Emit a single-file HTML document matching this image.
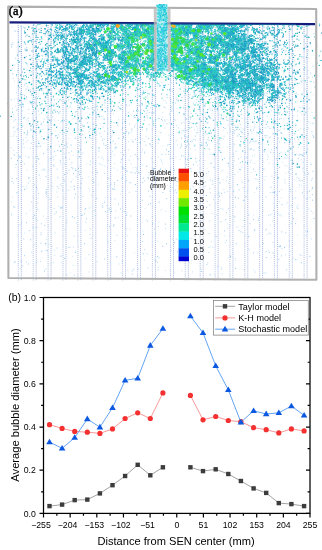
<!DOCTYPE html><html><head><meta charset="utf-8"><title>Bubble diameter</title>
<style>html,body{margin:0;padding:0;background:#fff}svg{display:block}text{font-family:"Liberation Sans",sans-serif;fill:#000}.se{font-family:"Liberation Serif",serif;font-weight:bold}</style></head><body>
<svg width="322" height="550" viewBox="0 0 322 550">
<rect width="322" height="550" fill="#fff"/>
<defs><linearGradient id="lg" gradientUnits="userSpaceOnUse" x1="0" y1="25" x2="0" y2="281"><stop offset="0" stop-color="#7c96d0"/><stop offset=".45" stop-color="#8aa0d4"/><stop offset="1" stop-color="#a4b4dc"/></linearGradient></defs>
<path d="M18.3 25V281M33.2 25V281M48.1 25V281M63.0 25V281M77.9 25V281M92.8 25V281M107.7 25V281M122.6 25V281M137.5 25V281M152.4 25V281M170.5 25V281M185.3 25V281M200.2 25V281M215.1 25V281M229.9 25V281M244.8 25V281M259.6 25V281M274.4 25V281M289.3 25V281M304.1 25V281" stroke="url(#lg)" stroke-width="1.1" stroke-dasharray="1.05 0.9" fill="none" opacity=".7"/>
<path d="M21.3 25.6V281M36.2 25.6V281M51.1 25.6V281M66.0 25.6V281M80.9 25.6V281M95.8 25.6V281M110.7 25.6V281M125.6 25.6V281M140.5 25.6V281M155.4 25.6V281M173.5 25.6V281M188.3 25.6V281M203.2 25.6V281M218.1 25.6V281M232.9 25.6V281M247.8 25.6V281M262.6 25.6V281M277.4 25.6V281M292.3 25.6V281M307.1 25.6V281" stroke="url(#lg)" stroke-width="1" stroke-dasharray="1.05 0.9" fill="none" opacity=".9"/>
<defs><filter id="sf" x="0" y="0" width="322" height="290" filterUnits="userSpaceOnUse"><feGaussianBlur stdDeviation="0.32"/></filter></defs>
<g filter="url(#sf)"><g transform="scale(.1)" stroke-linecap="round" fill="none">
<path d="M1265 270h1m-85 31h1m345 4h1m-158 49h1m1352-6h1m-1969 20h1m255 1h1m144 13h1m50-4h1m1123 11h1m-749 5h1m75 14h1m1147 4h1m-918 35h1m98-16h1m-351 39h1m-1241 16h1m81 13h1m1838-1h1m541 7h1m-2033 33h1m82-12h1m1529 5h1m92-15h1m-392 47h1m357-16h1m-2187 35h1m1119-9h1m1319-1h1m-1453 58h1m432 15h1m594-14h1m-1584 50h1m1600-2h1m-1941 23h1m94 17h1m243-4h1m687-11h1m66-9h1m552 14h1m467 2h1m507-19h1m44 12h1m-2952 33h1m1789 29h1m991 1h1m-2517 13h1m1135 21h1m498-3h1m922 2h1m-1562 38h1m1745-14h1m-2277 25h1m5-4h1m59 18h1m754-18h1m287 19h1m179-7h1m-141 24h1m150 6h1m680 10h1m96 13h1m-1323 31h1m881-9h1m-2252 50h1m135-19h1m66 12h1m1442 1h1m397 13h1m-2034 2h1m1709 6h1m122 2h1m153-7h1m8-2h1m814 26h1m-152 18h1m-2691 30h1m231-3h1m456 18h1m272-2h1m207-17h1m22-10h1m130 18h1m152-9h1m843-6h1m-1178 32h1m35 14h1m61 6h1m-870 11h1m1308 21h1m-1385 32h1m874-25h1m292-3h1m-302 55h1m1416-11h1m-1188 17h1m959 12h1m-2208 34h1m324-9h1m787 8h1m47-14h1m21 26h1m333-26h1m-1069 29h1m160 27h1m979-27h1m567 40h1m253 4h1m126 7h1m-2640 19h1m304 17h1m244-3h1m170-14h1m1443 10h1m-1644 32h1m211-8h1m1103 1h1m125-5h1m753 6h1m-2087 17h1m119 3h1m561 13h1m479-3h1m834-3h1m81-2h1m-2676 40h1m74-21h1m280 18h1m654-14h1m9 5h1m113-6h1m730 3h1m-1800 47h1m671-11h1m457 7h1m352 2h1m480-21h1m-1705 44h1m416 0h1m-342 26h1m1642 1h1m-2174 43h1m1499-12h1m450-4h1m877 9h1m-2659 18h1m1225 2h1m660 14h1m88-21h1m429 24h1m-2263 4h1m582 13h1m207-2h1m1633 10h1m-2209 14h1m236 6h1m251-9h1m1295-2h1m527 3h1m-895 51h1m-819 51h1m763-9h1m264 28h1m-2226 42h1m513 11h1m450-11h1m1759 12h1m-2567 31h1m361-18h1m498 16h1m303-20h1m749 21h1m68-22h1m324 8h1m259 15h1m261-28h1m-2772 46h1m243 35h1m1218 1h1m244-19h1m515 25h1m-1207 25h1m337-3h1m636 5h1m567 3h1m-2441 26h1m3-22h1m1634 5h1m112 6h1m-396 47h1m-777 45h1m1027-12h1m-588 30h1m-944 40h1m485-9h1m1199 17h1m-1176 23h1m1211 11h1m846-15h1m-2161 46h1m-287 70h1m190-6h1m1083 16h1m-359 28h1m785 6h1m288 28h1m-253 19h1m285 13h1m163-2h1m-908 31h1m212 5h1m-245 23h1m-841 34h1m1553 13h1m-2269 30h1m154 0h1m50 15h1m165-10h1m710 24h1m23 45h1m118 39h1m-546 11h1m-783 31h1m139-6h1m1664 31h1m-1611 46h1m1757-2h1m647 9h1m-767 46h1" stroke="#94c4ec" stroke-width="8"/>
<path d="M1043 284h1m437 9h1m1303-18h1m-2634 38h1m1092-9h1m735 13h1m499 4h1m-660 19h1m-1514 42h1m1214 1h1m46-3h1m1052-20h1m-77 43h1m-2435 40h1m690-21h1m1978 15h1m-1730 42h1m990-16h1m1012 8h1m-2645 24h1m2062-8h1m-418 29h1m-1683 80h1m1267-11h1m-989 39h1m981-18h1m1193 19h1m-2209 27h1m552 4h1m724-4h1m711 3h1m-685 23h1m-1580 13h1m2078 21h1m610-10h1m-2569 32h1m105 12h1m402-9h1m939-1h1m211 7h1m807-20h1m-1467 39h1m1462 8h1m-1437 15h1m331 43h1m1154 5h1m-2746 17h1m1406-2h1m317 19h1m154-13h1m4 6h1m36 2h1m11-6h1m730-11h1m-2719 32h1m112 22h1m1388-3h1m-968 28h1m96-5h1m698-14h1m309 6h1m1270 14h1m-2906 6h1m17 14h1m1205 2h1m187-6h1m778 5h1m245-3h1m-2375 27h1m267-10h1m611 3h1m525 11h1m882-5h1m-2207 26h1m1419 3h1m-1537 47h1m409-21h1m770 11h1m-715 35h1m174-4h1m67 7h1m697-5h1m1144 9h1m-1404 31h1m53-2h1m889-15h1m286-6h1m-2082 48h1m192 2h1m29-15h1m7-3h1m517 5h1m247 8h1m-607 19h1m1364-8h1m572 2h1m-2706 54h1m313-26h1m1116 13h1m27 11h1m491-8h1m267 13h1m254 4h1m240 30h1m257 0h1m-2997 43h1m1783-3h1m-1611 16h1m2 13h1m1007-13h1m1077 6h1m207-2h1m378 9h1m-2708 21h1m646 4h1m684-2h1m175 1h1m193 0h1m413 19h1m414-20h1m-855 35h1m704-5h1m390 16h1m-1564 14h1m603 15h1m107 2h1m-1968 36h1m397-29h1m407 29h1m833-20h1m32-3h1m635-3h1m-2139 54h1m1054-16h1m233-6h1m258 6h1m-287 46h1m137-19h1m-1256 35h1m898 8h1m1007 2h1m192-5h1m-2213 17h1m1183 9h1m266 2h1m981 8h1m121-1h1m-2460 15h1m1936 6h1m380 5h1m-2628 40h1m1650-26h1m-875 46h1m1922 3h1m-2382 21h1m678 2h1m1575 9h1m-2069 15h1m25 13h1m203 5h1m583-23h1m60 12h1m58 12h1m34 0h1m6-12h1m691-2h1m7 4h1m-916 27h1m40 8h1m533 5h1m687-12h1m129-5h1m162 9h1m-1298 51h1m353 18h1m-677 27h1m-616 8h1m1020 22h1m294-14h1m-1556 23h1m229 14h1m1128-12h1m165 20h1m611-14h1m417 0h1m-2917 30h1m721 12h1m213-20h1m604 6h1m997 17h1m-1123 7h1m137 3h1m422 0h1m833 0h1m-1600 74h1m79 34h1m301 28h1m-603 26h1m1772-8h1m-2030 24h1m-835 41h1m729-9h1m1160 6h1m481 7h1m199 2h1m57-11h1m-1881 47h1m287-9h1m154-20h1m902 57h1m373-16h1m-1059 33h1m1427 2h1m-2627 43h1m2216 21h1m-185 138h1m-1675 37h1m-215 33h1m2186 8h1m30 8h1m-2448 33h1m2569 2h1m-2171 25h1m2141 10h1m-2645 29h1m1414-12h1m-1337 49h1m60-20h1m1054 53h1m241 5h1m428-9h1m345-4h1m85 12h1m-1998 14h1m877-2h1m692 6h1m533 5h1" stroke="#7cbce8" stroke-width="8"/>
<path d="M452 283h1m1924 0h1m-2238 24h1m35 9h1m2732-9h1m-1827 46h1m501-1h1m-761 53h1m1041-12h1m78 15h1m560 65h1m-1982 12h1m214-2h1m1095 24h1m-1157 31h1m247 0h1m353-9h1m391-4h1m1087 4h1m89-13h1m-1165 31h1m797 15h1m195-17h1m-1913 49h1m1738 3h1m-1692 23h1m205 1h1m-703 17h1m187 0h1m1014 9h1m1095-13h1m-1057 53h1m-435 12h1m546 17h1m358-4h1m671-6h1m-2588 32h1m361-1h1m559 11h1m-882 12h1m1522 2h1m37 7h1m158-19h1m829 6h1m-295 52h1m-2275 4h1m1472 18h1m200-5h1m1198-1h1m-2076 25h1m626 11h1m943 6h1m549-23h1m-1933 41h1m-751 20h1m316-1h1m1295 7h1m-591 49h1m485-10h1m147 2h1m361 8h1m254-29h1m103 21h1m260-20h1m-2047 34h1m1903 20h1m-2706 5h1m1859 28h1m489-18h1m-1638 29h1m773 3h1m91-2h1m301 30h1m98 5h1m70-15h1m536 5h1m-2639 31h1m772 5h1m175 16h1m-734 11h1m762-6h1m1752 10h1m-1961 23h1m1440 12h1m635 3h1m-2693 22h1m76-4h1m1233 7h1m310 8h1m307-18h1m152 22h1m-1784 8h1m32 7h1m1281 6h1m121-6h1m260-10h1m33 12h1m-549 39h1m513-4h1m-854 18h1m220 13h1m329 2h1m434-3h1m128 3h1m109-2h1m-2495 37h1m1160-14h1m103-5h1m41 10h1m539 7h1m50-6h1m373-16h1m189 15h1m-1333 18h1m505 5h1m549 6h1m172-6h1m-1400 32h1m117 1h1m161 12h1m183-16h1m794-6h1m315 21h1m-2416 30h1m854-1h1m634 3h1m683-6h1m-2113 22h1m455 2h1m784 7h1m921-16h1m-1710 38h1m268 0h1m103 14h1m644-26h1m250 18h1m-1391 11h1m424 7h1m1884-6h1m93 19h1m-2941 14h1m29 22h1m1077-25h1m705 0h1m685 5h1m98 18h1m-2228 5h1m131 8h1m476 0h1m325-5h1m209 11h1m446 3h1m234-12h1m454 24h1m240-21h1m13 0h1m-2059 33h1m315-8h1m1106 8h1m217 17h1m51-19h1m-687 36h1m346-2h1m169-2h1m-1588 24h1m384 14h1m797-2h1m163-8h1m-916 44h1m1490-20h1m-2360 48h1m752-9h1m1534-7h1m-227 29h1m498 35h1m-2471 33h1m2388-5h1m21 21h1m129-8h1m-1065 27h1m-1457 29h1m2390 1h1m-2286 21h1m890 19h1m195 30h1m650-1h1m370-21h1m-967 35h1m623-9h1m-1897 49h1m-199 14h1m1754 13h1m-1762 36h1m648 1h1m2064 55h1m-2003 19h1m524-8h1m1335 14h1m-2125 35h1m1298-15h1m1007-4h1m-779 32h1m-447 57h1m-1643 7h1m1 1h1m1319-5h1m684 18h1m-1007 48h1m735-8h1m1060 71h1m-1340 42h1m39-1h1m-186 20h1m532 6h1m-1660 31h1m1991-12h1m-1744 33h1m2198 45h1m-2584 7h1m1232 77h1m484 6h1m-1819 21h1m316 1h1m438-11h1m599 6h1m503 7h1m-1568 11h1m1073 30h1m-696 49h1m322 8h1m488-24h1m120 6h1m-1156 40h1m1553-11h1m427-8h1" stroke="#a8d0f0" stroke-width="8"/>
<path d="M1610 267h1m-258 8h1m200 20h1m897 16h1m541 3h1m-2498 17h1m168 14h1m-540 100h1m420 3h1m984-9h1m132 18h1m1156 30h1m-2300 44h1m373-20h1m939 17h1m-92 41h1m-792 20h1m542 7h1m499-21h1m30-1h1m-984 26h1m-405 37h1m146 14h1m514 3h1m-92 26h1m245-8h1m494-1h1m254 14h1m-1621 24h1m1117-2h1m718-17h1m-1988 52h1m1048-18h1m-1222 37h1m867-11h1m168 29h1m1365-27h1m-2477 45h1m320 9h1m316 0h1m310-25h1m978 7h1m314 8h1m-2038 24h1m129 18h1m357-28h1m889 27h1m117 2h1m-894 9h1m917 11h1m335 6h1m-1689 9h1m152 23h1m558-9h1m-847 35h1m657-14h1m1408-7h1m37 6h1m53 3h1m-2357 38h1m76 7h1m531 1h1m208-13h1m484 11h1m903-19h1m503 0h1m-1402 44h1m-293 29h1m398 3h1m446 14h1m520-6h1m-2389 50h1m349-12h1m1253-5h1m610 18h1m-2072 36h1m437-8h1m684-18h1m594 1h1m6 20h1m61 3h1m900-20h1m-2779 50h1m190-7h1m990-8h1m-1338 24h1m82 9h1m238 2h1m470-14h1m333 5h1m73 23h1m856-27h1m-1008 55h1m261-23h1m1385 15h1m-2548 20h1m1467-8h1m609 19h1m81 1h1m96-5h1m169 6h1m20-20h1m-563 63h1m326 5h1m312-9h1m92 11h1m-2485 23h1m518 6h1m4 10h1m1575 5h1m-477 22h1m-1937 25h1m53 2h1m2212-1h1m293-7h1m-436 35h1m-1370 34h1m1651-8h1m-58 42h1m158-18h1m-1472 50h1m754-7h1m365-15h1m234 23h1m400-19h1m-1783 39h1m905 13h1m-1514 17h1m211 9h1m2239-10h1m-2713 21h1m859 3h1m246-5h1m146 23h1m246-11h1m765-11h1m-2045 51h1m1126-20h1m345 23h1m97-9h1m622-10h1m-2067 46h1m257-3h1m276-5h1m283 13h1m536-25h1m579 10h1m560-6h1m-2950 48h1m2032-14h1m142 11h1m0-18h1m536 4h1m-2497 49h1m1224 0h1m54-14h1m-1183 22h1m924 18h1m818-14h1m819-4h1m-1806 34h1m1414 50h1m-1390 20h1m1331-4h1m-939 21h1m24 16h1m84 3h1m1252 1h1m-2748 30h1m258-25h1m566-1h1m1336 15h1m-1762 28h1m544 10h1m1058 1h1m-1071 27h1m542-18h1m-1621 50h1m700-8h1m1984 13h1m-2174 13h1m-526 31h1m2055 4h1m793 42h1m-2363 20h1m805-14h1m-1111 26h1m928 14h1m-764 75h1m454-5h1m263-10h1m555-9h1m600 2h1m239 12h1m235-19h1m100 55h1m-2563 61h1m1420-2h1m-676 60h1m450-1h1m1120 11h1m-2210 51h1m1434-13h1m-832 18h1m79 6h1m374 13h1m-1059 17h1m2339 23h1m-705 8h1m581 40h1m-1339 21h1m940 48h1m66 25h1m581-20h1m32 18h1m-2357 24h1m483 2h1m121 0h1m1671-11h1m-1701 26h1m1572 18h1m-1110 45h1m1004 26h1" stroke="#b4e0f0" stroke-width="8"/>
<path d="M2172 265h1m-1920 25h1m974 34h1m728-6h1m-1502 39h1m75-23h1m-201 67h1m785 13h1m1649-7h1m-2365 29h1m166-9h1m1842 22h1m689-1h1m-2937 24h1m1116-21h1m272 21h1m97-11h1m-222 45h1m622 3h1m323-22h1m-1925 27h1m178 3h1m1398 9h1m26 13h1m844-12h1m-2485 34h1m113-7h1m1358 1h1m1016-13h1m-2457 45h1m431 3h1m1871-3h1m-844 37h1m560-11h1m579 10h1m-2920 23h1m41 1h1m270 8h1m40-15h1m746 17h1m119-15h1m1071 16h1m-653 14h1m31-10h1m1037 5h1m-1946 29h1m109 9h1m802 2h1m1179 3h1m-1813 30h1m-513 20h1m181 11h1m1828-11h1m-2227 36h1m1522 5h1m-1653 20h1m370 16h1m23-7h1m636-14h1m1007 15h1m-1853 32h1m1579 1h1m255-3h1m463-16h1m-1582 41h1m388 3h1m97-2h1m510-6h1m-1808 29h1m994 18h1m584-23h1m83 17h1m-615 21h1m182 7h1m178 6h1m226-21h1m334 16h1m728-3h1m-2676 28h1m425-3h1m145 10h1m663-5h1m805-4h1m563-5h1m-974 50h1m317-23h1m562 5h1m-2658 28h1m399 5h1m-123 41h1m450-22h1m318 4h1m119 4h1m229 14h1m55 13h1m559 14h1m383 5h1m-2328 10h1m1734 16h1m428 0h1m424-16h1m27 4h1m-2612 27h1m919 1h1m311 20h1m997-14h1m-2421 41h1m59 3h1m16-12h1m258 11h1m709 0h1m1170-13h1m87 11h1m208-4h1m-2379 10h1m1572 23h1m237-22h1m314 19h1m166-11h1m24 7h1m385-17h1m-2217 44h1m113-13h1m411 17h1m84-8h1m253-11h1m-1543 34h1m1068 28h1m1012 12h1m366 8h1m202-19h1m-2657 45h1m818 8h1m273-9h1m15-16h1m32 19h1m-1015 20h1m143 4h1m216-4h1m1985 17h1m33-2h1m313-6h1m157-18h1m-2897 58h1m457-26h1m63 1h1m495 4h1m1059 0h1m223 2h1m533-7h1m-2481 33h1m1917-6h1m-876 47h1m106 2h1m-1226 25h1m1353-10h1m613 20h1m20 1h1m14-9h1m416 42h1m-2322 19h1m796 12h1m632-15h1m175 14h1m-1422 8h1m221 17h1m680 4h1m181-2h1m-848 13h1m821 15h1m781 3h1m270-11h1m77 4h1m23-13h1m-2615 39h1m308 12h1m917-14h1m1065 1h1m133-14h1m72 23h1m-2102 20h1m533 16h1m645-25h1m-1707 45h1m534-15h1m462 17h1m800-18h1m-224 55h1m436-6h1m309 2h1m258-4h1m-1237 16h1m1040 19h1m-1930 28h1m2219 5h1m-1641 29h1m1109-20h1m309 15h1m-2521 28h1m311-18h1m463 9h1m924 17h1m293-25h1m82-2h1m-2065 33h1m7 3h1m130 3h1m160-4h1m361 17h1m687-11h1m737 5h1m685-5h1m-2619 26h1m517 10h1m184-10h1m44-5h1m1831 19h1m161-11h1m-1255 30h1m676-6h1m-694 52h1m1082 7h1m-1887 27h1m341 10h1m1403-3h1m-1730 36h1m742 9h1m173-18h1m-1611 37h1m251-9h1m827 12h1m-794 16h1m612 24h1m1360-14h1m-98 36h1m246-5h1m-1580 61h1m1501 50h1m-1856 51h1m-604 27h1m1180-19h1m1628 0h1m-1782 47h1m1698-7h1m-2200 61h1m-433 31h1m150-1h1m1315-11h1m-1607 60h1m2130 45h1m655 4h1m-2268 23h1m2021 4h1m-1896 14h1m589 21h1m474 3h1m791-26h1m-818 43h1m640 74h1m-1258 7h1m467 22h1m1159-3h1m-2204 8h1" stroke="#bcdcf4" stroke-width="8"/>
<path d="M373 249h1m221 18h1m381 0h1m86-1h1m210-22h1m6-4h1m6 16h1m0 3h1m135-16h1m7 12h1m16-8h1m375 6h1m87-5h1m218 5h1m35-10h1m24 19h1m43-8h1m82-13h1m32 28h1m-1599 1h1m127 8h1m49 8h1m8 8h1m42-12h1m52 1h1m204 8h1m10-7h1m61-6h1m43-5h1m-1 7h1m143 1h1m368 8h1m122-4h1m11-2h1m39 2h1m233-3h1m3 10h1m26 3h1m9 4h1m3-3h1m11-1h1m214 0h1m39-20h1m76 19h1m331-21h1m-2590 51h1m172-24h1m34 11h1m14 0h1m195-8h1m394 4h1m562 7h1m80-9h1m13-4h1m4-1h1m11 14h1m88 10h1m219 3h1m31 0h1m70-18h1m18 15h1m129-22h1m139 3h1m-2057 45h1m54 0h1m478-17h1m178 18h1m44 3h1m66-12h1m10 13h1m5-2h1m404-8h1m15-11h1m0 13h1m351 8h1m15-3h1m71-2h1m8-3h1m230 11h1m-1992 2h1m51 19h1m53-4h1m172 8h1m37-17h1m77 20h1m121-3h1m4 6h1m293-21h1m29 18h1m380-26h1m13 17h1m27 0h1m192 4h1m165 2h1m23-12h1m19 17h1m72-1h1m16-27h1m10 6h1m31 13h1m100 4h1m33-20h1m702 6h1m-2485 28h1m70 4h1m9-9h1m42 4h1m19 5h1m4-2h1m199 15h1m280-12h1m190 10h1m328-5h1m35 7h1m305-22h1m15-2h1m7 7h1m25-5h1m138 6h1m20 2h1m7-7h1m9 23h1m131-23h1m-1787 32h1m112 8h1m14 3h1m18 6h1m164-1h1m4 6h1m15-24h1m120 25h1m207-23h1m388 5h1m194 0h1m115 0h1m-1 5h1m10 3h1m116-14h1m45 18h1m37-15h1m22 13h1m13-7h1m58 12h1m46-24h1m7 20h1m30-20h1m36 7h1m99 11h1m163-13h1m-2315 41h1m433-7h1m135 11h1m19-17h1m0 4h1m11-2h1m107 2h1m12 0h1m92 11h1m206 0h1m14 2h1m19-20h1m211 14h1m19-10h1m157 2h1m5 7h1m2 15h1m91-15h1m4-6h1m138 18h1m1-22h1m95 3h1m37 3h1m18-8h1m38 22h1m40-10h1m138 5h1m8 10h1m-1726 18h1m-1 2h1m97-11h1m2 9h1m23-10h1m57 0h1m16 9h1m75-9h1m163 11h1m207-12h1m410-2h1m64 21h1m36-17h1m9 14h1m70-11h1m213 18h1m12-7h1m233 4h1m11-7h1m10-4h1m267-3h1m-2375 18h1m273 11h1m86-7h1m224 0h1m58 14h1m5 2h1m117 9h1m66-22h1m3 10h1m28-1h1m30 4h1m661 8h1m196-27h1m34 11h1m2-7h1m46 3h1m152-3h1m64 21h1m21-11h1m3 1h1m3 10h1m13-16h1m3 4h1m51 5h1m2 1h1m43-7h1m-1922 17h1m97 20h1m58-9h1m24 15h1m166-21h1m39 6h1m0-6h1m204 15h1m399-19h1m259 6h1m7 16h1m7-22h1m34 20h1m30-17h1m65 24h1m12-22h1m11 23h1m28-10h1m148-11h1m25-4h1m111 10h1m2 14h1m97-20h1m116-2h1m304 18h1m-2313 22h1m50 2h1m24-4h1m76-12h1m36 17h1m226-11h1m105 14h1m52-20h1m2 19h1m54-20h1m5 10h1m2-5h1m609 2h1m57-5h1m34 15h1m75-13h1m43-1h1m7 19h1m60-18h1m228 9h1m156 6h1m289-10h1m-2227 35h1m13-8h1m7 7h1m11 9h1m2 1h1m3-12h1m2 2h1m26 15h1m132-15h1m128 9h1m212-3h1m156-18h1m85 0h1m41 27h1m304-21h1m103 7h1m19-2h1m1 3h1m12 11h1m192-26h1m33 2h1m176 14h1m172 2h1m186-19h1m7 28h1m47-18h1m-2499 28h1m166 19h1m100-1h1m292 3h1m183-27h1m4 26h1m154-18h1m67 13h1m23-8h1m511-2h1m89-4h1m117 4h1m51 10h1m7-7h1m62-16h1m17 2h1m73 14h1m97 8h1m22-8h1m125 3h1m51-14h1m202 22h1m12-7h1m-2209 16h1m248 18h1m508-9h1m260 1h1m190-14h1m238 5h1m9 10h1m2-7h1m14-1h1m27 4h1m64 10h1m43 4h1m152 0h1m13-15h1m10 7h1m41-12h1m24 0h1m37 4h1m106 16h1m41-24h1m30 0h1m20 6h1m126 7h1m6 6h1m83-9h1m-2074 34h1m272 0h1m944 0h1m117 12h1m30-15h1m15-12h1m39 22h1m67-24h1m15 29h1m21-19h1m132 13h1m54 3h1m7-15h1m25-5h1m11 9h1m100-11h1m34 25h1m44-18h1m30 11h1m116 5h1m-2329 11h1m57-7h1m245 10h1m116 14h1m66 3h1m44-1h1m251-17h1m280-7h1m355-1h1m45 26h1m130-10h1m210-4h1m52 13h1m66-2h1m17-18h1m7 20h1m27-2h1m5-12h1m181-13h1m55 14h1m188-10h1m-2442 33h1m1-7h1m137 25h1m144-18h1m11 17h1m59-8h1m141-6h1m197 10h1m688 6h1m102-25h1m56 7h1m57 3h1m22-2h1m7 7h1m8 12h1m22-3h1m74-10h1m185-2h1m44-7h1m34 4h1m-1910 29h1m232 9h1m171 1h1m53-8h1m77 7h1m52 0h1m829-9h1m157-4h1m15 22h1m42-17h1m21 8h1m20-18h1m96 13h1m41 0h1m13-8h1m5 20h1m41-20h1m3-2h1m64 20h1m7-4h1m65 3h1m110-1h1m11-17h1m-2364 26h1m16 9h1m180-7h1m133 18h1m6-17h1m22-1h1m164 16h1m24-1h1m-1 4h1m86-9h1m14 2h1m79 7h1m864-4h1m100-2h1m91 5h1m87-10h1m48 6h1m11-7h1m103 8h1m7-16h1m108 15h1m87 4h1m40-14h1m-2103 46h1m279 1h1m307-9h1m969 13h1m50-16h1m39 14h1m24-14h1m24 13h1m2 1h1m6-7h1m2 7h1m21-2h1m45-8h1m35-15h1m-1 26h1m33 1h1m38-27h1m24 15h1m26-2h1m2-10h1m40 7h1m48 11h1m79-4h1m62-4h1m75-3h1m31-4h1m-2484 34h1m337 9h1m152 6h1m1217-5h1m163-3h1m29-14h1m233 14h1m4-8h1m-2091 21h1m215 12h1m532-8h1m900 19h1m176-18h1m60-4h1m103 9h1m40-4h1m20 8h1m79-13h1m14 15h1m6 12h1m4-18h1m14-9h1m12 13h1m125-7h1m15 5h1m3-2h1m-40 34h1m10 2h1m-522 30h1m38-5h1m185 11h1m2-19h1m6 26h1m99-21h1m64 17h1m88-11h1m-2107 44h1m13-20h1m1648 21h1m317-12h1m14 0h1m90-3h1m26-5h1m9-1h1m323 12h1m-2709 11h1m1802 4h1m165-4h1m98 0h1m161 14h1m-1 4h1m140-15h1m-2160 35h1m1587-7h1m370 0h1m-2144 28h1m1011 28h1m1047-7h1m526-2h1m25 106h1m-877 72h1m831 41h1m-1683 14h1m1707 6h1m52 38h1m-188 189h1m-392 53h1m498-16h1" stroke="#24b8cc" stroke-width="10"/>
<path d="M388 246h1m466 20h1m558-25h1m365 3h1m114 24h1m173-18h1m11-9h1m30 28h1m2-21h1m17 15h1m47-9h1m108 7h1m30-11h1m49 14h1m52-16h1m1 17h1m62-23h1m309 1h1m26 8h1m-2101 26h1m71 2h1m21-8h1m-1 28h1m8-29h1m79 3h1m309 7h1m528 11h1m13-8h1m90-2h1m143 4h1m59-10h1m19 20h1m169-15h1m12 10h1m67 5h1m18-14h1m25 7h1m-1867 41h1m139-21h1m141 19h1m27-3h1m20-17h1m34 13h1m103-8h1m215 11h1m80-22h1m27 17h1m81-18h1m61 23h1m343 4h1m6-13h1m222 12h1m160-11h1m50-9h1m12 14h1m10-20h1m46 24h1m0-21h1m7 15h1m22-12h1m6 19h1m242 2h1m186-25h1m17 15h1m1-13h1m-2445 34h1m477-5h1m9 17h1m191 1h1m82-2h1m6-18h1m55-1h1m69 22h1m22-9h1m478-1h1m4-7h1m50 11h1m162 0h1m283 5h1m68-18h1m2 23h1m246-5h1m-1983 38h1m39-13h1m141-2h1m129-9h1m24 12h1m111 11h1m57-15h1m13-9h1m29 18h1m141 3h1m63-24h1m115 12h1m41 6h1m644 2h1m29 0h1m21-9h1m20 3h1m40 2h1m23-16h1m114 26h1m69-12h1m-1890 23h1m24 3h1m128 14h1m15-17h1m322 21h1m36-28h1m38 18h1m137 7h1m244-9h1m227 12h1m41-9h1m332-2h1m87 7h1m3-15h1m73 2h1m29 8h1m37-16h1m7-1h1m28 9h1m31 1h1m69 0h1m480-2h1m-2589 43h1m337-15h1m23 1h1m101-1h1m18 9h1m31-17h1m42 6h1m42-6h1m53 12h1m2-7h1m656 15h1m96 4h1m11-20h1m71 21h1m42-9h1m178-16h1m79-1h1m2 1h1m9 4h1m71 9h1m17 2h1m52 9h1m25-7h1m41 9h1m11-15h1m19-9h1m114 24h1m189 1h1m-2270 8h1m260 22h1m57-28h1m83 22h1m0 7h1m36-23h1m24 2h1m182-1h1m147 2h1m475-7h1m136 1h1m24 2h1m157 17h1m31-14h1m122-8h1m5 15h1m31 0h1m55 10h1m105-15h1m14-10h1m8 27h1m6-15h1m16 7h1m76-8h1m-2011 41h1m29-11h1m86-8h1m89-2h1m285 15h1m2 12h1m264-4h1m186-15h1m380-9h1m42 3h1m36 11h1m31 11h1m208 2h1m52-5h1m19 0h1m55-13h1m0-6h1m7 2h1m146 19h1m-1969 28h1m244-22h1m9 22h1m54-12h1m18 8h1m0-8h1m81 7h1m167 10h1m6-12h1m20 13h1m88-4h1m26-5h1m274-10h1m485-6h1m5 12h1m113-10h1m126 8h1m19 2h1m116-3h1m21 10h1m15 3h1m98-10h1m2-7h1m1-8h1m27 3h1m-1898 34h1m158 22h1m251-18h1m31-3h1m73 7h1m42-3h1m54-1h1m21 10h1m63-12h1m72 1h1m465-5h1m60 1h1m4 19h1m72 1h1m134-5h1m11 5h1m2-2h1m207 5h1m43-22h1m89 11h1m12 0h1m171-11h1m298 21h1m-2355 24h1m5-16h1m99 8h1m5 8h1m22-6h1m62 7h1m22 0h1m7-16h1m305 19h1m136-11h1m14 13h1m103-12h1m450-13h1m16 21h1m149 3h1m20 2h1m11-10h1m29-11h1m236 1h1m177-7h1m3 26h1m16 0h1m-2396 6h1m460 2h1m164 6h1m81 8h1m10-6h1m57-3h1m325 17h1m227-24h1m209 15h1m129 4h1m1-21h1m398 12h1m55-14h1m64 15h1m142 0h1m7 0h1m40 2h1m33 2h1m103 4h1m27-19h1m-2182 40h1m137-10h1m7-4h1m107 9h1m2 3h1m10 7h1m3-19h1m315 21h1m82-8h1m166-12h1m135 28h1m254-11h1m35 10h1m3 0h1m194-20h1m151-3h1m54-1h1m88 20h1m46 2h1m0-7h1m5-15h1m15-2h1m326 26h1m31-3h1m0-17h1m-2138 45h1m101-21h1m70 25h1m11-10h1m164-15h1m1 5h1m202 1h1m111 7h1m778 6h1m52 7h1m81-3h1m47-22h1m93 6h1m7 5h1m78-9h1m4 11h1m4 3h1m9-19h1m3 21h1m25-12h1m102 1h1m41-2h1m25 17h1m38-14h1m56 5h1m172 6h1m-2337 12h1m88 7h1m14 17h1m78-7h1m67 1h1m1000-17h1m121 11h1m57-3h1m11-1h1m63 12h1m23-5h1m32-7h1m29 11h1m84-3h1m3-6h1m114 14h1m1-10h1m41-17h1m115 19h1m21 8h1m14-22h1m28 6h1m71-5h1m32 4h1m43 11h1m30-4h1m-2373 40h1m49 1h1m66-29h1m35 25h1m50-5h1m205 6h1m52 1h1m71-26h1m252 25h1m14-21h1m48-5h1m606 20h1m48-9h1m86 4h1m4-4h1m108 10h1m18-8h1m33-4h1m148 18h1m8-3h1m97-4h1m76-8h1m83 2h1m38-6h1m11 8h1m63 6h1m87 4h1m176-4h1m-2479 33h1m2 0h1m272-1h1m54-19h1m8 9h1m36 15h1m17-4h1m250-3h1m440-8h1m407-10h1m100 21h1m20-21h1m36 5h1m115 8h1m12-11h1m84 22h1m93-26h1m67 12h1m33 12h1m13-19h1m29 19h1m51-25h1m72 2h1m67 25h1m-2530 19h1m368-3h1m59-8h1m226 15h1m115-13h1m172 6h1m86 12h1m39-14h1m580 9h1m233-5h1m22 6h1m35-3h1m39 5h1m49 0h1m48-6h1m23 4h1m1-11h1m82 14h1m12 3h1m53-19h1m59 4h1m-1 9h1m4-7h1m7-9h1m9 21h1m84-13h1m46 5h1m8 2h1m57 1h1m119-14h1m-2509 43h1m50 2h1m46 1h1m253-12h1m68 3h1m58-3h1m195 1h1m1021 7h1m72-7h1m70-11h1m67 10h1m9 9h1m16 7h1m6-18h1m59 18h1m35-12h1m12-1h1m2 8h1m6-20h1m17 6h1m5 6h1m21 10h1m8 3h1m34-28h1m143 23h1m-2087 17h1m188-3h1m690 2h1m451 3h1m229-9h1m1-2h1m36 8h1m170 1h1m24 6h1m21 11h1m25-10h1m30-3h1m17-12h1m1 0h1m62 22h1m41-9h1m11 12h1m77-17h1m110 6h1m-2488 30h1m765 2h1m706 1h1m422-18h1m21 25h1m114-22h1m63 23h1m73-9h1m1-15h1m120 22h1m0-9h1m7-5h1m-1517 19h1m36 29h1m1020-21h1m48-5h1m65 6h1m10 9h1m210-3h1m7-4h1m363 9h1m-2677 27h1m114-12h1m149 4h1m147 5h1m137-12h1m151 19h1m22-17h1m1365 1h1m181 3h1m55-2h1m10 0h1m50-1h1m141 22h1m-2371 26h1m618-12h1m1162 8h1m148-7h1m250 8h1m23 2h1m-593 34h1m449-4h1m42-5h1m69 12h1m56-27h1m186 6h1m22 3h1m-359 29h1m40 3h1m54-1h1m19-7h1m6 1h1m-242 41h1m-309 33h1m-1510 21h1m1948 2h1m-1851 84h1m2051 13h1m-2349 23h1m2041 50h1m604 79h1" stroke="#28c0c0" stroke-width="10"/>
<path d="M399 244h1m370-3h1m165 13h1m174-7h1m0 22h1m23-3h1m8 2h1m144-26h1m91 7h1m139 9h1m214-6h1m27 9h1m33-7h1m104-12h1m67 16h1m62-7h1m69 7h1m88 7h1m10-3h1m77-5h1m7-8h1m27-8h1m17 13h1m62 15h1m-2153 10h1m140 14h1m121-2h1m681-9h1m37-4h1m32 0h1m89-2h1m161 1h1m208-4h1m56 17h1m74-15h1m11 10h1m22 4h1m91-3h1m20-11h1m65 8h1m149 9h1m23-22h1m2 14h1m8 13h1m2 1h1m65-14h1m10 2h1m386-14h1m117 13h1m-2515 22h1m375 21h1m15-5h1m17-6h1m5 3h1m64-10h1m253 5h1m64-3h1m320-4h1m73 13h1m191-19h1m75 11h1m88-5h1m13-6h1m345 27h1m20-21h1m-1760 38h1m84 1h1m136 3h1m365 7h1m156-15h1m56-1h1m148-2h1m311 13h1m37-14h1m101-4h1m227 18h1m33-2h1m8 7h1m20 2h1m73-27h1m3 2h1m164 17h1m206-19h1m-2078 53h1m42-5h1m9-16h1m102 4h1m178 10h1m39 6h1m2-1h1m136-22h1m189 3h1m14 19h1m2-9h1m216 8h1m429-12h1m41 18h1m17-22h1m272 18h1m56-8h1m71 0h1m35-8h1m101 5h1m200-13h1m-2185 56h1m198-22h1m41 23h1m96-15h1m140-4h1m53-2h1m143 9h1m19-15h1m528 21h1m88 0h1m76 1h1m76 2h1m44-14h1m67 12h1m15 3h1m42-24h1m45 12h1m50-12h1m16 18h1m47-10h1m30 7h1m128 6h1m128 6h1m-2326 26h1m213-24h1m125 20h1m66-5h1m18-15h1m37 8h1m181 7h1m3-2h1m10-9h1m269-3h1m30 9h1m5 12h1m49 1h1m415-16h1m22-2h1m128 13h1m91 0h1m235 8h1m4 1h1m17-1h1m42 3h1m35-7h1m38-5h1m2 9h1m35-9h1m5-10h1m83-2h1m15 1h1m3-4h1m119 10h1m91-8h1m-1881 43h1m84-13h1m239 20h1m58-4h1m519-18h1m208 6h1m23 20h1m160-20h1m11-7h1m92 4h1m80 11h1m13 2h1m49 2h1m13-13h1m118 17h1m5-11h1m45-8h1m3 24h1m243-14h1m-2359 27h1m315-6h1m291 6h1m-1 3h1m42 4h1m51-18h1m36 12h1m198-8h1m513 13h1m20 1h1m8-18h1m36 18h1m84-2h1m23-14h1m24 15h1m270-14h1m36-1h1m101 24h1m35-6h1m-1941 22h1m49 15h1m151-8h1m48 5h1m56-3h1m43-14h1m123-6h1m2 26h1m172-23h1m13 19h1m407 0h1m287 4h1m4-3h1m2-17h1m219 9h1m0-9h1m0 1h1m115-7h1m157 14h1m36-11h1m22 21h1m37-11h1m324 14h1m274-27h1m-2455 47h1m17-1h1m89 11h1m2-29h1m86 7h1m116 7h1m325-8h1m483 9h1m82-13h1m36 16h1m20-5h1m12-3h1m104-10h1m206 1h1m6 14h1m8 6h1m62 7h1m166-15h1m1-12h1m222 3h1m134 11h1m-2472 37h1m256 5h1m84-27h1m19 2h1m60 13h1m174 14h1m120-26h1m69 7h1m46 6h1m22-15h1m4 12h1m491-7h1m142 23h1m15-13h1m303 7h1m121-23h1m27 16h1m176-5h1m86 10h1m-2455 36h1m155-19h1m287 21h1m14-25h1m200 10h1m356 9h1m155-1h1m57-4h1m420 3h1m18-15h1m108 4h1m54 10h1m2-2h1m243 8h1m60-10h1m6 11h1m17-16h1m12-5h1m1 22h1m12-12h1m47-16h1m28 7h1m362 10h1m-2390 25h1m35-6h1m144 7h1m15-10h1m104 21h1m15-5h1m2-4h1m15-4h1m6-10h1m18-1h1m26 7h1m418 8h1m433 3h1m140-17h1m75 2h1m73 22h1m20-5h1m90-6h1m102 4h1m26 1h1m11-4h1m0 0h1m61-15h1m5 21h1m70-19h1m5 1h1m43 14h1m324-4h1m-2502 39h1m242-5h1m122-17h1m80 28h1m19-24h1m70 10h1m261-13h1m44 7h1m40 16h1m37-16h1m90-6h1m3 9h1m385-11h1m266 12h1m62-6h1m32 19h1m114-22h1m187 15h1m95-17h1m148 9h1m0 11h1m3 4h1m8-22h1m53-2h1m99 12h1m-2320 28h1m258-5h1m110 11h1m187-9h1m96-1h1m400 9h1m502-7h1m20 14h1m29-6h1m56 10h1m28-14h1m45-10h1m37 11h1m121 14h1m48-23h1m29 17h1m10-14h1m187 13h1m10-17h1m11 8h1m12 17h1m-2226 26h1m270-17h1m10 13h1m31 2h1m16-2h1m0 3h1m220 0h1m902 4h1m59-6h1m103-7h1m38 5h1m35 5h1m8-3h1m113-20h1m210 19h1m133 3h1m41-4h1m-2386 33h1m237-9h1m70-7h1m165 9h1m12-9h1m23-7h1m8 10h1m3-4h1m27 8h1m50 13h1m22-7h1m60 7h1m579-1h1m128 2h1m219-18h1m216-5h1m13 9h1m344 13h1m4-27h1m77 4h1m128-3h1m38 12h1m23-1h1m-2172 26h1m82-7h1m67 3h1m56 21h1m4-16h1m11 14h1m11-13h1m296-1h1m766 7h1m142 3h1m141-15h1m6 22h1m43-3h1m4-21h1m10 1h1m90-2h1m20 14h1m59 14h1m149-27h1m27 4h1m98 6h1m59 0h1m92-11h1m-2410 45h1m148 3h1m74 10h1m136-18h1m3 0h1m0 1h1m12 8h1m9 7h1m275-6h1m850-9h1m124 17h1m15-13h1m32 2h1m50-10h1m61 12h1m45-4h1m39 4h1m29-5h1m8-13h1m62 18h1m7-9h1m25 3h1m8-11h1m43 17h1m23 7h1m47-24h1m27 7h1m3 4h1m191 7h1m49 2h1m-2294 31h1m137 2h1m28-26h1m56 26h1m34 3h1m4 0h1m50-22h1m24-6h1m128 24h1m850-22h1m350 19h1m14 5h1m32-27h1m9 13h1m39 12h1m48 0h1m40-9h1m2 9h1m300 0h1m-2260 13h1m637 21h1m8-9h1m816-15h1m193 15h1m33 7h1m15-23h1m83 23h1m30-7h1m8-3h1m6-13h1m8 17h1m25-13h1m120 15h1m7-7h1m92 3h1m152-12h1m11 20h1m16-12h1m410-15h1m-791 59h1m6-17h1m119-9h1m80 13h1m23-5h1m10-11h1m69 16h1m62 7h1m97-18h1m-540 31h1m131-5h1m25 3h1m11-1h1m95 1h1m10 3h1m252 21h1m192-14h1m-2189 35h1m1451-15h1m62 19h1m107-19h1m176 3h1m139-3h1m-568 30h1m23 23h1m192-5h1m13-17h1m64-5h1m28 4h1m19 23h1m161-20h1m2-4h1m23 14h1m-2029 20h1m1623 7h1m102 4h1m0-6h1m-2112 36h1m2271-1h1m13 3h1m-2180 38h1m106-5h1m604 4h1m-823 29h1m233-16h1m30 10h1m2200-1h1m-206 69h1m-2090 4h1m1558 11h1m705 24h1m-2427 32h1m2171 31h1m-2265 28h1m2177 0h1m350 18h1m-364 19h1m-1 49h1m619 142h1m-70 185h1" stroke="#30b0c4" stroke-width="10"/>
<path d="M465 241h1m93 23h1m15-11h1m153-8h1m199 23h1m71-26h1m10 11h1m145-8h1m97 6h1m81-2h1m91 2h1m331-6h1m282 9h1m15 11h1m80-25h1m185 3h1m16 9h1m2-7h1m7 4h1m111 18h1m-1956 32h1m39-6h1m48-14h1m2-1h1m75 5h1m158 10h1m49-21h1m456 11h1m154-10h1m297 15h1m206 7h1m10-16h1m33-8h1m39 5h1m2 3h1m107 12h1m123-11h1m63 3h1m12-11h1m1 8h1m47 3h1m105 14h1m79-25h1m38 23h1m-2126 30h1m273-25h1m89 9h1m16 6h1m40-10h1m75-1h1m1 16h1m71-17h1m169 5h1m37 17h1m109-24h1m285 9h1m36 11h1m58 6h1m88-14h1m9 13h1m130-25h1m167 18h1m7-17h1m24 4h1m12 10h1m7 7h1m30-7h1m-1949 40h1m197-16h1m81 12h1m87-8h1m186-5h1m18 14h1m9-6h1m256-14h1m174 11h1m16-10h1m65 23h1m355-22h1m129 8h1m277-8h1m75 10h1m17 5h1m6-16h1m59 8h1m380 11h1m-2142 25h1m47-15h1m231 18h1m100-18h1m4 10h1m10 2h1m85 5h1m24-5h1m30-2h1m95-9h1m139 10h1m86-8h1m501 13h1m14-14h1m89 23h1m84-24h1m103 0h1m49 9h1m18-12h1m46 17h1m95 1h1m6-11h1m-2130 29h1m25-1h1m157 3h1m382 9h1m105 0h1m188-5h1m46 15h1m752-22h1m87 16h1m5-16h1m17 23h1m37-17h1m32-12h1m65 22h1m3-9h1m7 6h1m20-8h1m7 17h1m62-20h1m37 2h1m109 9h1m-1769 32h1m95-6h1m13-6h1m87 18h1m9-27h1m7 5h1m69-4h1m206 2h1m11 22h1m0-5h1m231 2h1m341-2h1m15-18h1m96 19h1m136-12h1m67-2h1m94 10h1m20 3h1m14 6h1m66-15h1m16 7h1m60-13h1m36 7h1m160-1h1m-2104 41h1m10-11h1m224-2h1m104 0h1m16 1h1m76 12h1m31-5h1m28 8h1m83-17h1m69 2h1m26-1h1m26 4h1m140-11h1m394-2h1m99 27h1m138-26h1m55 5h1m30 21h1m23-10h1m2 4h1m16-12h1m1-4h1m87-4h1m33 7h1m20 8h1m41 1h1m259-7h1m-2166 22h1m294 8h1m36-7h1m22 10h1m135 4h1m24-9h1m122 11h1m21 6h1m278-11h1m1112 2h1m39-2h1m-2056 37h1m77-18h1m111-2h1m65 0h1m43 15h1m28-4h1m93-4h1m29-5h1m24 22h1m-1 2h1m139-19h1m16 11h1m136-7h1m0 8h1m21-8h1m118-2h1m444 10h1m138 6h1m9 0h1m223 0h1m34-21h1m36 8h1m17 7h1m36-13h1m4 6h1m18 3h1m157-15h1m27 0h1m161 8h1m-2011 28h1m176 14h1m83-8h1m163-11h1m0 23h1m111 3h1m121-10h1m588-10h1m51 5h1m9-13h1m140 3h1m285 21h1m11 0h1m316-18h1m-2333 44h1m239-12h1m27-5h1m19 25h1m137 0h1m26-15h1m88 7h1m94-4h1m61 3h1m72-1h1m52 7h1m76-12h1m188 11h1m209-13h1m30-1h1m351 4h1m33-8h1m44-2h1m242 22h1m186-17h1m-2131 22h1m199 1h1m95 16h1m53 8h1m44-21h1m16 3h1m6 6h1m69 4h1m3 0h1m112-13h1m150 4h1m14 18h1m246-9h1m24-16h1m181 18h1m42 1h1m370-13h1m41 17h1m177-20h1m144 1h1m389 17h1m331-18h1m-2642 34h1m49 7h1m135-16h1m99 7h1m63-4h1m68 6h1m39-3h1m133 11h1m33 11h1m54-12h1m225 12h1m3-14h1m8 1h1m9 13h1m214-22h1m83 19h1m187-22h1m26 26h1m6-8h1m2-20h1m30 12h1m239 10h1m7 6h1m123 0h1m15-28h1m-1 27h1m111-26h1m138 7h1m-2138 28h1m235 12h1m234-17h1m116 12h1m12 10h1m14-3h1m120 1h1m34-12h1m479 10h1m42-8h1m126 7h1m44 0h1m48-6h1m4 13h1m65-20h1m227 13h1m46-19h1m6 19h1m3-4h1m106 1h1m27 0h1m57-8h1m38 19h1m38-25h1m14 15h1m-1869 13h1m932 5h1m29 6h1m8 7h1m253-18h1m5 10h1m15-6h1m3 14h1m37-6h1m12 10h1m1-3h1m67 2h1m81 5h1m40-16h1m55-5h1m22 16h1m119-13h1m158 1h1m-2126 23h1m209 2h1m8 24h1m164-23h1m209 2h1m17 7h1m789 5h1m9 10h1m1 0h1m16-16h1m123 7h1m161-17h1m8 18h1m4 4h1m5 1h1m311-10h1m330 8h1m-2708 11h1m289 3h1m47 16h1m15-8h1m93 0h1m109-3h1m243-2h1m161 11h1m709 0h1m44-12h1m47-7h1m1 2h1m21 24h1m20-11h1m56 6h1m105 1h1m17-7h1m59-11h1m8 2h1m-1 8h1m164 7h1m38 2h1m72-11h1m3-13h1m32 12h1m8-4h1m81 9h1m-2186 30h1m107 2h1m2-19h1m189 11h1m42-3h1m1130-9h1m20 16h1m13-16h1m53 3h1m17 19h1m28-18h1m9 23h1m21-18h1m51 14h1m69-10h1m129-9h1m39 20h1m8 2h1m0 2h1m85-22h1m37 7h1m1-3h1m2 10h1m2-8h1m10-13h1m58 13h1m96-5h1m105-2h1m-2624 46h1m281-7h1m48 0h1m50 8h1m299-11h1m4-12h1m36 3h1m585 8h1m484 6h1m12-6h1m56 16h1m3-25h1m83 20h1m69-4h1m0-7h1m11 18h1m15-11h1m13-3h1m4 11h1m143-26h1m160 21h1m23-16h1m192-2h1m253 2h1m-2375 28h1m176 6h1m9-8h1m1089 6h1m14-5h1m262 13h1m11 2h1m40-2h1m-1 14h1m1-13h1m6-3h1m14 6h1m5-7h1m8 10h1m3-20h1m107 19h1m1 3h1m39-1h1m1 2h1m153-12h1m-1769 45h1m1109-21h1m67 12h1m1 6h1m33-21h1m64-3h1m9 3h1m54 21h1m6-25h1m7 28h1m52-20h1m109-8h1m0 25h1m6-9h1m4 5h1m112-2h1m155 7h1m46-9h1m83-3h1m-584 16h1m57 27h1m278-15h1m-1955 36h1m877 4h1m824-8h1m18-6h1m54-3h1m105 23h1m5-4h1m166-19h1m112 21h1m-2139 12h1m661-3h1m1151-4h1m4 0h1m38 22h1m2-3h1m147 6h1m22-24h1m-1976 56h1m1719-5h1m23-13h1m36 13h1m9-9h1m-1024 27h1m927-3h1m106 20h1m111-26h1m294-2h1m-1988 44h1m1531 8h1m-426 24h1m359-13h1m184 1h1m120 13h1m-2620 24h1m2421-11h1m100 15h1m224-4h1m185 2h1m-729 41h1m486-16h1m-275 37h1m171 6h1m168-5h1m42 37h1m-2526 78h1m2451 245h1" stroke="#2cc4d0" stroke-width="10"/>
<path d="M558 248h1m111 8h1m39-7h1m198 10h1m106-16h1m24 12h1m257 6h1m565 8h1m21-28h1m116 2h1m8 19h1m33-5h1m42 6h1m24 1h1m31-12h1m11 0h1m16 15h1m30-9h1m3-6h1m12 4h1m5 4h1m105-13h1m18 16h1m17-23h1m38 9h1m-1776 39h1m16-3h1m19 12h1m5-2h1m64-7h1m46-4h1m170 4h1m368-3h1m37-4h1m130-1h1m214 1h1m79-5h1m39 21h1m22-5h1m39-2h1m295 0h1m8-18h1m-1 3h1m1 0h1m52 15h1m85-20h1m2 19h1m71-16h1m103 4h1m-2188 31h1m277-2h1m39 0h1m59 12h1m52 8h1m59-8h1m7 2h1m3-16h1m99 15h1m29-15h1m150 5h1m117 20h1m14-17h1m139 8h1m423 9h1m35-12h1m29 7h1m12 5h1m14-6h1m81-21h1m217 26h1m34-28h1m2 21h1m9-18h1m11 25h1m4-8h1m16-1h1m13-6h1m19-3h1m214-10h1m122 26h1m129-19h1m-2260 52h1m225-19h1m46 8h1m128-4h1m17 5h1m160-18h1m65 10h1m165-5h1m820 22h1m53-2h1m27-19h1m9-6h1m22 9h1m19-7h1m40 25h1m144-5h1m130-13h1m104 0h1m298-9h1m32 20h1m-2568 33h1m245-18h1m552 9h1m20-9h1m177 9h1m460-1h1m249 7h1m2 3h1m157-21h1m38 12h1m48-9h1m23 23h1m24-24h1m71 15h1m72-4h1m-2334 28h1m268-3h1m52-3h1m73 12h1m16 1h1m29 7h1m171-21h1m189-7h1m132 25h1m17 1h1m251-2h1m311-21h1m79 9h1m73-6h1m110 0h1m17 14h1m60-20h1m34 25h1m115-14h1m61-9h1m51 7h1m7 11h1m11-20h1m3 27h1m22-20h1m15-1h1m0 9h1m-1 13h1m-2324 5h1m203 3h1m345-6h1m65 9h1m74 20h1m0-1h1m3-3h1m39-20h1m23 1h1m11 23h1m50-11h1m49-1h1m8-7h1m42 18h1m97-18h1m52 1h1m611-5h1m221-2h1m118 14h1m66-11h1m17 17h1m24-7h1m50-11h1m71 21h1m15 0h1m48-21h1m16 5h1m71 15h1m407-11h1m-2380 22h1m280 14h1m2-10h1m39-4h1m15 8h1m67-4h1m114-1h1m93 3h1m34-7h1m8 5h1m8 3h1m184 1h1m12 3h1m516 5h1m4-11h1m21-12h1m265 14h1m14-13h1m49-1h1m9 11h1m49 18h1m371-28h1m-1921 37h1m20 7h1m174 14h1m800-26h1m31 2h1m94 1h1m21 22h1m71-5h1m286-11h1m9 6h1m16-1h1m246-13h1m15 0h1m-2030 54h1m174-2h1m175-24h1m131 7h1m100 20h1m2-8h1m512 6h1m81-6h1m130-9h1m21-6h1m81-2h1m181 0h1m56-4h1m37 22h1m18-11h1m67-6h1m106 24h1m116-9h1m168-11h1m-2648 32h1m122 3h1m450 8h1m92-4h1m-1 8h1m65-2h1m37-11h1m8-5h1m82 15h1m49-15h1m43 8h1m43 13h1m4-16h1m45 12h1m15-5h1m24-4h1m70-14h1m192 3h1m562 15h1m68-2h1m56 3h1m369-2h1m169-18h1m430 18h1m-2436 30h1m10-2h1m3-17h1m48 14h1m79 0h1m32 12h1m24-2h1m19-18h1m114 5h1m97 2h1m5 8h1m267-17h1m520-4h1m9 4h1m48 6h1m61-5h1m416 3h1m109-3h1m-1912 36h1m79 15h1m3-4h1m2-1h1m0 0h1m22-3h1m46-15h1m35 16h1m133-15h1m48 5h1m10-6h1m77 16h1m12-9h1m20 5h1m25 4h1m118-6h1m59 1h1m28 4h1m26 7h1m8-12h1m42 4h1m-1 12h1m298-6h1m262-15h1m72 21h1m179-25h1m85 2h1m3-5h1m4 14h1m14-10h1m38 24h1m700-25h1m-2568 54h1m22-20h1m21 18h1m130-21h1m84 0h1m74 15h1m271-10h1m4 10h1m25 2h1m195-11h1m240 18h1m2-4h1m248-14h1m48-5h1m48 11h1m161 12h1m19 0h1m46-1h1m20-2h1m88-6h1m4-3h1m72 11h1m10-11h1m9 0h1m67 4h1m3 2h1m95 6h1m111-14h1m12 13h1m-1970 22h1m81-9h1m14 4h1m425 10h1m160-10h1m282-10h1m4 24h1m199 0h1m20-7h1m8 1h1m1-19h1m28 8h1m55 3h1m69-8h1m84 13h1m31-13h1m98 2h1m2-5h1m7 17h1m15-3h1m1 3h1m9-20h1m90 16h1m95 9h1m32-12h1m49-11h1m340 15h1m-2561 35h1m79-9h1m289-7h1m303 8h1m97-5h1m264-7h1m372 22h1m28 3h1m53-7h1m49-8h1m16 12h1m252-20h1m10 20h1m95 1h1m88-2h1m60 1h1m1-18h1m41-1h1m11 16h1m7-3h1m17-2h1m74-5h1m-2089 45h1m52-9h1m37-3h1m69 14h1m8-3h1m1-1h1m360-1h1m472-15h1m347 9h1m56 11h1m28-29h1m45 15h1m19-10h1m124-4h1m135 5h1m25 17h1m54-6h1m65 2h1m10 7h1m109-17h1m25 9h1m79-13h1m-2095 36h1m32 1h1m90-3h1m6 10h1m1-5h1m70 7h1m61-15h1m35 8h1m49 2h1m111 12h1m148-14h1m12 3h1m688-17h1m155 16h1m97 5h1m297 0h1m17 3h1m8 1h1m0-21h1m6-2h1m38 18h1m2-6h1m10 15h1m22-8h1m3-3h1m32 1h1m37-17h1m-2018 45h1m126-2h1m145 5h1m111-16h1m17 19h1m718-14h1m43 8h1m168-6h1m2-2h1m20 7h1m93 10h1m1-25h1m75 4h1m27 21h1m16-5h1m32-1h1m18 2h1m84 5h1m-1 1h1m5-15h1m24 6h1m153-5h1m152 13h1m-2561 13h1m225 10h1m187 2h1m102-14h1m7 1h1m72 13h1m7-21h1m368 9h1m54 15h1m825-4h1m17-2h1m77 6h1m48 4h1m7-1h1m13-6h1m0-14h1m49 6h1m173 13h1m21-5h1m31-1h1m110 2h1m68 5h1m-1954 24h1m205-17h1m12-5h1m1130 9h1m5 18h1m179-11h1m2 13h1m37-12h1m6 9h1m12-4h1m9-18h1m31 6h1m6 7h1m2 12h1m83-18h1m22 4h1m84 8h1m26 1h1m21-16h1m111 20h1m166-23h1m-2222 43h1m338-10h1m82 0h1m1094 4h1m5 11h1m91-20h1m68 13h1m280-4h1m181 13h1m-2073 33h1m119-8h1m1302-12h1m64 11h1m66-13h1m93 2h1m48 6h1m101 2h1m66-3h1m2-8h1m220 11h1m-768 27h1m492-3h1m46-1h1m-1 17h1m18-3h1m62-21h1m121 26h1m-2107 19h1m304-14h1m1377 15h1m95 2h1m54-19h1m-768 48h1m743-10h1m201 5h1m96-9h1m-2515 33h1m483 3h1m776 13h1m754-24h1m13 6h1m232-2h1m277 7h1m-278 26h1m248 0h1m44 11h1m-2423 15h1m753 0h1m637 56h1m-1602 42h1m722 73h1m-389 124h1m2467-13h1m-2425 78h1m371 36h1m2075 43h1" stroke="#20a8c4" stroke-width="10"/>
<path d="M696 245h1m143 11h1m57 4h1m234 4h1m14-18h1m71 21h1m54-3h1m166-15h1m315 14h1m225-7h1m105-4h1m6 1h1m12-9h1m52-1h1m18 7h1m1-8h1m15 4h1m226 10h1m5-8h1m555 4h1m204 5h1m-2784 27h1m246 5h1m0 0h1m117-7h1m54-7h1m2 23h1m241-13h1m123-13h1m182 16h1m91 7h1m31 1h1m293-15h1m40 9h1m235-13h1m26 3h1m148 4h1m3 13h1m15-15h1m16 13h1m22 1h1m153-16h1m-1598 41h1m9-1h1m45-8h1m9 2h1m164 1h1m77 3h1m171 11h1m23-14h1m101 0h1m238-15h1m18 10h1m16 3h1m41-9h1m10 13h1m104-7h1m49-6h1m0 20h1m19-1h1m28-19h1m203 9h1m72-6h1m46-2h1m26 18h1m16-7h1m16-8h1m222 6h1m-2183 21h1m327 19h1m2-6h1m15-10h1m9-6h1m0 15h1m123-5h1m143 6h1m377-16h1m581 8h1m85 0h1m154 14h1m7-18h1m58 15h1m125-4h1m375-6h1m-1 0h1m379-11h1m-2309 50h1m13-11h1m15-5h1m58 0h1m14 18h1m141 2h1m1-7h1m34 11h1m843-24h1m15 22h1m68-15h1m42 18h1m43-15h1m135-4h1m10-1h1m4 19h1m251-2h1m31-11h1m10 13h1m96-26h1m-1 26h1m72-15h1m150-10h1m-2657 56h1m34-6h1m411-22h1m176 13h1m53 5h1m194-15h1m85 25h1m244-11h1m12-5h1m213-8h1m219 8h1m23 0h1m20-13h1m11 5h1m464-2h1m89 19h1m-1908 14h1m321-5h1m7 17h1m48-2h1m2-4h1m8 6h1m6 5h1m223 1h1m25-3h1m838-10h1m20 13h1m9-21h1m18 6h1m36-4h1m38 10h1m2 4h1m10-4h1m126 1h1m20-15h1m21 9h1m52-2h1m55 13h1m1-1h1m250 6h1m19-21h1m-2301 31h1m127 9h1m27 6h1m54-17h1m125 24h1m6-13h1m35 14h1m32-6h1m67 6h1m6-20h1m6-2h1m-1 1h1m140 19h1m86-23h1m190 2h1m406 10h1m281-13h1m161 15h1m121-4h1m32 11h1m255-12h1m27 7h1m36-18h1m59 17h1m118-15h1m-2042 30h1m47 18h1m33-21h1m57 25h1m41-7h1m2 2h1m30-17h1m586-1h1m114 13h1m91-6h1m166 15h1m18-18h1m20-4h1m98 18h1m118-15h1m69 20h1m76-25h1m31 16h1m116 1h1m174 6h1m204-21h1m-2724 27h1m153 3h1m177 11h1m128-5h1m52 1h1m144 12h1m110-22h1m27 28h1m224-17h1m719 11h1m10-21h1m57 2h1m61 10h1m36 4h1m12-14h1m145 14h1m124 1h1m1-15h1m-1870 52h1m15-18h1m113 4h1m63-5h1m0 19h1m56-22h1m7 2h1m33 2h1m107 17h1m283-13h1m6 11h1m0-12h1m70-4h1m559 8h1m42 8h1m5-4h1m5-3h1m13-6h1m104 14h1m147 6h1m257-14h1m13 11h1m8-14h1m-1811 40h1m12-13h1m183 5h1m33 5h1m76 6h1m35-15h1m103 5h1m18-6h1m15-1h1m4-1h1m47 0h1m201-2h1m26 0h1m203 3h1m59-7h1m172 15h1m34-12h1m104 1h1m63 10h1m2-10h1m15 5h1m120-9h1m7 20h1m162 2h1m84-23h1m-2199 47h1m264-16h1m172 20h1m43-4h1m44 5h1m3-12h1m-1 2h1m79 10h1m30 5h1m77-23h1m171-1h1m601 8h1m318-11h1m51 14h1m197 15h1m6-22h1m5 11h1m59-5h1m268 11h1m60-22h1m-2461 39h1m342-4h1m97-6h1m20 7h1m154 8h1m370 6h1m429-18h1m79 1h1m49 9h1m11 9h1m30-10h1m230-3h1m196 5h1m37-11h1m18-2h1m27 13h1m30-9h1m98-2h1m-2107 40h1m818-9h1m632 0h1m0 3h1m27 13h1m10 7h1m276-27h1m164 2h1m41 2h1m7-1h1m8 7h1m16 12h1m3 5h1m120-17h1m4-4h1m-1834 23h1m11 15h1m62-6h1m329 17h1m249-14h1m386 7h1m45-5h1m116-13h1m51 5h1m35-6h1m158 21h1m35-10h1m18 14h1m22-14h1m92-3h1m17 1h1m48 8h1m29-17h1m5 8h1m33-5h1m3 2h1m403 16h1m-2545 21h1m97-9h1m24 20h1m58-18h1m171 2h1m108-2h1m99 22h1m27-3h1m-1 1h1m56 1h1m136 3h1m767-28h1m120 18h1m11-14h1m19 3h1m156 19h1m24-12h1m65 8h1m178-1h1m138-1h1m31-3h1m4-4h1m210-1h1m21-12h1m-2291 55h1m86-18h1m220 8h1m574-8h1m302 13h1m47 6h1m0-10h1m103-16h1m86 28h1m6-4h1m38-8h1m0-2h1m105-4h1m30 11h1m33 3h1m128-11h1m84 4h1m5-4h1m19-4h1m8 1h1m18 2h1m19 5h1m-1957 18h1m175-5h1m44-1h1m119 8h1m135 2h1m861 0h1m37 19h1m22-2h1m9-20h1m56 1h1m91-7h1m15 2h1m19 22h1m67-3h1m2-19h1m1 14h1m139 7h1m11 1h1m9-1h1m83-13h1m14-7h1m39 1h1m-1815 49h1m14-16h1m1122 9h1m174 7h1m21-20h1m42 12h1m68-2h1m34 0h1m0 0h1m1-9h1m7-1h1m26 24h1m47 0h1m25-4h1m61-11h1m5 0h1m11 7h1m27 8h1m7 0h1m28 0h1m8-4h1m63-16h1m142-7h1m76 9h1m-2189 27h1m12-2h1m89 1h1m184 1h1m1256-3h1m56 4h1m19-8h1m26 5h1m16 10h1m45 5h1m13-2h1m17-17h1m34 12h1m152 9h1m28-2h1m43-19h1m33 10h1m12-9h1m98 0h1m-1806 38h1m1116 19h1m9-28h1m97 1h1m26 12h1m22 10h1m26 5h1m42-2h1m104-4h1m76 1h1m61-18h1m-1 23h1m7-7h1m23-9h1m174-4h1m32 11h1m-2246 22h1m291 17h1m0-23h1m15 14h1m1138-4h1m336-11h1m3 3h1m59 1h1m94 16h1m29 2h1m170-1h1m13-10h1m16 5h1m24 2h1m9-14h1m-2485 30h1m151 12h1m331-12h1m1049-6h1m262 20h1m328-7h1m20 11h1m38-24h1m94-2h1m10 26h1m17-13h1m-2172 28h1m1565 4h1m394-11h1m62 16h1m32 5h1m0 1h1m158-4h1m-176 10h1m75 3h1m121 7h1m55 3h1m-1899 17h1m1792 20h1m-326 39h1m619 0h1m-1893 35h1m1325-4h1m114 21h1m80 34h1m-1324 50h1m1364 24h1m-2052 32h1m1491 46h1m554 6h1m-498 81h1m1051 56h1" stroke="#1c94c0" stroke-width="10"/>
<path d="M699 244h1m256-4h1m132 13h1m64-7h1m14 8h1m342 12h1m303 3h1m75-21h1m335 13h1m9 6h1m114-8h1m-1337 39h1m199-25h1m23 13h1m66 6h1m36-22h1m14 17h1m17 7h1m140 3h1m17-24h1m214 8h1m28 12h1m27-22h1m16 6h1m1-6h1m148 17h1m26 2h1m34-20h1m192 29h1m-805 14h1m281-9h1m1 3h1m17 17h1m12-21h1m3 6h1m50-6h1m2 24h1m16-10h1m61 0h1m38 0h1m36 2h1m23 0h1m17-9h1m244-3h1m-909 39h1m17-3h1m61 3h1m341-4h1m51-10h1m54-2h1m92 11h1m-854 42h1m7-6h1m118 4h1m136 4h1m99-12h1m9-9h1m13 20h1m15 3h1m469-22h1m17 19h1m396 4h1m124-20h1m-1275 45h1m19 1h1m12-7h1m462 3h1m104 4h1m119-9h1m148 8h1m9-18h1m111 5h1m102 6h1m-1387 26h1m33 4h1m35 9h1m34-14h1m450 15h1m16-16h1m11 4h1m212-11h1m0 7h1m117 14h1m321-18h1m13-5h1m-995 42h1m14 8h1m2 2h1m41-11h1m12 11h1m228-20h1m239 17h1m260-18h1m119 12h1m52-7h1m17-2h1m138 8h1m23-5h1m17 13h1m-1140 37h1m119-28h1m474 16h1m71 12h1m74-16h1m68-12h1m15 3h1m-938 46h1m75-2h1m34 10h1m95-20h1m79 20h1m108-9h1m445-17h1m543 7h1m-1277 29h1m2 1h1m504 8h1m227 7h1m38 1h1m11-1h1m13-1h1m-986 13h1m230 8h1m11 4h1m70-12h1m404 8h1m52 11h1m117-10h1m9-1h1m102 1h1m17-2h1m-1376 27h1m544 11h1m12-14h1m6 2h1m507 9h1m8-4h1m66 15h1m23-16h1m23-6h1m198 19h1m11-21h1m25 8h1m-1322 37h1m428-1h1m52-6h1m22 11h1m166-1h1m245-15h1m87 12h1m57-15h1m20 20h1m46-1h1m272-5h1m216 8h1m-1761 18h1m545 14h1m150-4h1m6-20h1m424 7h1m14 5h1m18-14h1m248 17h1m185 3h1m-746 23h1m196-10h1m100 8h1m125-1h1m60 1h1m5-9h1m375 11h1m232 1h1m-1331 26h1m169 13h1m90-11h1m205-8h1m83 7h1m40 6h1m3-11h1m69 7h1m77 7h1m21-22h1m20 5h1m229 9h1m-1199 31h1m11 5h1m496-15h1m185 17h1m43 1h1m234-2h1m119-7h1m-1115 33h1m802 6h1m120 0h1m223-20h1m28 18h1m-1375 20h1m319-8h1m643 24h1m162-24h1m90 26h1m82-17h1m-1386 37h1m1055-14h1m50 17h1m90-11h1m-628 37h1m1030-3h1m-412 39h1m269-16h1m-1057 31h1m-291 169h1m850 18h1m-410 64h1m-9 14h1m728 105h1" stroke="#34d8cc" stroke-width="10"/>
<path d="M866 248h1m9 2h1m39 17h1m238-8h1m107 1h1m23-10h1m84 14h1m390-16h1m5 1h1m73-8h1m69 17h1m173 10h1m12-18h1m13 0h1m38-5h1m79-3h1m1 12h1m2-6h1m151 1h1m28-2h1m69 1h1m431 11h1m-2367 36h1m292-2h1m15-3h1m5-1h1m45-13h1m2 15h1m203-3h1m733-13h1m42-2h1m99 11h1m67 12h1m134-2h1m0-14h1m5 16h1m39 1h1m3 2h1m2-11h1m62-14h1m41 0h1m129-1h1m307 19h1m107 0h1m-2361 25h1m59 11h1m2-1h1m150-9h1m85-11h1m69 17h1m177-11h1m154 10h1m-1 2h1m13-24h1m87 15h1m2 9h1m147-2h1m11-18h1m195 4h1m32-8h1m50 16h1m205-7h1m208-6h1m7 16h1m26-18h1m49 4h1m29 6h1m0 9h1m21-15h1m-2080 45h1m260 1h1m32-6h1m54 10h1m64-16h1m54-9h1m344 17h1m5-1h1m87 0h1m84 3h1m21-14h1m43 16h1m12-21h1m37 19h1m443-15h1m46-1h1m275 12h1m138 6h1m60-19h1m63 2h1m10 16h1m26-10h1m229 14h1m-1851 22h1m199-1h1m71 1h1m37 12h1m91 0h1m41-20h1m11 5h1m36 7h1m5-20h1m622 11h1m1-3h1m14 18h1m40-13h1m76-8h1m95 4h1m15 3h1m62-11h1m16-2h1m19 15h1m55 9h1m140-2h1m-2166 13h1m313 11h1m97-15h1m35 13h1m35-11h1m121-2h1m12 26h1m5-10h1m73-12h1m192 7h1m31 1h1m16 13h1m741-2h1m1-7h1m96-12h1m18 10h1m5 12h1m26-11h1m43-4h1m1 2h1m110-6h1m31 19h1m18-5h1m6 1h1m4-15h1m0 4h1m115-6h1m340 22h1m-2591 22h1m290-15h1m133 16h1m217-10h1m372 6h1m486-5h1m200 13h1m44-5h1m115 4h1m7-15h1m199 6h1m12 8h1m23-1h1m151-10h1m1-7h1m23 10h1m88-2h1m210 15h1m22 0h1m-2178 20h1m12-2h1m229-5h1m104-9h1m6-1h1m143 23h1m34 3h1m9-9h1m50-18h1m594 18h1m125-3h1m22-11h1m88 6h1m54 15h1m10 2h1m22-22h1m28 10h1m81 2h1m3 7h1m52-5h1m1 0h1m62-11h1m14 17h1m6-22h1m131 2h1m68 18h1m-2408 27h1m367-20h1m3 14h1m155-7h1m6 21h1m52 1h1m58-9h1m37-8h1m30 7h1m70-18h1m10 3h1m704 14h1m170-17h1m53 18h1m3-5h1m5 2h1m249 13h1m37-18h1m131-2h1m1 2h1m56-3h1m57 8h1m14-7h1m29 1h1m31-1h1m130 20h1m183-25h1m-2721 30h1m433 24h1m17-28h1m0 8h1m168 10h1m27-17h1m10 2h1m375 7h1m143-1h1m576 17h1m311-13h1m94 14h1m0-2h1m155-13h1m38-2h1m148 11h1m-2334 22h1m292-5h1m30 16h1m84 5h1m80-23h1m52 8h1m186 1h1m14 0h1m12-15h1m96 6h1m127 6h1m20-3h1m13-4h1m66-4h1m17 1h1m259 3h1m237-3h1m8 17h1m31-4h1m349-15h1m216 11h1m-1947 25h1m42 15h1m74-20h1m89 17h1m227 5h1m114-5h1m81 3h1m2-7h1m46 15h1m150-1h1m352-1h1m77-26h1m1 26h1m99-11h1m110 13h1m52-9h1m194 4h1m111-2h1m55-3h1m18 9h1m4-9h1m52 8h1m13-10h1m22-3h1m417-11h1m-2537 38h1m46 12h1m68-12h1m72 0h1m102 9h1m27-9h1m2 1h1m4 1h1m29-11h1m99 17h1m371-12h1m368 18h1m585-22h1m107 9h1m41 11h1m143-9h1m58 14h1m-2133 27h1m260-6h1m19-6h1m15-1h1m134 13h1m122-9h1m190-12h1m512 10h1m235 9h1m133-20h1m99 2h1m37 13h1m71 7h1m203-24h1m-2119 56h1m212-10h1m225-13h1m241-1h1m145 26h1m68-18h1m528-6h1m86 21h1m83-25h1m55 26h1m56 2h1m114-3h1m81 2h1m72-20h1m5-3h1m9 1h1m2 23h1m72-17h1m33-8h1m81 17h1m77-14h1m48-2h1m-2256 49h1m18-8h1m2 7h1m169-7h1m11-7h1m141-4h1m628 24h1m299-4h1m145-19h1m40 4h1m7 2h1m17 13h1m5-25h1m118 19h1m27-10h1m100 3h1m20-6h1m50 13h1m83-8h1m125-1h1m99 19h1m-1864 2h1m2 23h1m18-1h1m257-12h1m13 18h1m10-16h1m779 11h1m57-24h1m14 18h1m16-16h1m24 5h1m49 22h1m86-3h1m48-22h1m2 19h1m277 4h1m30-10h1m5-9h1m19 7h1m259-10h1m-1968 41h1m9-1h1m10-6h1m46-7h1m41 12h1m93 3h1m72-13h1m-1 1h1m209-4h1m26 18h1m226 7h1m230-7h1m269-5h1m37 3h1m9-12h1m44 2h1m0-1h1m176-2h1m117 13h1m40-9h1m2 0h1m145-1h1m-2194 33h1m168-3h1m32-1h1m6 3h1m346 15h1m126-8h1m47-10h1m3 10h1m5 8h1m11-7h1m27 7h1m705-24h1m117 19h1m9-16h1m93-1h1m63 26h1m60-20h1m59 16h1m0-12h1m0 16h1m99-1h1m11-8h1m4-14h1m18 7h1m14 14h1m76-9h1m60 4h1m23-14h1m-2154 35h1m13-9h1m24 3h1m62 19h1m134-2h1m53 3h1m31-10h1m111 6h1m109-11h1m71-8h1m944 11h1m51 14h1m61-26h1m20 1h1m6 9h1m92-5h1m-1 12h1m10-17h1m18 16h1m97 10h1m42-10h1m22-5h1m14 14h1m29-6h1m4 4h1m9-11h1m101 11h1m20-11h1m-1977 16h1m0 22h1m214-7h1m8 13h1m36-12h1m260 1h1m838 1h1m187-14h1m20-2h1m26 1h1m10 1h1m64 13h1m38 6h1m14-1h1m8-3h1m6-6h1m44-13h1m20 2h1m1 19h1m43-10h1m44-8h1m116 10h1m12-13h1m80 29h1m51-20h1m-2169 29h1m6 14h1m186-19h1m169 17h1m1205-8h1m35-7h1m6-2h1m7 6h1m100-1h1m44-4h1m42 12h1m91-7h1m113 12h1m-2028 22h1m418 10h1m52 6h1m853-15h1m171-6h1m193-1h1m153 13h1m80-12h1m-1804 30h1m89-3h1m1390-2h1m181 17h1m60-1h1m46 6h1m7-24h1m-1796 31h1m1157 7h1m359 2h1m298 0h1m131-11h1m-1844 43h1m1717 4h1m226-15h1m-2260 47h1m257 3h1m1388-16h1m325 10h1m-548 60h1m280 10h1m49-15h1m523 21h1m-1859 35h1m4 20h1m1755-14h1m-2270 70h1m1999 13h1m366 18h1m80 2h1m30-4h1m-600 21h1m-1872 22h1m-137 28h1m2462 57h1m-2428 55h1m715-8h1m957 1h1m700 50h1m168-8h1m-725 54h1m14 74h1" stroke="#1c9cc8" stroke-width="10"/>
<path d="M860 244h1m12 25h1m14-1h1m114 1h1m34-28h1m148 9h1m29-3h1m80 12h1m51 4h1m98-20h1m516 22h1m79-3h1m0-18h1m-1 20h1m142-12h1m1-5h1m29-6h1m18 13h1m108-11h1m70 25h1m0-24h1m6 20h1m0-16h1m7 20h1m172-19h1m-2337 46h1m544-2h1m64-12h1m344 11h1m108-16h1m35 9h1m351 4h1m118 0h1m22-8h1m35-5h1m11 0h1m88 2h1m50 1h1m155 7h1m110-8h1m13 6h1m8-12h1m10 25h1m386-15h1m-2229 20h1m29 9h1m136 2h1m185-9h1m36 0h1m18 12h1m252-7h1m537-2h1m514 2h1m37-1h1m54 1h1m27 0h1m18 12h1m414-7h1m-2539 16h1m331 20h1m19-1h1m196-19h1m10 13h1m60 14h1m239-3h1m52-16h1m179 1h1m184-8h1m301 22h1m148-20h1m105 3h1m243 1h1m182 13h1m-2217 14h1m121 24h1m133-12h1m12-12h1m332 0h1m36 25h1m4-7h1m76-21h1m87 14h1m156 8h1m23 6h1m773-17h1m121 10h1m91-20h1m5 11h1m56 11h1m1-7h1m44-2h1m57 5h1m78 5h1m-1989 8h1m127 15h1m171-18h1m36 27h1m113-20h1m35-7h1m25 1h1m317 7h1m397 0h1m118-7h1m31 13h1m111 15h1m52-10h1m62-11h1m1 6h1m34-2h1m13 9h1m11-6h1m2-2h1m24-12h1m11 23h1m59-20h1m90 20h1m29-4h1m76 7h1m13-13h1m348 0h1m-2471 18h1m246 11h1m290 4h1m42-9h1m74-2h1m51 7h1m8 7h1m166 7h1m2-17h1m0 12h1m44 3h1m421-9h1m88 1h1m31-7h1m238 5h1m48 12h1m98-2h1m21-2h1m3-17h1m22 10h1m74 8h1m202-3h1m74-20h1m184 13h1m0-11h1m86 26h1m-2585 27h1m34-4h1m122-19h1m294-2h1m58 24h1m31-22h1m1 4h1m149-1h1m175 16h1m30-21h1m496 24h1m254 1h1m115 2h1m4-4h1m1-5h1m212-2h1m5 1h1m33 5h1m50-14h1m153 15h1m32-21h1m-2203 56h1m137-4h1m17-10h1m4 6h1m79-12h1m269-9h1m12 0h1m80 13h1m11 15h1m28-19h1m25 10h1m117-16h1m73 4h1m33 16h1m476-8h1m105 10h1m80-15h1m177 4h1m94 13h1m68-7h1m6 4h1m5-22h1m11 5h1m93 14h1m-1 1h1m44-15h1m84 7h1m46 0h1m48-8h1m94 15h1m-1837 32h1m5-19h1m3 17h1m112-13h1m96 19h1m237-17h1m427 9h1m214-14h1m252 6h1m75-7h1m15 16h1m31 1h1m115-19h1m93 7h1m36 20h1m26-4h1m-1956 19h1m43 1h1m114-13h1m75 6h1m9 6h1m359 0h1m635 12h1m92-14h1m132 15h1m74-16h1m96-3h1m0 8h1m1-11h1m67 4h1m70 4h1m50-13h1m37 15h1m-1709 26h1m13 10h1m198 5h1m12-15h1m42-10h1m56 9h1m708 1h1m161 15h1m69-3h1m42-17h1m249-1h1m228 20h1m21-7h1m59 11h1m-2010 17h1m88-11h1m56 6h1m221-10h1m25 12h1m32 10h1m43-5h1m46-1h1m21 3h1m90-19h1m456 7h1m94 18h1m179-6h1m12-7h1m4 1h1m159-1h1m63 10h1m7-23h1m232 8h1m6 7h1m90 8h1m3-22h1m300 22h1m-2626 17h1m67-3h1m361-4h1m8 15h1m17 9h1m138-19h1m192 11h1m74-15h1m210 0h1m5 5h1m60 17h1m259-2h1m12-17h1m79 4h1m157 0h1m145-11h1m9 7h1m45 7h1m179 8h1m95-9h1m43 13h1m126-11h1m13-9h1m101 5h1m-2160 42h1m574 6h1m31-8h1m551 3h1m198 4h1m58-1h1m36-15h1m-1 15h1m287-27h1m2 7h1m10-2h1m2 13h1m32 4h1m9-1h1m7 6h1m175-4h1m6-23h1m0 4h1m28 12h1m-1890 31h1m39-17h1m87 8h1m69-2h1m208 2h1m869 14h1m6-2h1m111-6h1m8-2h1m116-5h1m14-6h1m124 12h1m23-12h1m6 21h1m194-22h1m121 29h1m221-23h1m-2829 52h1m390-2h1m187-21h1m11 7h1m37 9h1m335 2h1m226 1h1m401-5h1m193-9h1m72 11h1m66 2h1m26-12h1m121 2h1m78-12h1m30 1h1m47 5h1m25 8h1m73-4h1m183-7h1m3 13h1m21 3h1m39-17h1m13 16h1m165-8h1m-2519 31h1m151 1h1m43 7h1m10 3h1m150-3h1m4-3h1m119-9h1m83-4h1m104 16h1m39-9h1m765 5h1m258 8h1m2-10h1m2 0h1m34 1h1m158 0h1m83-12h1m2-1h1m150 21h1m21 0h1m12 0h1m33-20h1m59 21h1m5-24h1m-2493 41h1m413-8h1m166 25h1m73-5h1m64 3h1m41-12h1m48-12h1m110 9h1m51 2h1m609-10h1m143 19h1m115-20h1m85 11h1m24 11h1m196-21h1m8 4h1m31 21h1m103-6h1m59-11h1m3 5h1m6 3h1m18-19h1m-2058 56h1m63-19h1m137 10h1m38 0h1m14 3h1m24 4h1m49-11h1m19-8h1m13 3h1m148 6h1m137-1h1m90-13h1m729 21h1m20-2h1m104-10h1m28-8h1m23 13h1m101 13h1m7-25h1m46 25h1m25-4h1m46-4h1m0-4h1m81 12h1m12 0h1m24 1h1m-2042 6h1m185 0h1m42 23h1m1275-12h1m15 4h1m50 2h1m30-19h1m0 17h1m7-16h1m76 23h1m46-15h1m7 9h1m53-3h1m34-1h1m30 3h1m55-7h1m32 10h1m1-5h1m7 1h1m21-18h1m7 18h1m9-5h1m33-10h1m2 15h1m30-5h1m83-3h1m33 6h1m237-11h1m-2308 34h1m174 7h1m1371 7h1m19-8h1m13 6h1m53-21h1m12 16h1m32-8h1m69-2h1m10 7h1m324 11h1m-2425 24h1m497 11h1m65-27h1m1254 23h1m47-14h1m0 17h1m110-24h1m0 3h1m14 3h1m91-8h1m53 2h1m160-1h1m164 1h1m13-1h1m-2316 32h1m91-3h1m245 13h1m115-10h1m1497-1h1m176 17h1m35-20h1m-210 49h1m17 1h1m91-18h1m251 9h1m244 11h1m-2522 16h1m1719 12h1m207-3h1m144-18h1m-2193 36h1m457 6h1m1366-11h1m480 18h1m-1681 11h1m1676 15h1m103-7h1m-218 22h1m-8 38h1m-2574 44h1m2537 7h1m-447 8h1m474-6h1m-561 43h1m-1703 45h1m2067 14h1m-1524 104h1m1768 14h1m-36 39h1m-163 80h1" stroke="#1a9cc0" stroke-width="10"/>
<path d="M1148 247h1m22 13h1m102-7h1m0-9h1m93 11h1m1 6h1m64-18h1m63 11h1m18-9h1m8 4h1m187 7h1m9-1h1m23-15h1m81 0h1m8 13h1m14 5h1m3-1h1m103 2h1m106-8h1m-860 40h1m21-3h1m27 5h1m2 1h1m95-16h1m20 14h1m41-11h1m56-4h1m39 8h1m204-3h1m21 10h1m62-12h1m13 17h1m127 1h1m136-25h1m43-1h1m241 23h1m-1389 11h1m215-4h1m53 25h1m108-20h1m121 8h1m31-2h1m347 11h1m43-21h1m297 5h1m-866 27h1m119-4h1m254 13h1m72-14h1m16 7h1m116-6h1m26 4h1m187-1h1m82-4h1m134 20h1m-1148 30h1m90-9h1m180 9h1m19-14h1m269 2h1m93 7h1m277 13h1m-1107 4h1m57 3h1m351 14h1m60-15h1m2 16h1m9-8h1m3 10h1m190-8h1m13-6h1m20 11h1m30 7h1m79-10h1m267 6h1m-1176 13h1m312 20h1m471-4h1m6-17h1m60-1h1m197 4h1m36 8h1m70 11h1m85-15h1m31 18h1m134-18h1m-1272 39h1m118-12h1m29-5h1m270 19h1m198-21h1m30 13h1m24-9h1m-844 34h1m196 18h1m168-2h1m24 0h1m403-11h1m35-6h1m159 21h1m4-4h1m78-10h1m12 6h1m58-11h1m148-9h1m49 13h1m65-4h1m49 1h1m-1157 40h1m65-10h1m83 12h1m149-1h1m451-18h1m-1147 44h1m282 9h1m70-16h1m95-8h1m200 21h1m246-11h1m18 16h1m4-24h1m43 14h1m31-7h1m151-6h1m-937 27h1m39 15h1m28-15h1m53 8h1m320 14h1m12-19h1m207 3h1m25-4h1m1 15h1m94 0h1m12-4h1m28 8h1m23 0h1m48-22h1m-858 53h1m141-7h1m15-9h1m92 0h1m30 11h1m122-7h1m211-2h1m32 6h1m67 8h1m34-9h1m239-1h1m13-9h1m72 23h1m18-7h1m-810 13h1m91 16h1m0-17h1m16 24h1m229-3h1m6-20h1m89 8h1m77-4h1m7 13h1m100-18h1m239 24h1m-1258 21h1m141-6h1m123 14h1m63-16h1m108 3h1m21 13h1m33-14h1m279 5h1m20-14h1m7-2h1m138-1h1m36 28h1m1-2h1m82-2h1m-736 18h1m53-8h1m399 19h1m50-2h1m19 4h1m44 3h1m9-10h1m0 0h1m87-1h1m6-15h1m-929 39h1m290 14h1m36-1h1m24-9h1m123-4h1m351 15h1m26-10h1m22-7h1m1-1h1m22-7h1m-1162 42h1m203 7h1m305-2h1m509-7h1m32-12h1m34 14h1m97 3h1m136 10h1m5-16h1m178-11h1m-1366 49h1m221-15h1m31 10h1m280 9h1m509-20h1m67 21h1m-113 18h1m93 1h1m235 9h1m-965 14h1m701 5h1m62 16h1m11-7h1m447-12h1m-1441 31h1m983 16h1m-1002 23h1m982-11h1m136 14h1m90-20h1m-29 40h1m-832 54h1m1032 1h1m-1650 45h1m1424 129h1m-732 69h1" stroke="#38d898" stroke-width="10"/>
<path d="M825 259h1m396-10h1m82-1h1m36-3h1m80-3h1m326 1h1m121 2h1m177 0h1m11 6h1m88 7h1m-917 39h1m102-22h1m11 8h1m25 0h1m77 16h1m74-6h1m210 2h1m73-15h1m4 14h1m28-16h1m37 14h1m102 5h1m157-1h1m-1171 16h1m133-8h1m32 14h1m297-11h1m80 10h1m1-15h1m225 19h1m2-17h1m236 3h1m5 1h1m75 6h1m140 12h1m16-24h1m-1134 46h1m84-2h1m73-13h1m96 23h1m138-4h1m262-17h1m2 8h1m41-8h1m13-5h1m-1168 40h1m449 19h1m95 0h1m545-26h1m119 17h1m110-6h1m20-7h1m18 20h1m68-2h1m52 0h1m27-18h1m241 15h1m0 1h1m-1369 7h1m199 13h1m250 14h1m13-27h1m1 15h1m31-1h1m205-7h1m15 12h1m3 9h1m12-11h1m42-17h1m187 27h1m176-11h1m173-14h1m118 26h1m-1498 20h1m42-18h1m449 21h1m39-17h1m0 0h1m21 12h1m307-13h1m33 17h1m53-12h1m78 13h1m214-11h1m-1232 39h1m168-6h1m42 14h1m1-2h1m79-16h1m188 7h1m11-5h1m39 6h1m193-15h1m10 23h1m7-17h1m5 20h1m24-28h1m0 6h1m2 9h1m1-10h1m6-1h1m115-1h1m140 20h1m106 1h1m7-4h1m34 7h1m-1223 27h1m63-24h1m450 8h1m447-1h1m59-7h1m24 25h1m-755 25h1m1-1h1m73 8h1m11-15h1m378 12h1m21 5h1m65-20h1m188-4h1m231 14h1m301-16h1m-2026 28h1m532 18h1m34-6h1m12 6h1m94 3h1m41-22h1m105 25h1m650-22h1m24 25h1m12-8h1m82 2h1m-1339 23h1m415 13h1m92-20h1m7 19h1m12-25h1m25 6h1m379 12h1m5 2h1m202 7h1m41-12h1m29 4h1m116 5h1m8-13h1m55-10h1m-1110 31h1m18 15h1m339-1h1m289 4h1m30 3h1m104-6h1m-418 18h1m62 18h1m259-24h1m68 28h1m16-24h1m360 6h1m26 6h1m-975 26h1m66 11h1m6 3h1m485 2h1m6-19h1m171 9h1m26 3h1m140-20h1m-1275 39h1m407 6h1m69 3h1m487 1h1m58 2h1m113-21h1m176 18h1m49 6h1m1-8h1m-1532 23h1m554-10h1m89 17h1m79-15h1m115 21h1m233-18h1m97 0h1m43 22h1m39-1h1m14-11h1m6 2h1m19 5h1m24 2h1m34-19h1m56 16h1m-1443 10h1m383 0h1m67 27h1m75-24h1m133 22h1m41 0h1m489 1h1m83-22h1m94 7h1m48 1h1m-1254 22h1m54-3h1m73 7h1m106 3h1m3 11h1m24-24h1m47 18h1m929-18h1m316 14h1m-1416 30h1m795-8h1m63 10h1m336-2h1m230-9h1m79 15h1m-1397 23h1m523 1h1m317 6h1m324 9h1m-1280 9h1m85 17h1m594 3h1m459-2h1m21-13h1m7 0h1m32-11h1m93 13h1m-188 15h1m7 4h1m170 6h1m-685 72h1m756-14h1m-46 50h1m-909 22h1m-21 83h1m-4 303h1" stroke="#2cc8d0" stroke-width="10"/>
<path d="M986 264h1m299-22h1m161 2h1m267-3h1m22 7h1m65 8h1m26-9h1m29 15h1m131-6h1m2 3h1m3 6h1m6-14h1m-1198 36h1m442-5h1m56-7h1m34 19h1m13-7h1m21-1h1m135 12h1m15-15h1m177 14h1m4-27h1m3 13h1m13 3h1m0 12h1m72-6h1m39-10h1m101 8h1m53-14h1m8 22h1m185-12h1m104 3h1m-1060 26h1m34 13h1m446-3h1m7-11h1m36-14h1m68 23h1m114-10h1m18-13h1m427 5h1m-1476 29h1m446 5h1m74 6h1m0 7h1m10 2h1m286-21h1m10 10h1m4 13h1m8-14h1m57 5h1m-733 24h1m174-4h1m22 9h1m7-7h1m187 8h1m31 7h1m190-7h1m38-3h1m0 3h1m118 1h1m81 9h1m147-12h1m72 11h1m-914 19h1m2 10h1m233-20h1m253 20h1m16-17h1m34 5h1m143 2h1m62-4h1m240-5h1m153 20h1m-1202 27h1m66-3h1m229-11h1m30 1h1m178-6h1m38-1h1m26 18h1m1-15h1m2 9h1m47-13h1m168 18h1m436 9h1m-1267 26h1m42-15h1m21 14h1m48-10h1m47 5h1m10 0h1m171-17h1m3 19h1m188 6h1m76-9h1m5 6h1m186-14h1m156-6h1m83 11h1m74 6h1m88-14h1m-864 27h1m-1 7h1m258-11h1m273 17h1m-1410 13h1m436 2h1m15 1h1m51 10h1m77 12h1m21 4h1m263-19h1m13 18h1m259-16h1m86-1h1m476 18h1m-1395 26h1m242-18h1m199 3h1m7 1h1m93-7h1m11 8h1m0 10h1m243-17h1m101 17h1m98-4h1m50 10h1m141-2h1m-972 26h1m49-6h1m86-11h1m144-2h1m30 4h1m214 22h1m54-24h1m60 15h1m26-9h1m35 12h1m103-5h1m153 9h1m116-6h1m-1539 17h1m740 7h1m12-1h1m14-13h1m8 7h1m214-5h1m12 22h1m55 0h1m105 2h1m53-26h1m41-1h1m94 16h1m-894 41h1m6-24h1m68 10h1m3 14h1m25 1h1m49-13h1m1-13h1m112 21h1m48-12h1m198 5h1m4 6h1m110 7h1m31-25h1m1 19h1m82-14h1m-1 4h1m76-10h1m4 19h1m127-8h1m8 2h1m-835 37h1m124 5h1m0-2h1m351-17h1m291-9h1m-993 34h1m246 3h1m376 12h1m42-12h1m139 16h1m136-12h1m29-10h1m149 11h1m-663 31h1m265-12h1m10 16h1m37 5h1m3-10h1m-764 35h1m379 9h1m256-11h1m69 12h1m19-23h1m217 15h1m242-16h1m394 5h1m-1684 47h1m19-5h1m963-20h1m88 23h1m52-17h1m35 4h1m12 25h1m56-5h1m-1394 52h1m1043-18h1m124 22h1m38-19h1m3 1h1m260 2h1m84 18h1m-1418 5h1m1012 3h1m129 20h1m288-11h1m-248 15h1m326 13h1m10 18h1m-653 134h1m59 25h1m189 113h1m-288 213h1" stroke="#1ca4c8" stroke-width="10"/>
<path d="M1356 244h1m14 24h1m106-27h1m35 11h1m257 5h1m44-8h1m10 12h1m14-7h1m47-9h1m192-3h1m204 1h1m50 6h1m26 0h1m-977 35h1m327 8h1m13-7h1m1-6h1m18 16h1m127-3h1m25 1h1m66-7h1m4 7h1m49-17h1m380-6h1m-1520 57h1m56-6h1m434-9h1m7 3h1m5 10h1m84-2h1m56-5h1m225 2h1m48-14h1m2-6h1m33 23h1m39-9h1m40 14h1m10-19h1m9 2h1m6-1h1m10 8h1m272-8h1m6 10h1m73 1h1m-1089 34h1m21-4h1m72-8h1m2 4h1m6-10h1m5 16h1m23-15h1m29 2h1m3 3h1m66 12h1m0-2h1m7-11h1m27-5h1m201 15h1m11-10h1m24 14h1m15-16h1m4-8h1m16 1h1m0 1h1m14 5h1m12-4h1m1-2h1m101-2h1m21 12h1m-595 31h1m382 4h1m409 3h1m-1048 18h1m156 10h1m8-15h1m174 18h1m28-1h1m47 7h1m13-2h1m3-16h1m1 9h1m1-7h1m226-3h1m23 0h1m120 3h1m276 14h1m33-22h1m76 4h1m71-1h1m-1420 32h1m106 6h1m212 9h1m235-1h1m10-15h1m198 8h1m22 10h1m8-23h1m97 21h1m134-18h1m1 0h1m30 12h1m31-13h1m2 1h1m65 17h1m21-16h1m5 5h1m-1248 18h1m341 28h1m164-4h1m67-4h1m252-5h1m52 3h1m97-15h1m80 22h1m37-3h1m15-22h1m333 29h1m2-11h1m-1303 16h1m27 8h1m172 15h1m252-8h1m233-1h1m18 0h1m26 4h1m115-3h1m46-10h1m61 7h1m133 8h1m-1496 25h1m440-6h1m39 4h1m1 9h1m86-26h1m97 1h1m8 21h1m431 2h1m170-2h1m2-17h1m48 18h1m13-7h1m-1222 39h1m582-14h1m368-11h1m266 27h1m154-9h1m50-17h1m-880 46h1m32-5h1m16 7h1m24 6h1m26 4h1m78-9h1m43 9h1m203-10h1m4 3h1m77-3h1m83 7h1m7-25h1m51 20h1m51-17h1m-888 40h1m119-3h1m15-11h1m182 29h1m333-2h1m8-14h1m136 16h1m149-12h1m291-10h1m-1493 52h1m113-20h1m239 3h1m253 15h1m38-27h1m181 22h1m25-21h1m11 7h1m101 8h1m54-8h1m47 6h1m25-7h1m75-3h1m208 16h1m131-9h1m-1179 24h1m-1 7h1m27 12h1m7-23h1m213 12h1m271-13h1m20 4h1m14 1h1m-1 8h1m29 1h1m8-7h1m258 20h1m227-24h1m-1046 35h1m99 1h1m94 14h1m25-17h1m417 15h1m72 6h1m77-25h1m93 26h1m10-1h1m15-10h1m461 2h1m-1048 17h1m117 3h1m148 1h1m51 3h1m30 1h1m7-5h1m215 11h1m-1305 36h1m350-23h1m336 6h1m324 15h1m37-15h1m0-5h1m241 2h1m267 3h1m-1261 46h1m172-17h1m80 5h1m350 8h1m114-5h1m181 1h1m14 32h1m83-2h1m61 0h1m-941 16h1m621-3h1m98 9h1m132-8h1m40 11h1m-753 22h1m729-4h1m-979 39h1m280 16h1m-530 51h1m1273-15h1m-158 97h1m-487 142h1m315 210h1m144 42h1" stroke="#28c4dc" stroke-width="10"/>
<path d="M1349 252h1m45-3h1m67 7h1m249-10h1m17 17h1m54-14h1m15 5h1m7-1h1m11 0h1m51-4h1m133 20h1m28-4h1m62 4h1m106-26h1m-1378 48h1m154 3h1m135 4h1m113-7h1m14 4h1m21-9h1m15-6h1m70 12h1m147-7h1m9 10h1m16 1h1m1-6h1m256 1h1m4 3h1m31-8h1m6-6h1m71 5h1m130 1h1m208 11h1m-1368 7h1m310 3h1m52 6h1m121-11h1m3 1h1m14 21h1m11 5h1m49-14h1m57-15h1m238 14h1m4 13h1m44 2h1m35-12h1m2-3h1m52 2h1m10-15h1m76 2h1m23 17h1m174-18h1m33 6h1m-1192 51h1m331-23h1m57 10h1m80-13h1m40 3h1m295 0h1m26-1h1m115-5h1m417 4h1m-1274 31h1m145 4h1m28 4h1m15 6h1m12-2h1m32 7h1m4-16h1m3 11h1m358-13h1m39 15h1m5-10h1m267 14h1m17-22h1m72 21h1m-1322 27h1m587-16h1m140 17h1m197 2h1m33-22h1m143 12h1m75-7h1m49-7h1m39 9h1m10 9h1m-1085 23h1m131 13h1m142-22h1m242 23h1m212-15h1m13-3h1m15 20h1m11-17h1m85-9h1m9 1h1m50 1h1m40 6h1m39 12h1m11 8h1m1-28h1m257 7h1m1 13h1m249-20h1m-1352 55h1m67-23h1m273 3h1m4 13h1m8-7h1m197 13h1m14-25h1m19 24h1m7-19h1m583 12h1m-1298 18h1m698-3h1m12 12h1m229 13h1m18-5h1m113 6h1m-1011 8h1m11 1h1m96 22h1m17-27h1m159 25h1m323-23h1m62 10h1m110 10h1m67-1h1m25 3h1m4-21h1m44 9h1m-1201 24h1m366 0h1m90 2h1m23-1h1m61 18h1m314 0h1m15-21h1m164-4h1m107 11h1m-686 23h1m18-5h1m164 19h1m2 4h1m31-4h1m180-7h1m77 9h1m171-17h1m31 18h1m129-10h1m28-13h1m23 24h1m39-24h1m39 11h1m-986 34h1m47-4h1m43 3h1m5-8h1m72 14h1m5 8h1m288-13h1m38 6h1m13-12h1m38-8h1m53 28h1m28-20h1m72 17h1m95-6h1m609-12h1m-1819 38h1m387-7h1m152 6h1m113-3h1m483 10h1m212 1h1m-999 25h1m103-9h1m140 1h1m306 19h1m14-2h1m5-24h1m45 1h1m146-3h1m167 5h1m-884 27h1m199 14h1m235 3h1m87-15h1m66 0h1m50 20h1m148-24h1m-1286 41h1m352-9h1m374 23h1m314-19h1m27 2h1m73 5h1m35 3h1m89 11h1m-841 21h1m21 5h1m462-9h1m10-7h1m150 12h1m49-8h1m56 2h1m5-6h1m99 20h1m217-11h1m179 7h1m-1478 25h1m125-19h1m94 10h1m580 0h1m23 2h1m56 11h1m141-1h1m240-12h1m-1420 38h1m185-11h1m49-7h1m302 27h1m804-27h1m-735 56h1m628-8h1m41-11h1m102 14h1m25-1h1m264 8h1m-1715 18h1m1202 10h1m279-23h1m-1383 31h1m1718 21h1m-1535 21h1m1000 10h1m104 2h1m-473 68h1m747 41h1m-148 166h1m-434 47h1m-1033 141h1m1181 65h1" stroke="#30d0a8" stroke-width="10"/>
<path d="M1328 264h1m49-3h1m34-19h1m82 26h1m215-1h1m89-14h1m20 3h1m177-5h1m36 12h1m30-11h1m-865 41h1m28 1h1m139-7h1m70 12h1m43-10h1m37-8h1m201 18h1m97-6h1m54-14h1m21-8h1m23 14h1m50-1h1m10 13h1m-1 0h1m11-22h1m54 3h1m112-1h1m-1033 44h1m106-6h1m5-7h1m258 3h1m231-2h1m190 19h1m46-12h1m20-5h1m71 1h1m-1167 38h1m244 9h1m169-14h1m30-6h1m14 18h1m109-17h1m298 8h1m27 10h1m40-16h1m14 10h1m56-17h1m344 21h1m-1090 27h1m62 2h1m83-22h1m77-2h1m82 11h1m5 12h1m2-21h1m8 9h1m8-6h1m11 10h1m14-13h1m182 23h1m26-23h1m29 17h1m28-16h1m110 24h1m197-22h1m7 19h1m154-15h1m-935 23h1m131 4h1m40 21h1m220 0h1m12 1h1m38-5h1m178-10h1m13 4h1m523-7h1m45 2h1m-1477 27h1m460 9h1m215 0h1m3-9h1m12-9h1m11 11h1m2 10h1m345-7h1m283 12h1m130-7h1m-1470 35h1m69 1h1m27-7h1m48-15h1m77 14h1m166-18h1m247 4h1m265 17h1m158-2h1m192 5h1m-1109 6h1m222 21h1m32-5h1m51-11h1m343 2h1m-752 46h1m10-1h1m186-3h1m462-1h1m170-7h1m258 6h1m27-7h1m111 4h1m-1170 42h1m4-23h1m37 15h1m509 8h1m30-19h1m60 6h1m114 0h1m43 10h1m-1162 7h1m506 11h1m10-7h1m166 3h1m312 12h1m43-10h1m70-6h1m5 10h1m80 4h1m4 9h1m59-12h1m-1249 39h1m394-11h1m29-8h1m56 6h1m46 11h1m76-17h1m55 9h1m228-3h1m7-9h1m11 15h1m17-4h1m79 6h1m236-16h1m3-1h1m-792 43h1m1 2h1m2 0h1m0-6h1m47 14h1m81-5h1m33 5h1m246-12h1m56-8h1m26 9h1m27-13h1m153 26h1m-755 14h1m84 13h1m158-16h1m52 14h1m200-9h1m37-5h1m34 22h1m419-15h1m265-8h1m-709 26h1m27 8h1m29 0h1m46 13h1m34-5h1m37 9h1m27 1h1m89-14h1m80 5h1m-1407 14h1m374 11h1m437-13h1m185 14h1m31-11h1m73-3h1m0 18h1m0-6h1m52 10h1m30-3h1m82-6h1m102-10h1m181 6h1m32-9h1m-1472 51h1m121-13h1m215-3h1m2 19h1m43-2h1m94-14h1m259 13h1m307 7h1m5-17h1m171 10h1m13-6h1m36-6h1m22 19h1m37-22h1m-928 40h1m11-8h1m36-5h1m30 17h1m1067-16h1m-327 30h1m218-4h1m33 5h1m-1124 45h1m707-19h1m266 20h1m103-11h1m131-7h1m-598 51h1m134-16h1m246 6h1m-56 27h1m-1281 43h1m67-20h1m1332 2h1m-847 34h1m-472 55h1m1162 32h1m-243 111h1" stroke="#30ccb8" stroke-width="10"/>
<path d="M1141 251h1m75 12h1m151 0h1m53-16h1m298 2h1m8 2h1m11 1h1m122-6h1m52 11h1m107-16h1m2 13h1m-1143 25h1m249 2h1m120 6h1m81 0h1m100 8h1m49-17h1m3 1h1m11 17h1m231-12h1m7 5h1m78-8h1m208-4h1m-774 35h1m187 8h1m0 4h1m57-9h1m18 12h1m214-24h1m14 18h1m75-17h1m2 18h1m9-12h1m24 3h1m10-7h1m19 5h1m16 8h1m-769 34h1m125 5h1m52-26h1m156 15h1m6 3h1m232-1h1m31-2h1m-1121 13h1m269 11h1m197 7h1m63-16h1m71 13h1m49-4h1m8-9h1m214 7h1m377 0h1m132-7h1m179 9h1m280 3h1m-1457 42h1m97-23h1m163 21h1m224 0h1m264 1h1m30-15h1m45-2h1m8 10h1m36-11h1m143 10h1m55-7h1m30 5h1m168-9h1m-1413 48h1m626-15h1m192-1h1m71-7h1m71 18h1m297-14h1m53 7h1m-1360 30h1m379-2h1m75-6h1m184-3h1m27 17h1m10-18h1m0 7h1m231 8h1m32-6h1m35-6h1m233 25h1m42-16h1m316-2h1m-1458 22h1m96 6h1m723 2h1m62-1h1m176 9h1m379-6h1m-1497 36h1m25 10h1m59-15h1m261 16h1m33-2h1m9-10h1m22-4h1m184-10h1m246 8h1m605-8h1m453 13h1m-1346 32h1m41 3h1m205-7h1m20 1h1m69 1h1m124-9h1m60 18h1m13-3h1m-653 18h1m156-7h1m8 26h1m218-10h1m34-16h1m15 2h1m44 9h1m58-4h1m-723 21h1m295-1h1m239 3h1m10 13h1m27 1h1m29-2h1m160 14h1m160-9h1m12-16h1m-1414 50h1m74-9h1m337 10h1m110 3h1m21-24h1m462 25h1m22-8h1m69 4h1m46-24h1m5 6h1m66 16h1m11-20h1m1 16h1m30 10h1m11-13h1m213-9h1m89 13h1m-1075 28h1m14-7h1m16 3h1m525-6h1m5 14h1m39-4h1m129 11h1m23-11h1m23-4h1m428-4h1m-1288 38h1m43 5h1m144-15h1m197 9h1m262-9h1m53-4h1m114-1h1m20 25h1m2-28h1m28 21h1m43-15h1m-775 33h1m193 17h1m160-10h1m210-9h1m61 21h1m28-14h1m37-6h1m167 2h1m6 5h1m-1294 40h1m697-10h1m304 11h1m231-9h1m5 9h1m25-10h1m159 12h1m-1156 11h1m257 19h1m164-28h1m264 18h1m90-6h1m257-2h1m50 6h1m100 2h1m38-12h1m-179 44h1m15-17h1m214 22h1m-369 5h1m67 15h1m-235 39h1m130-13h1m113 5h1m-700 44h1m239 18h1m669-14h1m-554 27h1m272 5h1m196 64h1m-460 49h1m-268 133h1m414 247h1" stroke="#30d0e0" stroke-width="10"/>
<path d="M1238 262h1m39-4h1m5 3h1m58 3h1m395-16h1m10-7h1m76 21h1m42-16h1m44 4h1m91 0h1m-1 13h1m0-16h1m4 22h1m57-25h1m-835 29h1m145 24h1m398-14h1m11 8h1m15 8h1m1-13h1m31-6h1m-1 12h1m25-14h1m3 14h1m0-3h1m186-13h1m2-4h1m-799 32h1m82 16h1m30 0h1m0-19h1m4 25h1m151-19h1m177 2h1m60 18h1m125-27h1m22 9h1m51 2h1m13 5h1m39-4h1m17 4h1m32-8h1m-1283 27h1m115 8h1m187-10h1m229 2h1m18 19h1m16-2h1m2-22h1m122 12h1m264-4h1m10 20h1m29-26h1m84 5h1m83-3h1m238 3h1m-1194 47h1m263 5h1m158-13h1m62 0h1m255 3h1m5-6h1m44 1h1m275-7h1m-825 46h1m28-1h1m113-18h1m46 8h1m21-9h1m12-3h1m13 17h1m3 0h1m3 8h1m3-2h1m230-23h1m1 20h1m16-17h1m1 7h1m302-8h1m127-1h1m-1320 32h1m85 12h1m5-15h1m302 10h1m598-5h1m10 24h1m52-6h1m278 4h1m32-25h1m14 5h1m71 14h1m-1332 27h1m10-13h1m3 17h1m182-9h1m292 9h1m11 0h1m380 2h1m15-19h1m-581 49h1m390-4h1m132 5h1m32-10h1m9-8h1m16 1h1m0 12h1m147 4h1m64 2h1m71-24h1m67 16h1m-1422 14h1m253 7h1m142 18h1m148-2h1m323 3h1m14-10h1m120-1h1m75-15h1m-1 18h1m28-15h1m45 10h1m8 1h1m6-9h1m435 11h1m-1387 33h1m0 6h1m30-12h1m7 5h1m130-19h1m98 27h1m391-25h1m3 10h1m168-2h1m63 3h1m14-12h1m250 22h1m-1552 30h1m660-8h1m47-6h1m117 17h1m32-2h1m198-9h1m169 9h1m51 0h1m58-24h1m23 8h1m359 3h1m-1250 36h1m231-6h1m35-1h1m28-7h1m1-4h1m4 19h1m61 8h1m203-12h1m7-3h1m10 16h1m15-3h1m37 0h1m39-8h1m71-15h1m1 27h1m17-5h1m3-7h1m2 5h1m218-19h1m-1126 56h1m312-8h1m369-1h1m5 8h1m21-19h1m50 16h1m43-11h1m23-13h1m180 16h1m10 8h1m-1292 26h1m35-10h1m431 0h1m24 11h1m131-6h1m112-7h1m38 18h1m238-19h1m9 20h1m169-13h1m295 4h1m-1510 26h1m713-7h1m16-4h1m322 8h1m0-5h1m1 1h1m36 4h1m12 0h1m32 6h1m91-5h1m130-3h1m-907 26h1m169 4h1m228 7h1m87-1h1m148-11h1m143 14h1m12-3h1m133 5h1m13-2h1m417-7h1m-1752 20h1m20-2h1m388 22h1m5-10h1m625 7h1m19 2h1m31 2h1m77-6h1m-71 23h1m-1197 46h1m439-4h1m173 7h1m503-9h1m29 2h1m77-2h1m89 7h1m-704 7h1m164 27h1m543 17h1m-186 23h1m164 3h1m-538 22h1m650 4h1m252 18h1m-412 11h1m63 26h1m-14 290h1m659 162h1" stroke="#38d8b8" stroke-width="10"/>
<path d="M1270 251h1m10-1h1m95 1h1m135-1h1m239-7h1m0 21h1m98-11h1m38 5h1m140 2h1m47 0h1m173-18h1m-918 42h1m187-3h1m186-6h1m149 7h1m75 9h1m338-14h1m-1348 25h1m204 1h1m155 3h1m7 17h1m25 3h1m24-11h1m88-8h1m24 12h1m12-13h1m29 16h1m279-17h1m27-3h1m129 10h1m14 3h1m281-8h1m143 7h1m-1104 25h1m38 3h1m29 10h1m11-4h1m6-5h1m2 1h1m52-14h1m54 4h1m325 6h1m17 19h1m56-11h1m70 4h1m12 0h1m7-20h1m362 11h1m209 2h1m-1448 31h1m169-5h1m221 5h1m32 12h1m221-25h1m11 12h1m207 8h1m171 4h1m-1103 12h1m203-7h1m19 20h1m79-15h1m396-1h1m273 10h1m131 12h1m229-8h1m136-20h1m-1444 45h1m180 3h1m278 8h1m3-1h1m195-12h1m3-9h1m7 23h1m9-8h1m12-10h1m10 4h1m13 8h1m414 8h1m-1182 16h1m32 14h1m120-28h1m107 13h1m8-7h1m418 4h1m47 9h1m2-3h1m294 1h1m33-3h1m-998 40h1m102-8h1m94 3h1m224-13h1m299 1h1m-870 29h1m456-3h1m20 14h1m822-11h1m18 8h1m16 2h1m-1503 37h1m496 4h1m132-22h1m298-4h1m130 18h1m34 4h1m123-6h1m175 5h1m-892 15h1m68-6h1m365 27h1m16-20h1m3-2h1m23 19h1m9-7h1m44-7h1m24-12h1m57 13h1m139-2h1m42 2h1m-1418 26h1m126 13h1m471-5h1m160 10h1m3 2h1m0-16h1m280-12h1m28 3h1m6-3h1m1-1h1m-1 0h1m38 26h1m114-20h1m120 2h1m102 10h1m-1032 39h1m194-12h1m24 14h1m151 0h1m236-10h1m75 0h1m214 4h1m4-7h1m-876 23h1m118 19h1m65-15h1m165 3h1m50 12h1m246-4h1m9-4h1m53-14h1m159 11h1m16 6h1m18 6h1m42-7h1m-249 28h1m15-9h1m93 14h1m11-25h1m12 11h1m46-7h1m2 22h1m87-7h1m20-10h1m14-9h1m152 24h1m-1365 7h1m470 13h1m25 10h1m36-22h1m70 18h1m8-6h1m289 7h1m74-7h1m165 5h1m248 3h1m-738 25h1m255 10h1m51-11h1m14 2h1m6-9h1m6 4h1m-781 35h1m40-7h1m582-9h1m475 19h1m-332 20h1m93 17h1m127-20h1m165-4h1m-1283 49h1m1181-22h1m43 14h1m14-11h1m72 2h1m28 23h1m-221 6h1m261-5h1m-454 82h1m-854 111h1m456 0h1" stroke="#22b0d4" stroke-width="10"/>
<path d="M836 269h1m191-18h1m241 16h1m3 0h1m135-9h1m64-3h1m245-3h1m114 11h1m207-12h1m8 10h1m73-10h1m79-5h1m-1266 47h1m295-22h1m293 19h1m276-6h1m41 3h1m14 7h1m6 5h1m181-10h1m126 7h1m-1240 25h1m34-2h1m167 2h1m187 6h1m159 2h1m13-6h1m286-11h1m135 8h1m297-2h1m-1346 21h1m120 17h1m329-16h1m45-7h1m1 7h1m4 13h1m334-15h1m33-3h1m20-4h1m4 12h1m185 6h1m370 9h1m-1233 5h1m260 18h1m121-7h1m37 13h1m0-12h1m182 12h1m249-9h1m45 8h1m40-15h1m-703 21h1m21 6h1m72 9h1m275 12h1m11-8h1m51-21h1m108 6h1m119 21h1m21-23h1m52 23h1m12-2h1m33-6h1m21 8h1m343-17h1m-1612 26h1m109 18h1m483-3h1m228-3h1m34-9h1m45 8h1m78 6h1m1 6h1m78-8h1m44 6h1m227-1h1m-1076 28h1m117-12h1m448 8h1m45 2h1m13-1h1m119-1h1m27-13h1m54 11h1m-1 4h1m88-2h1m47 4h1m20 1h1m84-23h1m89 19h1m-1350 29h1m491-8h1m291-3h1m15-9h1m7 9h1m139-8h1m10 25h1m54-9h1m4 5h1m40-6h1m59-5h1m34 15h1m-1302 9h1m300 9h1m129-11h1m91 1h1m0 2h1m9 16h1m15 6h1m22-6h1m10 5h1m112-23h1m226 18h1m54-12h1m121 1h1m18 12h1m324-5h1m-1197 37h1m287-23h1m590 10h1m24 1h1m15 11h1m105-3h1m84-9h1m-1422 43h1m167-22h1m120-3h1m202 2h1m58 0h1m93 8h1m98 16h1m218-10h1m95 4h1m12-8h1m0-5h1m62 4h1m52-3h1m103 11h1m86-6h1m-1285 37h1m506-15h1m4 4h1m60 7h1m72-9h1m238 20h1m8-27h1m583 1h1m69 22h1m48 4h1m-1268 21h1m80-1h1m55 9h1m39-13h1m98 4h1m53-6h1m236 6h1m111-9h1m171-8h1m8 18h1m198-5h1m-965 30h1m127 3h1m44 7h1m279-17h1m16 16h1m38-1h1m21-15h1m43 7h1m26-13h1m72 25h1m186-25h1m-1073 53h1m390-18h1m1 24h1m331-10h1m4 2h1m44 1h1m130-5h1m45-11h1m27 15h1m1-14h1m-149 35h1m-1101 39h1m329-7h1m348 7h1m113 2h1m197-6h1m32 10h1m4-3h1m79-24h1m110 12h1m134 8h1m6-9h1m132-11h1m-1289 45h1m1068-8h1m26-3h1m24-3h1m-312 46h1m286 2h1m48-9h1m-1097 27h1m54 17h1m11-8h1m41-14h1m962 6h1m76 0h1m23 18h1m321 9h1m-400 42h1m-1266 72h1m1217-2h1m356-4h1m-407 49h1m453-3h1m-223 67h1m-340 141h1" stroke="#40dcc0" stroke-width="10"/>
<path d="M421 264h1m-301 7h1m1417 3h1m688 27h1m332 13h1m-747 52h1m1017 3h1m-1420 38h1m825 36h1m-1967 55h1m2461-13h1m-1655 29h1m-657 41h1m354 10h1m81 1h1m593-2h1m963 4h1m-1867 7h1m410 21h1m1335-21h1m686 15h1m99-12h1m-1936 22h1m686 24h1m629-1h1m-2195 36h1m1090-11h1m366 9h1m425 0h1m-1006 6h1m963 8h1m235-11h1m776 6h1m-3008 26h1m1962 8h1m273 18h1m-2099 29h1m359-2h1m334-10h1m507-14h1m-204 33h1m1859 18h1m-2994 11h1m752 19h1m74 20h1m29-11h1m1969 19h1m-2511 24h1m1782-2h1m104 14h1m-1891 14h1m1344 6h1m11-1h1m34 1h1m359 5h1m-480 25h1m-1163 21h1m912 22h1m989-11h1m-2005 34h1m176-14h1m2323-6h1m7 13h1m-2822 16h1m470 13h1m26 7h1m758-1h1m1033-19h1m140-1h1m-616 39h1m334 8h1m283 7h1m208-22h1m-2636 39h1m550-9h1m353 21h1m484-22h1m12 24h1m175 2h1m645-20h1m500 20h1m-2336 21h1m1179-7h1m304 17h1m-1481 4h1m114 2h1m1386 9h1m801-6h1m-2638 42h1m779 1h1m382 6h1m1001 1h1m404-24h1m142 16h1m85-12h1m-1545 31h1m994 11h1m-1964 37h1m127-12h1m1018-1h1m183 9h1m224-2h1m202-20h1m-2065 38h1m469 5h1m1734 3h1m142 1h1m-2245 15h1m78 10h1m299 11h1m345-13h1m1410 19h1m643-9h1m-2946 38h1m670-10h1m1164-4h1m428 7h1m366-13h1m261-2h1m-1723 28h1m89 24h1m702-12h1m165-8h1m-1947 31h1m1362-8h1m957 6h1m59 14h1m-2471 25h1m787 8h1m347-16h1m49 1h1m1102 11h1m-2266 24h1m1024-7h1m731 10h1m-1618 27h1m1413 9h1m-1513 20h1m1120 16h1m1291-1h1m-2174 20h1m743-17h1m267 10h1m-1411 41h1m413 2h1m844-9h1m430 13h1m766-6h1m460-17h1m-2274 38h1m233-1h1m776 25h1m-754 64h1m1370 11h1m-1248 28h1m197-16h1m234 0h1m54 17h1m1406 1h1m-1577 47h1m1227 13h1m41-11h1m202-11h1m-2385 31h1m903 17h1m265-4h1m480 12h1m892-15h1m-2207 21h1m386 23h1m-1170 6h1m477 29h1m530 8h1m-455 33h1m1548-9h1m663 1h1m-2336 27h1m724 4h1m579 23h1m86 2h1m-1497 18h1m588 5h1m895-1h1m206-15h1m46 53h1m-430 15h1m44 0h1m334 8h1m583 3h1m240 17h1m-2059 63h1m150 4h1m83-8h1m501 2h1m-1301 74h1m73-26h1m1909 8h1m-2143 78h1m941-1h1m155 43h1m751 5h1m227-11h1m386 10h1m-2116 36h1m2156 7h1m-1156 5h1m1562 49h1m-1863 60h1m1544 4h1m-2140 23h1m1467-3h1m350 12h1m340 0h1m-2279 15h1m1949-4h1m-406 28h1m769 22h1m-2373 26h1m62-19h1m1804 33h1m-2199 28h1m50 72h1m-18 62h1" stroke="#bcdcf4" stroke-width="10"/>
<path d="M2525 261h1m-1588 42h1m199 10h1m1551 6h1m-2434 44h1m29 2h1m1885-1h1m-1203 39h1m1380 8h1m-2236 58h1m509 5h1m619-15h1m1097 18h1m98-13h1m-1631 27h1m226 0h1m1793 13h1m-1972 9h1m942 21h1m915 4h1m402-26h1m-2669 48h1m2097-18h1m-1992 50h1m1104-21h1m299 22h1m294-10h1m-1822 17h1m1506 2h1m-925 29h1m981 22h1m945-5h1m-2555 41h1m27-17h1m970-11h1m732 1h1m321 21h1m-1193 12h1m571 10h1m-1506 36h1m1022-13h1m414 1h1m753-2h1m-997 51h1m971-24h1m239 17h1m-2326 28h1m972 2h1m1247 0h1m-1969 19h1m1443 6h1m509-7h1m390-7h1m-2594 81h1m415-6h1m149-6h1m517-3h1m173 19h1m680-21h1m-1895 53h1m201-1h1m769-17h1m769-4h1m860 5h1m-2820 46h1m2504-4h1m-1809 14h1m1733-2h1m99 13h1m-2113 34h1m2046-6h1m-2393 35h1m219 7h1m506-21h1m1409 4h1m-2243 40h1m964-8h1m81-13h1m573 28h1m157 0h1m426-27h1m367 6h1m-1968 29h1m385 7h1m913 7h1m-1711 30h1m1104-3h1m799-13h1m87 0h1m-1062 40h1m494-9h1m571 0h1m635 2h1m-2189 39h1m179 2h1m308-13h1m514 14h1m127 2h1m1-3h1m801 2h1m-2364 28h1m75-14h1m932-4h1m-512 44h1m293-11h1m1437 9h1m-1438 35h1m170-7h1m1343 17h1m-2570 3h1m954 16h1m710 1h1m508 0h1m771 9h1m-2851 29h1m128-17h1m549 1h1m129 9h1m1035-8h1m615 6h1m-2177 21h1m341 17h1m337-2h1m611-13h1m1216-4h1m73 17h1m-2951 32h1m279-10h1m719-12h1m333 22h1m293-24h1m1076 21h1m-1395 36h1m422-26h1m637-1h1m287 17h1m-2486 33h1m231 2h1m115-12h1m1363-1h1m-1272 46h1m348-21h1m940 16h1m496-17h1m-2014 30h1m411 6h1m1200-3h1m348-6h1m-1303 48h1m575 10h1m1187-15h1m-2808 26h1m92 3h1m224 10h1m141-4h1m-481 26h1m212-14h1m214 12h1m-442 44h1m1773 1h1m350-13h1m823 10h1m-2580 6h1m935 12h1m-1028 29h1m318 14h1m467-26h1m311 5h1m203 17h1m894-10h1m269 1h1m-2175 41h1m53-16h1m183 9h1m296-13h1m81 17h1m36-6h1m603-3h1m1090 16h1m-2437 8h1m144 0h1m-507 35h1m933 2h1m210-2h1m347 8h1m403-3h1m-2065 28h1m817 9h1m168 19h1m1269 4h1m-1636 17h1m388 26h1m378-18h1m1060 7h1m-2325 16h1m498-2h1m1159-2h1m-1737 37h1m2572-3h1m-1 2h1m333-6h1m45 27h1m-1060 8h1m131 7h1m159 11h1m105-6h1m609 21h1m-1482 33h1m-1454 47h1m1863-12h1m-1395 21h1m483 12h1m-530 31h1m552-5h1m-298 38h1m447-2h1m744 3h1m-1289 14h1m2414 18h1m-882 11h1m182 7h1m-1306 55h1m1937 57h1m-1640 28h1m1048 23h1m-2178 31h1m1435 27h1m-77 13h1m1125 28h1m52 7h1m-2429 39h1m335 11h1m678 15h1m-824 23h1m963 5h1m731-2h1m792-1h1m-1718 129h1" stroke="#7cbce8" stroke-width="10"/>
<path d="M217 268h1m2695 6h1m-2113 26h1m-211 35h1m16 2h1m711 10h1m-1106 21h1m336-5h1m264 21h1m795-10h1m683 13h1m308 24h1m137-16h1m-1863 38h1m1131 5h1m257-13h1m26 4h1m17 38h1m465 10h1m-293 7h1m-2232 30h1m1136 15h1m1111-19h1m369 27h1m-1360 12h1m1556-5h1m-2787 49h1m287-11h1m1525-10h1m735 22h1m-2443 7h1m467 0h1m498 42h1m191 1h1m-913 25h1m97 20h1m611-29h1m10 28h1m1036-15h1m50 0h1m192-9h1m189 22h1m-1134 14h1m384-3h1m-1792 27h1m2536 5h1m-1683 50h1m458-6h1m664-10h1m90 5h1m343-16h1m-966 28h1m114 24h1m638-15h1m513-1h1m4 19h1m-2026 23h1m599 12h1m-868 35h1m1320 11h1m-1886 39h1m2299-27h1m-77 38h1m268 18h1m69-16h1m249 7h1m-2233 40h1m1335-24h1m-1395 38h1m946 0h1m-442 21h1m1536 9h1m-1188 34h1m173 2h1m318-17h1m437 17h1m547 7h1m-781 17h1m644-9h1m90 23h1m112-18h1m-2883 45h1m922 7h1m332-4h1m161-11h1m1491-1h1m-793 38h1m343 0h1m-1631 34h1m624 3h1m645-23h1m158 20h1m-1866 25h1m62-14h1m433-6h1m274 16h1m252 13h1m640-20h1m-1272 31h1m2104-8h1m-1645 55h1m7 2h1m1209-24h1m323 23h1m-2109 11h1m664 12h1m256-6h1m125-5h1m58 4h1m1057-6h1m-2462 27h1m42 3h1m1075 21h1m99-20h1m-1686 31h1m121 18h1m1202-16h1m579 12h1m-997 18h1m272 9h1m1468-15h1m-1660 32h1m-459 51h1m829-24h1m276 3h1m36 8h1m343-7h1m-1937 28h1m20-4h1m675 1h1m248 6h1m1903 17h1m-1863 27h1m203-3h1m1173-14h1m221 16h1m-1664 28h1m1396 1h1m127-3h1m183-19h1m-248 58h1m262-8h1m-2506 34h1m326-21h1m2352 8h1m-2143 45h1m629-22h1m-515 28h1m381 11h1m880-2h1m763-6h1m-2600 48h1m303-17h1m387-6h1m224 28h1m861-5h1m-1412 20h1m490-2h1m1071-1h1m131 5h1m395 13h1m-1680 30h1m323-9h1m-1152 23h1m423 2h1m63-14h1m670 29h1m-1260 10h1m995 20h1m752-6h1m-1438 14h1m46 17h1m-393 6h1m2070 49h1m-159 34h1m521-17h1m-877 38h1m1271 9h1m-2605 19h1m611-9h1m1962 31h1m-2484 48h1m433-1h1m1741-3h1m-2614 18h1m227 19h1m512-13h1m8-11h1m214 18h1m848 9h1m389-28h1m-1112 45h1m-979 21h1m107 67h1m296-1h1m705-6h1m84 5h1m537 14h1m338-2h1m385-2h1m-1960 18h1m1661 38h1m-882 23h1m108-3h1m433 49h1m335-12h1m-179 35h1m-404 65h1m408 0h1m-166 51h1m-1019 29h1m-313 17h1m1818 9h1m199 2h1m-1705 59h1m1379 24h1m-1723 39h1m1478 19h1m-286 46h1m706 9h1m-530 24h1" stroke="#b4e0f0" stroke-width="10"/>
<path d="M208 265h1m2843-2h1m-2053 18h1m459 40h1m1143 0h1m92-17h1m-1954 29h1m156 3h1m278 5h1m110 1h1m164 68h1m-1328 17h1m379 1h1m333 17h1m1550-19h1m657 10h1m-2515 26h1m1191-6h1m-1481 33h1m660 8h1m2170 8h1m-1775 13h1m963-6h1m-1861 46h1m2484-12h1m-2745 38h1m1018-2h1m252-2h1m718 0h1m240 8h1m646-10h1m-2838 37h1m1901-15h1m-759 51h1m1339-15h1m-2496 27h1m1757 8h1m150 15h1m128-26h1m-2048 47h1m141 8h1m750-12h1m68-2h1m-439 48h1m939-1h1m1409-7h1m-1732 11h1m169 6h1m27 13h1m162-15h1m172 8h1m310-5h1m347-5h1m12 15h1m-855 19h1m670-7h1m29 1h1m75 27h1m-951 6h1m214 11h1m-1438 43h1m172-13h1m1471-5h1m973-11h1m-2466 44h1m454-14h1m-174 38h1m2097 18h1m-2316 6h1m458 4h1m542 4h1m446 8h1m154 10h1m865-28h1m-2700 38h1m86 10h1m1170-8h1m237 10h1m428-7h1m875 11h1m-2768 28h1m1009-6h1m1067 11h1m526-23h1m-2561 27h1m1233 26h1m358-9h1m116 2h1m-1217 10h1m371 1h1m81 2h1m96 0h1m259 24h1m690-27h1m-2177 51h1m61 7h1m60-14h1m686 3h1m883-6h1m-367 34h1m45 2h1m400-12h1m-1189 41h1m215-9h1m-724 26h1m197 15h1m1300 10h1m467-9h1m-2073 22h1m505-5h1m156 1h1m336 18h1m505-25h1m1328 1h1m109 18h1m-2306 29h1m394 3h1m120-11h1m776-9h1m591 11h1m206 12h1m-2648 14h1m678 18h1m440-18h1m441 11h1m674-10h1m83-1h1m-2051 24h1m333 19h1m215 2h1m1258 3h1m111-4h1m-1933 36h1m140-4h1m7-20h1m652 8h1m680-3h1m363-7h1m280 11h1m201 3h1m-2252 19h1m1320 11h1m199 11h1m753 1h1m295-18h1m-1781 34h1m601 6h1m989-10h1m-509 23h1m58 16h1m298-9h1m99 19h1m120-3h1m-2355 11h1m1013 3h1m191 7h1m131-6h1m299-10h1m101 28h1m-2292 8h1m359 21h1m1191-1h1m-974 31h1m1508-21h1m-2058 40h1m685-16h1m1297 12h1m-1755 20h1m4 22h1m1344-3h1m660 6h1m600-3h1m-2448 13h1m365 12h1m482-20h1m226 20h1m-1412 15h1m39 13h1m359-15h1m-276 39h1m91 39h1m151-9h1m2453-9h1m-2104 42h1m121 9h1m-286 34h1m-597 18h1m126-11h1m643 19h1m581-19h1m753-4h1m278 17h1m20 5h1m416-11h1m-1814 23h1m90 1h1m683 17h1m475 2h1m572-17h1m-1298 50h1m-1335 21h1m1358-3h1m146-16h1m1247 25h1m0-7h1m-2663 39h1m1024-5h1m990-3h1m316 6h1m-2411 21h1m1829 1h1m33-14h1m516 26h1m-2020 29h1m171-26h1m579 11h1m308 5h1m1149 11h1m-1992 5h1m181 7h1m517-6h1m776 18h1m-2128 16h1m1686 14h1m867-5h1m-1850 30h1m1075-9h1m818 8h1m-2412 17h1m1522 3h1m35-2h1m142 8h1m75 6h1m451 15h1m-2190 35h1m1622 11h1m536-4h1m92 4h1m87-12h1m-880 71h1m84 1h1m-1878 17h1m195 11h1m2085-2h1m410 1h1m-2542 39h1m725-10h1m702 13h1m-1149 20h1m252-8h1m-494 36h1m-1 20h1m329 14h1m160-16h1m266 8h1m-932 36h1m674-7h1m1351 21h1m464 23h1m-956 93h1m-886 28h1m332 60h1m258 73h1m-159 63h1" stroke="#a8d0f0" stroke-width="10"/>
<path d="M237 271h1m321 50h1m1629 7h1m949 8h1m-1763 43h1m372-2h1m-1052 40h1m415-10h1m-295 25h1m1929-3h1m-2487 49h1m1956 30h1m-1802 3h1m788 11h1m46-6h1m525 2h1m62 9h1m565-9h1m178 8h1m-2330 41h1m395-12h1m101 12h1m1006-14h1m161-11h1m744 9h1m97-4h1m-561 51h1m726 1h1m-1721 1h1m1163 7h1m133 5h1m-1054 30h1m489-11h1m543 5h1m150 11h1m-1931 41h1m627-25h1m366 24h1m-1446 13h1m230 15h1m1664-13h1m278-9h1m-2220 27h1m2880 12h1m-2254 19h1m1959 17h1m273 10h1m-743 9h1m562 11h1m-728 14h1m-1473 50h1m378-3h1m1714-2h1m-2545 34h1m887 7h1m103-28h1m146 23h1m-642 8h1m315 7h1m82-5h1m841 9h1m446 7h1m286 3h1m10-21h1m-1970 35h1m1237 17h1m656-16h1m151-2h1m-2485 38h1m1481 2h1m349-5h1m-2058 26h1m336 20h1m93-17h1m220 11h1m358 3h1m883-10h1m157-13h1m411 2h1m243 27h1m100-24h1m-2573 36h1m839-5h1m1108 13h1m-156 40h1m67-3h1m787-2h1m-2209 13h1m30-3h1m56-1h1m1297 14h1m-1605 18h1m385 13h1m152-15h1m221 0h1m109 3h1m272-6h1m76 18h1m162 7h1m-939 27h1m450-4h1m-510 14h1m939 4h1m152 1h1m-1722 36h1m539 15h1m1204-1h1m-1670 21h1m4-10h1m1122 18h1m131-18h1m141-6h1m-1244 35h1m1664 7h1m16 10h1m449 1h1m139 3h1m-2566 21h1m613 10h1m375-4h1m602-8h1m201 34h1m414-3h1m81-14h1m247 7h1m-2491 39h1m1541 0h1m-1117 12h1m1185 11h1m280-9h1m256 20h1m200 3h1m-1527 32h1m1042 0h1m-1550 15h1m1243-11h1m118 12h1m501 36h1m-828 26h1m5-3h1m1016 9h1m-1356 23h1m1442-10h1m-2683 48h1m93-14h1m588-6h1m1160 22h1m-741 10h1m637-4h1m1070 13h1m-2277 36h1m1216 5h1m244-14h1m290-4h1m50-6h1m-1736 53h1m683-9h1m-715 35h1m95-15h1m444-5h1m308 7h1m368-2h1m626 5h1m-1862 40h1m1236-17h1m1218-1h1m-2739 38h1m68 12h1m1019 12h1m0 8h1m88-3h1m-859 39h1m1055-6h1m357-2h1m358-4h1m536 0h1m-1878 35h1m208 3h1m631-7h1m-1623 37h1m98 20h1m163 6h1m1762-4h1m510-2h1m194 16h1m-2638 20h1m294 10h1m1968-18h1m-64 46h1m-276 13h1m47 21h1m691-1h1m-502 33h1m-1439 7h1m765 26h1m867-22h1m-2205 32h1m233 14h1m6-8h1m1322 13h1m-1835 57h1m-15 28h1m266-13h1m143 10h1m1057 10h1m1132-5h1m-1459 28h1m1058-18h1m-883 47h1m-1207 12h1m-156 53h1m1951 3h1m144-3h1m153-5h1m273 18h1m-1392 97h1m1468-7h1m-2487 21h1m44 4h1m391 3h1m780 26h1m1178 0h1m-2347 39h1m1248 6h1m293 7h1m531 14h1m194 0h1m-1564 40h1m1493 6h1m346-22h1m-53 44h1m-2747 13h1m152 15h1m2652 2h1m-838 36h1m-1437 88h1" stroke="#94c4ec" stroke-width="10"/>
<path d="M338 249h1m173-8h1m218 27h1m158-7h1m14-9h1m46-6h1m121 12h1m6-15h1m38 22h1m21 4h1m154-15h1m104-7h1m338-3h1m120 9h1m2 2h1m17-2h1m36-6h1m93 17h1m8-3h1m39-7h1m21 5h1m104-5h1m210-9h1m66 11h1m418 5h1m-2568 20h1m301 13h1m193 3h1m313-14h1m93-9h1m36 21h1m64-6h1m664 10h1m73-17h1m124-9h1m3 11h1m6-11h1m56 3h1m69 23h1m49-14h1m0 5h1m352-12h1m48 15h1m-2537 18h1m516 10h1m42 8h1m18-28h1m56 21h1m52-19h1m9 17h1m170-2h1m128 6h1m33-24h1m89 17h1m46 10h1m394-12h1m138 7h1m268-19h1m60 12h1m15 9h1m10-15h1m13 14h1m249-23h1m18 14h1m-1922 35h1m100-5h1m86-4h1m32 2h1m68-11h1m214 9h1m71 5h1m19-13h1m118 19h1m458 7h1m102-8h1m44-10h1m253 6h1m5 7h1m18-16h1m22-5h1m17 8h1m0 13h1m14-5h1m127-3h1m3 0h1m497-11h1m-2599 38h1m200 7h1m205 0h1m77-6h1m258 16h1m419-27h1m474-1h1m124 25h1m73-12h1m72 4h1m140 0h1m0 11h1m18-7h1m13-2h1m34-17h1m31 26h1m68-6h1m75-11h1m-1921 35h1m9 3h1m144-19h1m130 9h1m12-6h1m13 11h1m44-2h1m18-11h1m8 0h1m105 26h1m20-12h1m42-7h1m524 5h1m46-6h1m153-8h1m13 20h1m36-15h1m88 1h1m70 3h1m72 12h1m72-16h1m64-1h1m23 25h1m5-16h1m16-9h1m11 12h1m14 7h1m-1873 18h1m90 3h1m63 8h1m81-5h1m129 9h1m56-24h1m-1 8h1m1-1h1m4-5h1m13 9h1m28-11h1m66 19h1m141-15h1m104 12h1m108-8h1m208 5h1m53 12h1m90-4h1m89-5h1m30-12h1m80 7h1m49 9h1m45-16h1m40 7h1m0-4h1m62 4h1m87-2h1m55 0h1m170 14h1m-2419 20h1m158-4h1m333-2h1m30-9h1m146 0h1m27 3h1m11 25h1m137-6h1m16 0h1m474-17h1m465 24h1m166-5h1m111-17h1m29 21h1m10 1h1m-1 0h1m2-12h1m41 3h1m38-19h1m19 9h1m44 0h1m97 5h1m28-10h1m1 13h1m0-11h1m-2226 23h1m207 25h1m28-6h1m53-12h1m39 3h1m29-3h1m12 8h1m172-10h1m16 10h1m100 2h1m13-2h1m67 5h1m248-13h1m338 8h1m197 7h1m40 1h1m14-5h1m65-12h1m241 21h1m58-26h1m46 27h1m44-17h1m68 8h1m147-13h1m-1682 48h1m-1 5h1m75-4h1m42-5h1m17-8h1m20 17h1m21-14h1m110 8h1m46-12h1m17 8h1m21 2h1m409-4h1m450-1h1m166-4h1m17-2h1m32 15h1m206-14h1m-2141 48h1m25-27h1m17 21h1m94-1h1m221 4h1m110 1h1m91-15h1m33 10h1m119-13h1m510 15h1m706-14h1m32 14h1m20-17h1m19 13h1m25-18h1m8 24h1m5 3h1m6-24h1m35 14h1m39-17h1m-2096 54h1m226 3h1m94 0h1m5-2h1m7 1h1m184-4h1m21-20h1m152 1h1m34 22h1m47-16h1m666 15h1m124-4h1m78-21h1m188 12h1m9 8h1m17 4h1m37-14h1m43-2h1m4-7h1m40 10h1m138 10h1m16-1h1m46 5h1m-2282 22h1m270-14h1m4 3h1m98 20h1m10-13h1m30 8h1m35 1h1m4-10h1m365-5h1m177-2h1m311-1h1m4-1h1m372 21h1m66-2h1m7-21h1m58 1h1m86 10h1m142-5h1m3 21h1m-2121 27h1m292 2h1m9-15h1m119-7h1m11 1h1m12-2h1m425 14h1m46 3h1m47 3h1m598 1h1m6-24h1m126-2h1m100 13h1m110-12h1m-1 20h1m15-9h1m43 16h1m158-10h1m79 3h1m258-7h1m34-14h1m-2557 35h1m33 22h1m65-22h1m259 3h1m10 16h1m4-15h1m6 9h1m111-18h1m18 8h1m8 13h1m160-12h1m109 5h1m67-2h1m27 13h1m12-7h1m19 2h1m229-12h1m245 21h1m203-22h1m23 13h1m32-7h1m33-8h1m35 13h1m41 10h1m105-13h1m27-6h1m40 7h1m127-11h1m44 8h1m24-13h1m132 15h1m75 6h1m54-4h1m48 11h1m68-23h1m-2178 34h1m61-8h1m17 14h1m4-5h1m475-10h1m-1 2h1m1 12h1m198 0h1m60-7h1m487-3h1m32 11h1m31 5h1m40-2h1m11-7h1m20 12h1m34-21h1m8 12h1m14 3h1m279-7h1m60 0h1m28 15h1m121-23h1m10 1h1m16 24h1m14-26h1m23 17h1m-2502 18h1m172-6h1m80 28h1m108-1h1m2-24h1m161 20h1m49-4h1m105 8h1m124-3h1m45-15h1m6-3h1m246 18h1m499-8h1m127-11h1m52 6h1m30-4h1m193-5h1m43-1h1m100 22h1m0-4h1m114-16h1m49 13h1m67-12h1m12 18h1m26-9h1m8-6h1m-2455 34h1m471 2h1m59 2h1m24-6h1m24-2h1m32 17h1m6 5h1m80-19h1m197 11h1m115-14h1m100 6h1m403 16h1m214-20h1m7-5h1m33 23h1m6-22h1m87 8h1m0 12h1m34 4h1m7-5h1m39-12h1m11-5h1m83 10h1m98 10h1m104 1h1m67-18h1m6 12h1m91 1h1m116-7h1m13 4h1m113-3h1m-2242 35h1m13 6h1m87-9h1m54 7h1m106-21h1m103 18h1m108-7h1m39-2h1m988 13h1m60 1h1m193-6h1m33-4h1m3 7h1m117-5h1m21-1h1m36 0h1m2 2h1m9-17h1m-1 4h1m78-7h1m-2285 43h1m49 13h1m472-7h1m180-3h1m610 4h1m263-19h1m0 12h1m19 5h1m113-2h1m6 10h1m61-19h1m40 8h1m37 7h1m35 2h1m34-2h1m67-5h1m3-11h1m27 19h1m6 1h1m24-7h1m20 0h1m87-16h1m55 25h1m-2294 27h1m293-8h1m137 3h1m296-21h1m105 18h1m745-9h1m93 3h1m83 12h1m67-14h1m14 9h1m13-14h1m7 17h1m42 7h1m43-7h1m43-17h1m55 21h1m37-19h1m4 5h1m23 7h1m2-1h1m0-8h1m10 10h1m61-10h1m0 17h1m78 2h1m78-6h1m59 4h1m-1966 31h1m79-23h1m172-4h1m1204 25h1m23-8h1m9 2h1m37-4h1m30-13h1m3 19h1m16-2h1m22-18h1m75 27h1m1-20h1m4 6h1m52-8h1m324 17h1m30-16h1m-2166 49h1m1388-21h1m117 8h1m20-11h1m35-2h1m359 0h1m39 2h1m29 3h1m-2429 50h1m175-16h1m242 11h1m38 3h1m16-22h1m1524 3h1m42 16h1m57-6h1m23-8h1m21 2h1m2 6h1m2 8h1m22-3h1m30-11h1m9 2h1m29-2h1m-2127 29h1m455-8h1m12 20h1m72 0h1m1312-10h1m115 5h1m60-12h1m66 2h1m187 10h1m19 0h1m-2312 36h1m441-8h1m1551 16h1m45-12h1m45 1h1m210-14h1m-509 40h1m448-9h1m-2117 38h1m1421 6h1m207-10h1m-1275 68h1m1634-2h1m-172 39h1m188 24h1m-1786 23h1m2105 63h1m88 172h1m-344 51h1" stroke="#30b0c4" stroke-width="13"/>
<path d="M594 247h1m58 18h1m39-20h1m14 13h1m126 10h1m106-24h1m59-3h1m198 25h1m12-1h1m0 2h1m1-7h1m65-18h1m7 2h1m10 20h1m523-6h1m39-9h1m15 1h1m333-10h1m122 2h1m175 5h1m112 11h1m78-17h1m-2257 49h1m210-7h1m59 8h1m87-7h1m310 4h1m393 7h1m288-11h1m203-11h1m23 9h1m86-7h1m77 8h1m19 5h1m6 11h1m22-3h1m38-8h1m47-13h1m28 24h1m117-23h1m209 3h1m281 13h1m-2163 36h1m10-15h1m19-1h1m19 8h1m18-7h1m17 1h1m73 6h1m249-14h1m526-6h1m24 16h1m12 7h1m11 4h1m70-16h1m218 14h1m141-23h1m72 24h1m230-22h1m-1 11h1m259 7h1m-2474 16h1m177 16h1m210-5h1m61 3h1m3 0h1m36-19h1m12 19h1m4-17h1m54 5h1m31 7h1m251-1h1m94 3h1m34-2h1m57-12h1m13 10h1m18 14h1m508-29h1m69 15h1m193-3h1m79 12h1m8-15h1m60 8h1m63-10h1m6 20h1m250-5h1m39-20h1m91 27h1m-2106 25h1m149-13h1m88-10h1m132 28h1m95-28h1m48 14h1m52 3h1m47-14h1m64 22h1m146-14h1m20-9h1m434 4h1m149 8h1m82 8h1m80-22h1m115 17h1m31-13h1m17 15h1m12 0h1m41-7h1m564-9h1m-2769 48h1m446 0h1m37 2h1m25-22h1m90 18h1m17 0h1m8-3h1m110-7h1m162 9h1m31-10h1m28-5h1m18 2h1m12 5h1m235-2h1m329 16h1m164-8h1m68 1h1m42-17h1m13 7h1m21 0h1m20 14h1m23-15h1m175 6h1m0 15h1m55-26h1m12 21h1m9 1h1m54-7h1m15-3h1m190 4h1m-2010 25h1m157 14h1m135-8h1m25-13h1m73 21h1m174-10h1m470-15h1m245 8h1m6 15h1m0-6h1m98 8h1m19 1h1m5-23h1m0 4h1m71-2h1m62 20h1m47-26h1m16 17h1m32-12h1m16-2h1m11 7h1m9-1h1m18 1h1m46 13h1m208-4h1m103-14h1m-2020 41h1m7 7h1m42-1h1m109-4h1m54-18h1m45 28h1m147-8h1m51-5h1m1060-2h1m39-3h1m12-8h1m1 1h1m4 22h1m70-15h1m12 10h1m2-14h1m103 5h1m69 5h1m5-6h1m-2093 19h1m397 11h1m11-2h1m70 18h1m11 1h1m19-13h1m25-3h1m39 11h1m1-17h1m283 5h1m340-6h1m178 16h1m85-12h1m61 19h1m74 1h1m107-5h1m47-18h1m1 10h1m120-10h1m13 22h1m1-1h1m8-18h1m17 2h1m2 7h1m81-18h1m-1 16h1m6-1h1m345 8h1m-2383 11h1m10 10h1m132 13h1m50-1h1m146-4h1m212 7h1m15-10h1m3-8h1m47 11h1m102 7h1m50-8h1m626-14h1m135-5h1m59-1h1m123 14h1m42 10h1m124-10h1m46 12h1m63-7h1m12 9h1m360-16h1m-1820 30h1m28-7h1m2 12h1m144-9h1m147 2h1m563-3h1m209 13h1m166 6h1m18-11h1m208-3h1m-2028 38h1m150-13h1m26 15h1m45 2h1m5-16h1m91 6h1m4-13h1m206 12h1m255 6h1m432-17h1m90 25h1m133-20h1m55 0h1m68-3h1m5-4h1m2 13h1m23 0h1m32-3h1m70 13h1m119-14h1m26-2h1m103 1h1m96 6h1m-1878 26h1m38-11h1m84 29h1m8-6h1m41-4h1m1 5h1m203-11h1m122 3h1m171 2h1m125-17h1m259 25h1m38-21h1m84 5h1m7-5h1m32 12h1m75 6h1m90-20h1m37 9h1m30 16h1m38-4h1m67-2h1m109-8h1m38-14h1m30 7h1m117-7h1m2 6h1m5 22h1m149-2h1m-2286 7h1m93 14h1m37-11h1m217 4h1m0 11h1m27-6h1m74 0h1m142 11h1m108-6h1m96-2h1m177-17h1m274 23h1m235-12h1m1 8h1m17-3h1m176-16h1m236 23h1m47 5h1m13 0h1m297-2h1m96-22h1m18 3h1m333 16h1m-2798 27h1m255-18h1m16 2h1m107 1h1m30-4h1m134 4h1m389 22h1m7-22h1m463 5h1m41 2h1m85-11h1m36 7h1m6-3h1m8 8h1m16-8h1m10-1h1m126 11h1m140-13h1m12 4h1m20 17h1m81-7h1m32-13h1m76 22h1m36 2h1m-2028 20h1m108 7h1m133-4h1m117-7h1m185-13h1m55 19h1m101-12h1m775 7h1m44-3h1m6-2h1m24-1h1m3-5h1m22 0h1m61 2h1m94 14h1m152 1h1m100-6h1m97-4h1m92 2h1m63-5h1m-2209 36h1m31 8h1m7 3h1m94-7h1m146 8h1m139-4h1m77-13h1m287-8h1m48 6h1m495 7h1m16-6h1m110 14h1m0-22h1m15 0h1m25 9h1m33 10h1m32-14h1m16 6h1m9 16h1m7-1h1m59-4h1m8 0h1m65-16h1m50 14h1m3-8h1m63 10h1m26-15h1m110 12h1m-1997 20h1m70 11h1m14-19h1m100 20h1m135 8h1m71-12h1m109 4h1m168-5h1m786-1h1m41-5h1m17 13h1m17-21h1m11-2h1m15 21h1m37-2h1m84-1h1m72-18h1m63 25h1m147-22h1m15 17h1m75 9h1m-2175 22h1m99-2h1m246-9h1m54 2h1m239 4h1m49-3h1m77-13h1m623 4h1m192 15h1m39-15h1m50 21h1m40-12h1m41 6h1m40 5h1m61 4h1m147-8h1m22-4h1m59-11h1m7 18h1m41 5h1m12-16h1m27-3h1m37-6h1m-2082 29h1m19 13h1m38 2h1m234-6h1m21 7h1m1066-15h1m19 24h1m81-9h1m0-1h1m25-11h1m63-3h1m18 9h1m19 2h1m112-4h1m5 13h1m14 4h1m1-27h1m42 16h1m25-13h1m0 15h1m15-9h1m37-7h1m7 2h1m16 20h1m45-19h1m79 8h1m95 9h1m-2017 25h1m34-8h1m219 3h1m28 6h1m22 11h1m1040-7h1m117-10h1m65 15h1m27-15h1m12 15h1m52-16h1m53 3h1m25 1h1m3 11h1m20-8h1m8-17h1m45 19h1m14-17h1m0 13h1m14-7h1m117 9h1m3-17h1m49 15h1m-2147 31h1m282 10h1m131-3h1m69 4h1m866-13h1m137 11h1m85-3h1m48 6h1m61-28h1m144 6h1m181 1h1m6-7h1m249 11h1m-2172 31h1m1500-7h1m52 13h1m11-4h1m90-4h1m102 17h1m129-1h1m31-10h1m204-16h1m22 25h1m-2009 24h1m77-20h1m1412 11h1m250 0h1m48-2h1m9 8h1m12-17h1m161 25h1m43-17h1m-2595 42h1m410-7h1m369 15h1m396-27h1m806 3h1m96 16h1m218-16h1m208 0h1m5 24h1m5-16h1m-1843 38h1m154-8h1m1371 1h1m10 0h1m-2206 38h1m2262 1h1m48-16h1m9 5h1m-337 22h1m219-1h1m227 20h1m-2251 14h1m711 12h1m1485 9h1m71 18h1m339-11h1m-1091 122h1m-1190 53h1m96-28h1m1896 11h1m139 18h1m-24 107h1m-290 351h1" stroke="#24b8cc" stroke-width="13"/>
<path d="M599 264h1m79-21h1m13 19h1m17 4h1m188-2h1m7-4h1m103-14h1m44-2h1m20 5h1m44-2h1m157-5h1m1 13h1m462 5h1m88-1h1m184-7h1m6 9h1m9 8h1m49-29h1m36 10h1m16-9h1m267 15h1m0 8h1m0-6h1m1-11h1m425 4h1m249 5h1m106-15h1m-2404 38h1m10 13h1m30-2h1m72-19h1m384 8h1m82 1h1m123 13h1m19-15h1m7 11h1m0 3h1m222 7h1m73 0h1m16-17h1m30-5h1m103-2h1m4 22h1m7-4h1m27-6h1m44-3h1m7-5h1m77 15h1m73-4h1m94-19h1m51 27h1m7-18h1m141 12h1m-1825 24h1m104-14h1m12 4h1m8 23h1m103-21h1m58 4h1m26-12h1m-1 2h1m117 13h1m0-9h1m45 17h1m180-16h1m64 19h1m338-11h1m96-15h1m28 0h1m96 26h1m0-18h1m212 16h1m12-17h1m0 6h1m4 9h1m14-12h1m19 5h1m29-11h1m2 18h1m17-1h1m15-7h1m12-6h1m-1 2h1m183-8h1m-2012 43h1m104 7h1m28-12h1m233-5h1m110-5h1m274 18h1m61-11h1m14-1h1m46 2h1m59 17h1m5 4h1m26-20h1m241-7h1m85 11h1m478 1h1m10 10h1m3-6h1m14-14h1m5 21h1m43 1h1m4-4h1m74-8h1m-1845 40h1m127-5h1m34 0h1m46-10h1m2 1h1m86 7h1m85-14h1m25 19h1m82-20h1m23 18h1m105-8h1m5 14h1m233-19h1m294-4h1m196 13h1m249 11h1m136-14h1m2-9h1m54-2h1m1 24h1m351-22h1m-2180 27h1m151 19h1m14-5h1m8-10h1m142-2h1m45 3h1m73-4h1m84-1h1m29 20h1m142 0h1m733-4h1m85-16h1m49 14h1m11 6h1m35-7h1m35 7h1m74-5h1m31-15h1m56 14h1m19-6h1m38 6h1m2-7h1m28 8h1m-1888 21h1m62 11h1m68 5h1m120 2h1m102-3h1m9-6h1m14-4h1m8 13h1m3 2h1m62-12h1m7-2h1m190-11h1m484 8h1m27-4h1m314 0h1m51 11h1m6 0h1m34 6h1m47-21h1m20 14h1m11 3h1m40-11h1m80 2h1m15 11h1m48-11h1m7 4h1m3-13h1m0 15h1m57-14h1m231 4h1m15 5h1m-2253 47h1m123-10h1m215-7h1m109-3h1m4-6h1m52 16h1m88-16h1m73 19h1m44-9h1m55 17h1m74-3h1m619-3h1m278-13h1m13 2h1m33 8h1m35-13h1m2 14h1m10-5h1m2-11h1m76 3h1m4-8h1m15 10h1m115-9h1m23 2h1m364 10h1m-2048 44h1m105 1h1m39-27h1m47 19h1m170 2h1m441-13h1m208 2h1m87 13h1m57-3h1m131-15h1m28 8h1m49 7h1m76 1h1m51-8h1m6-12h1m0 9h1m109 18h1m361-12h1m-2208 37h1m41-20h1m19 5h1m326-7h1m19 26h1m112-8h1m5-19h1m82 3h1m26 14h1m43-18h1m60 10h1m553 1h1m5-7h1m17 10h1m244 0h1m271 1h1m-1707 38h1m43 4h1m219-8h1m16-6h1m120 2h1m54 3h1m702 0h1m22-7h1m33-3h1m155 6h1m85-12h1m12 3h1m47 3h1m37 11h1m172 5h1m24-15h1m20 9h1m149-6h1m-2387 24h1m206 18h1m270-2h1m-1 2h1m217-22h1m300 14h1m125-2h1m229 14h1m142-5h1m32-14h1m85 10h1m136-17h1m191 2h1m36 21h1m120-23h1m65 27h1m1-26h1m35 14h1m178-12h1m-2046 40h1m28-1h1m98 5h1m-1 8h1m4-15h1m58 12h1m5-15h1m7 9h1m192-5h1m636 16h1m36-3h1m53 1h1m35-10h1m1-5h1m39 7h1m68 1h1m134-7h1m0 4h1m11-16h1m5 27h1m15-24h1m34-3h1m249 13h1m91-7h1m119 10h1m19 11h1m40-2h1m138-4h1m-2166 23h1m6-14h1m57 14h1m76 4h1m53-8h1m113 2h1m23-12h1m4 1h1m234 13h1m24-2h1m24 15h1m554-16h1m174 13h1m125-13h1m24-12h1m40 9h1m119 12h1m84 8h1m4-27h1m60 27h1m7-4h1m168-21h1m33 20h1m1-11h1m30 9h1m-2061 10h1m89 0h1m-1 15h1m19-4h1m284 2h1m92-5h1m328-9h1m0 8h1m226-1h1m125 3h1m2 15h1m159-3h1m25-5h1m36-14h1m238 11h1m30 14h1m19-16h1m45-2h1m1-11h1m24 4h1m16 12h1m43-10h1m50-5h1m79 28h1m127-4h1m-2113 7h1m192 16h1m41-9h1m585-6h1m14 0h1m532 20h1m117 4h1m10-22h1m13 9h1m131-1h1m24 13h1m7-8h1m69-4h1m163 1h1m37 14h1m18-1h1m20-5h1m61-23h1m16 27h1m-2252 13h1m241-2h1m41 2h1m49 16h1m11-6h1m84 8h1m19-15h1m27-2h1m271 8h1m104-16h1m146 13h1m12-4h1m444 8h1m23-17h1m34 23h1m116 0h1m17-20h1m26-2h1m125 10h1m17 3h1m22-8h1m1 17h1m3 2h1m137-14h1m13-3h1m21 11h1m9-16h1m18 15h1m21 1h1m144-15h1m-2426 42h1m357 2h1m59-9h1m123 0h1m23-11h1m15 10h1m6 1h1m119-10h1m72 23h1m81-2h1m51-16h1m419 2h1m316 12h1m181-14h1m65 22h1m43-7h1m23 5h1m60-9h1m53-3h1m0-15h1m251 11h1m39 5h1m84-1h1m-2155 37h1m277-22h1m18 25h1m192 0h1m15-10h1m1-12h1m52 11h1m804-14h1m106 23h1m116-23h1m26 17h1m40-4h1m1 16h1m1 0h1m24 0h1m2-8h1m49 0h1m56-12h1m56 13h1m152-22h1m43 18h1m44 8h1m-2283 4h1m325 21h1m186-15h1m29 17h1m22-16h1m1082 11h1m46-16h1m74 12h1m29-3h1m6 7h1m3-18h1m1 18h1m2 6h1m27-19h1m25-1h1m71 6h1m93 4h1m10-12h1m13 8h1m16 10h1m2-17h1m48-3h1m4 3h1m9 22h1m5 4h1m31-3h1m87-20h1m317 18h1m-2317 18h1m89 16h1m77 1h1m80-7h1m17-9h1m1094-6h1m13 3h1m52 14h1m27-24h1m86 12h1m34 3h1m-1 3h1m25 9h1m0-9h1m69-9h1m6 12h1m34 1h1m15 7h1m43-20h1m7-1h1m31 15h1m37-23h1m33 21h1m103-13h1m202 6h1m-2475 22h1m470 12h1m103-17h1m48 25h1m130-12h1m925-2h1m36-2h1m5-8h1m36 27h1m88-11h1m93 1h1m85 8h1m63-15h1m22-3h1m22 17h1m42-18h1m339 0h1m-2266 44h1m266 5h1m1376-20h1m5 6h1m11 7h1m7 8h1m95-11h1m1-3h1m112-13h1m32-1h1m46 13h1m21 13h1m5-14h1m93-7h1m25 9h1m-1 12h1m-1735 7h1m1196 3h1m177-1h1m25 21h1m69-12h1m29 7h1m13-21h1m28 14h1m35-6h1m18-8h1m116 26h1m15-23h1m102 11h1m-607 33h1m36 11h1m131-23h1m131 21h1m34-6h1m105-4h1m-1955 16h1m130 3h1m504 10h1m1075-10h1m133 18h1m114-15h1m-2495 50h1m1960-16h1m329-2h1m82 3h1m0-4h1m-1903 33h1m865-7h1m800 31h1m-1619 68h1m1579-5h1m-101 69h1m383-16h1m30 14h1m-2403 38h1m2657 1h1m-1869 31h1m1799-19h1m92 10h1m-1968 24h1m1987 76h1" stroke="#2cc4d0" stroke-width="13"/>
<path d="M609 252h1m227-5h1m139 9h1m9-9h1m15 7h1m298 11h1m203 4h1m358-17h1m16 1h1m-1 3h1m149 2h1m6-11h1m13 2h1m12-5h1m20 5h1m340-1h1m13 5h1m5-11h1m390 27h1m-2247 20h1m66-10h1m34 1h1m98 10h1m31-20h1m40 13h1m6 14h1m56-3h1m57 2h1m147-23h1m68-1h1m6 18h1m551 9h1m56-29h1m29 2h1m-1 18h1m147-18h1m1 20h1m13-4h1m76-9h1m131 12h1m66 1h1m19 6h1m147-4h1m79-9h1m28-2h1m256-1h1m-2239 40h1m142 4h1m34-17h1m53-2h1m2 11h1m79 10h1m15-24h1m72 6h1m3-5h1m540 16h1m241-13h1m64 3h1m1 2h1m7 4h1m36 3h1m28 6h1m11-24h1m5 14h1m19-15h1m239 19h1m27-7h1m25 13h1m132-26h1m35 8h1m18 8h1m100-16h1m38 12h1m11 12h1m400 0h1m-2373 29h1m139-14h1m8-8h1m63 4h1m101 5h1m352-4h1m55 4h1m64 8h1m73 3h1m6-15h1m21 6h1m258-7h1m176 5h1m20-10h1m12 18h1m144-3h1m119 2h1m41-14h1m4 3h1m11 0h1m126 1h1m-1805 33h1m173 16h1m16-22h1m71 0h1m1089 9h1m93-4h1m39 19h1m5-9h1m71 4h1m1 6h1m43-25h1m14 2h1m18 8h1m56 11h1m20 0h1m49 4h1m517-21h1m-2186 40h1m12-12h1m95-5h1m42 17h1m81 4h1m297-22h1m-1 4h1m75 4h1m566 6h1m225 5h1m1-19h1m2 1h1m19 1h1m39 18h1m107-9h1m25-1h1m18-7h1m52 24h1m46-26h1m45 10h1m280 18h1m17-15h1m-2332 31h1m148 13h1m160-10h1m10-17h1m120 26h1m13-9h1m31-3h1m46 5h1m31 0h1m16-10h1m38-3h1m635 11h1m145-3h1m47 9h1m174-6h1m18-13h1m-1 0h1m12 2h1m4 20h1m3-7h1m121 0h1m7 4h1m55-2h1m178-13h1m16-1h1m-2012 50h1m135-26h1m5 24h1m227-6h1m7 6h1m28 0h1m1 2h1m27-17h1m63 9h1m1-8h1m15 6h1m2-13h1m24 12h1m136-16h1m33 5h1m2-5h1m7 12h1m54 2h1m9-13h1m214-1h1m355 17h1m33-11h1m2 8h1m201-9h1m23 12h1m23-13h1m12 9h1m63-11h1m18 20h1m18 3h1m89-5h1m75-2h1m171-1h1m64 3h1m485-6h1m-2537 22h1m95-5h1m131 14h1m185-6h1m93 11h1m937 7h1m201-16h1m46-4h1m12-2h1m36 12h1m100-10h1m48 17h1m24 3h1m574-1h1m-2548 4h1m13 5h1m33-5h1m54 6h1m284-1h1m22 13h1m301-16h1m85 14h1m537-1h1m3-15h1m107 17h1m74-10h1m4-1h1m84 13h1m44 1h1m258-20h1m16-1h1m3 1h1m20 19h1m36-8h1m185 5h1m-1951 42h1m71-3h1m60-23h1m153 22h1m12-20h1m80 1h1m217 12h1m488 10h1m77-3h1m15-16h1m40-1h1m80-5h1m212 22h1m2-3h1m25-20h1m4 25h1m116 0h1m37 2h1m29-1h1m44-21h1m27 0h1m237-1h1m35-3h1m-2423 55h1m79 0h1m100-14h1m6 13h1m20-12h1m5-10h1m159-1h1m78 17h1m117-3h1m24-16h1m51 17h1m8-15h1m97 7h1m141 10h1m154 6h1m232-1h1m83-17h1m105 13h1m37-12h1m23-1h1m7-4h1m6 13h1m69-18h1m35 16h1m38 10h1m7-24h1m231 23h1m72-9h1m-1954 19h1m30-4h1m75 26h1m37-13h1m18-13h1m16-1h1m6 4h1m139-3h1m35 4h1m26 7h1m44-5h1m245 22h1m148-12h1m0 7h1m39-24h1m351 21h1m125 2h1m27-6h1m149 10h1m45-25h1m288 1h1m4 23h1m273-5h1m209-19h1m-2757 51h1m514 0h1m160-7h1m22-15h1m97 25h1m2-9h1m209 10h1m23-6h1m105 6h1m31-23h1m416 10h1m65 12h1m98-21h1m152 7h1m116-9h1m103 7h1m33 3h1m13 10h1m150-3h1m144-18h1m120 3h1m23 21h1m125-14h1m121-5h1m-2604 26h1m23 23h1m278-4h1m292 6h1m16-15h1m140-7h1m13 19h1m92-13h1m2-4h1m3 7h1m89-5h1m518-4h1m116 5h1m11 6h1m43 3h1m30-6h1m89 8h1m199-21h1m30 3h1m15 15h1m0 4h1m10-5h1m15 11h1m3-5h1m-1 2h1m67-26h1m-1 4h1m1 6h1m33-7h1m61 23h1m21-22h1m88 25h1m-2421 17h1m3-3h1m211 10h1m12 3h1m40-8h1m171 0h1m30-17h1m92 4h1m951-3h1m52 23h1m4-15h1m99 5h1m22-11h1m29-4h1m35 18h1m69-3h1m129-5h1m2-5h1m4-4h1m10 0h1m37 28h1m18-10h1m36-7h1m3 14h1m27-26h1m9 2h1m57 2h1m110 22h1m62-14h1m17 3h1m-2264 32h1m294-5h1m64 10h1m2 4h1m35-5h1m8 8h1m10-6h1m2-4h1m11 4h1m7-15h1m202-6h1m131 19h1m6 2h1m70-22h1m437 12h1m168-2h1m6 7h1m175-10h1m9-2h1m33 17h1m24-10h1m58-6h1m71 13h1m16-8h1m61 10h1m1-21h1m4 26h1m129-22h1m74 8h1m38 10h1m21-19h1m37 5h1m46-7h1m-1873 32h1m20 17h1m9 7h1m0-8h1m119-14h1m43 3h1m64 13h1m53-15h1m4 15h1m136 7h1m267-12h1m355 5h1m207-15h1m3-6h1m8 12h1m19-1h1m39 14h1m156-13h1m79-13h1m10 21h1m13-21h1m138 3h1m64 26h1m85-8h1m-2255 19h1m342 12h1m39-20h1m23 3h1m119-2h1m500 6h1m529 11h1m18-8h1m3 15h1m76-24h1m2 25h1m88-24h1m50 14h1m59 6h1m9 0h1m78 1h1m6-11h1m21-6h1m28 19h1m30-17h1m8 13h1m24-9h1m47 1h1m13-14h1m166 15h1m59-2h1m-2401 35h1m271-1h1m102-4h1m448-11h1m621 22h1m83-8h1m5 5h1m112-10h1m91 13h1m5-4h1m20-10h1m54-11h1m4 2h1m12 15h1m48-10h1m26 7h1m8-7h1m43 15h1m7-15h1m0 20h1m20-23h1m15 1h1m34-3h1m9 25h1m1-11h1m2-10h1m26 8h1m10-1h1m8-6h1m-2112 30h1m125 3h1m96-4h1m148 5h1m4 17h1m173-19h1m72 14h1m67-6h1m860-7h1m55-2h1m154 14h1m144-8h1m5-4h1m12 18h1m41-26h1m9 7h1m38-8h1m44 1h1m0 15h1m2 4h1m11-19h1m210 23h1m1 0h1m-1608 24h1m1149-7h1m37 17h1m123-23h1m25 14h1m243 0h1m25-10h1m-2334 20h1m546 2h1m1239 1h1m98 26h1m6-23h1m48-4h1m74 18h1m31-15h1m159 11h1m9-9h1m116 17h1m-505 21h1m148-4h1m47 13h1m129-7h1m173-14h1m16 25h1m92-18h1m117 16h1m-2133 6h1m1504 6h1m27-3h1m4 20h1m31-20h1m115 22h1m117-5h1m221-10h1m-399 33h1m132 4h1m12-15h1m126 10h1m344 13h1m-572 16h1m-1709 40h1m213-4h1m437 100h1m856-14h1m178-3h1m366-9h1m7 5h1m-625 39h1m295 34h1m-209 20h1m-263 33h1m-1540 64h1m407 6h1m-319 167h1m2363 160h1" stroke="#1a9cc0" stroke-width="13"/>
<path d="M825 256h1m75-7h1m336 18h1m40-23h1m3-3h1m4 23h1m76-15h1m392 6h1m40 6h1m82-8h1m5 11h1m87-7h1m65 10h1m56-15h1m-979 26h1m150 15h1m96-21h1m73 19h1m86-19h1m-1 22h1m0-17h1m188 19h1m37-10h1m94-8h1m34-5h1m26 15h1m91-11h1m60 7h1m-1312 29h1m528-8h1m184 22h1m39-26h1m229 24h1m3-3h1m8-2h1m12 5h1m15-13h1m89 0h1m96 12h1m186-5h1m74 1h1m151-12h1m-1007 45h1m349-16h1m39 15h1m17-10h1m5 14h1m85-7h1m1 8h1m78-27h1m-666 36h1m45 22h1m29-3h1m378 2h1m411-10h1m58-5h1m-969 29h1m8-3h1m77-6h1m6 14h1m141 3h1m722 4h1m59 2h1m218-9h1m-1954 32h1m777 3h1m24-21h1m70 18h1m104 7h1m2-20h1m6 1h1m9-6h1m174 19h1m79-19h1m4 17h1m53 8h1m83-21h1m71 14h1m23-7h1m-749 38h1m200-1h1m8-6h1m34-1h1m220 11h1m0 4h1m10-1h1m28 1h1m155-19h1m-1314 36h1m424 2h1m665 5h1m1-4h1m232-12h1m16 24h1m101-14h1m100-10h1m-1097 51h1m302-18h1m331 14h1m19-1h1m39-10h1m144 1h1m122 13h1m209-24h1m-1182 59h1m242-26h1m100 25h1m114-15h1m1-11h1m195 7h1m267-4h1m6 0h1m4 4h1m2 9h1m15-16h1m48 11h1m118-4h1m-987 45h1m12 4h1m6 0h1m5-28h1m68 3h1m25-1h1m43 15h1m343 1h1m1 1h1m1-14h1m28 10h1m9 2h1m71 2h1m21-2h1m120 9h1m403-2h1m98-16h1m-1268 41h1m39-7h1m502-5h1m5 2h1m65 20h1m63-22h1m63 7h1m308 13h1m-1219 28h1m171-15h1m264 7h1m229 4h1m145-18h1m52 7h1m102-7h1m163 20h1m-1036 25h1m23 1h1m40-15h1m136 19h1m144-15h1m36-2h1m216 19h1m87-19h1m16 11h1m67-12h1m32 24h1m9-29h1m4 6h1m47 10h1m11-11h1m-708 28h1m478 3h1m49-6h1m44 28h1m72-15h1m31 12h1m100-10h1m8-2h1m-1143 31h1m247 2h1m295-8h1m0 18h1m21-13h1m16-7h1m279 11h1m134-12h1m98 19h1m32-6h1m29 0h1m-1071 16h1m65 11h1m534 1h1m180 10h1m15-26h1m71 27h1m208-1h1m0 3h1m3-23h1m-1008 31h1m46 10h1m169 0h1m188 10h1m484-12h1m213 3h1m-1164 38h1m5 1h1m83-3h1m19-9h1m390 11h1m483-26h1m-1 22h1m6 6h1m36-15h1m288-1h1m26 14h1m-1301 33h1m942-28h1m83 2h1m7 5h1m130 12h1m-1085 11h1m156 7h1m961 16h1m-261 25h1m233 28h1m-1321 79h1m331 1h1" stroke="#2cc8d0" stroke-width="13"/>
<path d="M765 251h1m155-7h1m1 11h1m5 12h1m35 1h1m75-19h1m228 7h1m177 2h1m17 0h1m270 4h1m52-20h1m298 18h1m105-13h1m42 4h1m120 4h1m48 1h1m23-8h1m247 14h1m327-20h1m-2458 34h1m1 20h1m52-16h1m69 18h1m55-4h1m9-16h1m67 9h1m112 3h1m202-2h1m107 4h1m5 5h1m31-6h1m76-19h1m185 6h1m661 7h1m24 5h1m36 1h1m125-5h1m139-10h1m-1786 39h1m153 14h1m46-29h1m8 24h1m33-16h1m13-3h1m113 10h1m277 14h1m6-26h1m123-3h1m289 27h1m48-11h1m91 13h1m122-26h1m153 7h1m14-5h1m11 13h1m5 6h1m7-4h1m1-18h1m0 18h1m14-11h1m41 4h1m22 4h1m79-8h1m13 12h1m93 0h1m275-20h1m-2201 29h1m118 1h1m196 23h1m1-13h1m205 12h1m25-9h1m15 14h1m33-6h1m55 3h1m6-10h1m55 10h1m49 3h1m18-9h1m62-16h1m775 19h1m13 3h1m23-8h1m14 9h1m69-15h1m24-5h1m160-1h1m-1910 38h1m21 15h1m270-4h1m9-7h1m281-1h1m45 1h1m210-7h1m0 17h1m560-13h1m107 14h1m167-12h1m10 4h1m8-2h1m112 6h1m83-19h1m-2055 31h1m208-1h1m14 13h1m39 7h1m2-5h1m7 7h1m26-2h1m169-16h1m80 5h1m221-13h1m778 13h1m56 15h1m1-12h1m8-4h1m26-12h1m8 9h1m85 18h1m57-27h1m13 20h1m32 2h1m2-17h1m17 13h1m14-3h1m103 13h1m8-19h1m63 10h1m18 6h1m198-25h1m-1911 48h1m37 0h1m107-9h1m77-8h1m172 7h1m16-4h1m176 24h1m291-25h1m282 13h1m36 7h1m16-14h1m72-7h1m36 19h1m233 5h1m39-4h1m6-10h1m23 1h1m15-14h1m15 12h1m20 6h1m60 7h1m267-15h1m-2383 28h1m150 5h1m11 6h1m242-17h1m101 6h1m42 2h1m8 2h1m40 13h1m93-21h1m40 0h1m487 20h1m145-23h1m150 0h1m112 8h1m84 19h1m3-24h1m52 13h1m111 12h1m10-23h1m34 3h1m35 11h1m42 7h1m29-21h1m420-5h1m-2298 40h1m176-2h1m98 2h1m29-8h1m8 23h1m107-24h1m820 15h1m69-6h1m276 10h1m74-20h1m85 24h1m30-2h1m77-12h1m26 16h1m0-11h1m91 11h1m3 1h1m33-12h1m3 10h1m47-20h1m14 19h1m-2191 5h1m65 7h1m34-3h1m1 24h1m502 1h1m64-11h1m19 5h1m118-4h1m16 9h1m22-2h1m130 3h1m366-28h1m68 17h1m86-8h1m2-2h1m54-2h1m57 8h1m89 11h1m77-18h1m7-5h1m8 25h1m6-4h1m77-22h1m59 8h1m13 2h1m12-6h1m-1 5h1m14 1h1m85-4h1m-2087 44h1m177-9h1m70-5h1m106 6h1m18-13h1m64 20h1m249-8h1m76 15h1m693-5h1m109 2h1m36-5h1m382-7h1m50-6h1m408 0h1m-2644 42h1m196-7h1m10 13h1m7-16h1m146 6h1m40-1h1m76 12h1m8-8h1m39-15h1m30 12h1m180 11h1m105-13h1m11 12h1m53-22h1m66-2h1m19 12h1m148 0h1m6-3h1m23 19h1m453 1h1m133-19h1m3 6h1m9-13h1m9 2h1m200 10h1m49 14h1m22-19h1m29 17h1m216-18h1m3 6h1m-2097 32h1m102 5h1m34-8h1m108 7h1m43 1h1m54-11h1m107 13h1m185-22h1m60 11h1m457 6h1m53-5h1m5 6h1m318-13h1m323 6h1m90 10h1m-2008 30h1m73-14h1m3 5h1m201-4h1m60 16h1m51-19h1m1-6h1m91 24h1m259-5h1m507 7h1m262-22h1m3 20h1m91-21h1m149 21h1m10-24h1m92 0h1m42 12h1m12-7h1m0 2h1m22 18h1m81 3h1m100-25h1m44-3h1m48 16h1m21-11h1m100 6h1m3-5h1m36 3h1m49 1h1m-2449 38h1m33-3h1m258-8h1m3 6h1m86 4h1m55-17h1m72 7h1m9-6h1m313 10h1m440 14h1m126-20h1m65 15h1m58-1h1m50-8h1m180 15h1m107-9h1m49 6h1m58-6h1m4-3h1m82 13h1m120-11h1m5-16h1m-2085 58h1m430-16h1m86 15h1m100-16h1m561-8h1m249 10h1m8-5h1m59-1h1m10 4h1m105-10h1m75 3h1m77 10h1m33-14h1m114 19h1m1 9h1m66-23h1m117 1h1m0 1h1m-2111 32h1m83 17h1m40-4h1m7-14h1m24-5h1m22 18h1m4-7h1m21-2h1m6-8h1m218 22h1m66-12h1m40 1h1m145-13h1m579 17h1m37-9h1m4 17h1m112-4h1m71-1h1m9-9h1m14-9h1m88 0h1m72 12h1m2-5h1m47 13h1m124-6h1m2 4h1m5 4h1m15-18h1m48 8h1m131 1h1m272-17h1m-2593 38h1m386 10h1m23-8h1m34 6h1m25-2h1m164 9h1m142-4h1m115 4h1m800-8h1m21 12h1m14-13h1m19 6h1m426-7h1m1-13h1m2 2h1m22 23h1m56 3h1m87-9h1m91-1h1m-2229 11h1m106 28h1m282-5h1m5 2h1m159-20h1m852 23h1m22 1h1m104-18h1m0 2h1m29 7h1m25-18h1m77 10h1m1 12h1m15-2h1m11-21h1m53 27h1m68-11h1m54-7h1m4 1h1m108 2h1m28-7h1m168-3h1m113 7h1m59-5h1m99 23h1m-2285 14h1m53-11h1m156 26h1m28 0h1m135-1h1m52-13h1m783-4h1m159-1h1m39 6h1m11 3h1m18 8h1m32-24h1m10 28h1m44-21h1m5 14h1m114 7h1m44-4h1m19-19h1m19 19h1m194-7h1m-2175 25h1m148-4h1m116-9h1m6 27h1m141-21h1m22 7h1m44 1h1m919 2h1m133-9h1m30-5h1m3 2h1m53 15h1m7-13h1m10 3h1m82 11h1m6-14h1m26 8h1m66 11h1m3-13h1m79 1h1m16-6h1m15-3h1m4 3h1m5 11h1m156 10h1m70 1h1m107-21h1m-2154 47h1m80-24h1m9 27h1m320-22h1m216 2h1m917-4h1m74-1h1m15 16h1m23-5h1m26 12h1m7-18h1m31 14h1m5-20h1m29 25h1m12-1h1m31-22h1m46 7h1m138 7h1m33-13h1m146 23h1m16-24h1m-2381 47h1m141-13h1m1750 13h1m132 5h1m61-16h1m-2134 26h1m204 1h1m1811 7h1m113 14h1m14 0h1m1-25h1m133 16h1m-2188 19h1m1418-4h1m378 0h1m137 4h1m107 14h1m15-21h1m14-1h1m108 28h1m110-3h1m217-22h1m-704 41h1m202 5h1m-2145 40h1m17-11h1m38-3h1m1904 3h1m173-12h1m-2166 32h1m1760 5h1m419-7h1m-2199 32h1m358 27h1m2034 9h1m20 2h1m-2025 40h1m2394 14h1m-166 28h1m-184 28h1m161 77h1m-2009 9h1m2056 43h1m-158 19h1m-448 66h1m-1616 69h1m2093-8h1" stroke="#28c0c0" stroke-width="13"/>
<path d="M868 257h1m69-13h1m19 3h1m73 18h1m14-15h1m114 3h1m135-13h1m73 17h1m11 7h1m1 2h1m22 1h1m431-22h1m10 7h1m8-9h1m43 16h1m417-10h1m47-6h1m51 17h1m2-16h1m2-4h1m-1832 55h1m24-25h1m10 22h1m40-13h1m116 17h1m68-3h1m24-12h1m77-4h1m10 9h1m42-7h1m146-3h1m64 3h1m148 16h1m360 4h1m42-5h1m91 0h1m90-22h1m12 22h1m59-5h1m38-11h1m45 4h1m64 2h1m42 15h1m42-18h1m66 17h1m29-6h1m5-20h1m-1980 51h1m11-17h1m50 14h1m335-4h1m1 5h1m12-10h1m137 5h1m14-16h1m128 15h1m17-5h1m20 13h1m134 6h1m83-7h1m27-21h1m154 27h1m268-10h1m52 6h1m6-4h1m360-1h1m38-9h1m19-10h1m79 13h1m48-11h1m136 23h1m11-15h1m179 11h1m416-4h1m-2589 37h1m6 5h1m45-10h1m70-8h1m49 4h1m62-6h1m237-8h1m34 22h1m318 6h1m137-8h1m217-1h1m48 6h1m275-16h1m26 2h1m129-4h1m22-7h1m17 11h1m24-2h1m32-1h1m1 19h1m55-22h1m46 20h1m66-5h1m208-1h1m12-9h1m32 5h1m-2003 36h1m271-8h1m77 15h1m170-18h1m174 7h1m498 10h1m190-21h1m17 1h1m215-3h1m106 7h1m65 11h1m-1819 26h1m184-17h1m38-1h1m25 12h1m214-1h1m11 0h1m98 17h1m487-12h1m100 0h1m4-12h1m44 4h1m9-9h1m75 29h1m70-15h1m38 6h1m69-7h1m3-10h1m4-1h1m104-1h1m8 1h1m11 4h1m5 18h1m28-5h1m4-7h1m42 15h1m15-2h1m35 1h1m21-16h1m428 17h1m29-26h1m-2219 33h1m87 3h1m63 17h1m59-10h1m144-14h1m63 27h1m105-10h1m199 9h1m4-25h1m570 17h1m68 11h1m18-23h1m53 3h1m32 14h1m24 6h1m7-7h1m6-15h1m107 17h1m13-23h1m16 21h1m129-5h1m45 7h1m-1925 23h1m112 5h1m134 7h1m113-21h1m16 20h1m19-18h1m96 14h1m13-22h1m14 7h1m35 7h1m2 10h1m54-21h1m22 21h1m67-9h1m104-6h1m282 14h1m237-1h1m85 1h1m30-17h1m19 1h1m-1 19h1m5-7h1m19-15h1m144-5h1m28 6h1m79 20h1m357-16h1m173 9h1m-2679 32h1m188-17h1m447-5h1m4 6h1m140-4h1m2 12h1m49-14h1m10 23h1m104-13h1m114 17h1m469-25h1m112 12h1m95 12h1m46-16h1m191 2h1m86 7h1m44 3h1m17-15h1m26 2h1m6 7h1m9-2h1m102 15h1m3-20h1m27-7h1m6 20h1m4-3h1m25-16h1m306 25h1m-2328 14h1m89 0h1m109 8h1m4-20h1m-1 10h1m124 13h1m63 3h1m40 0h1m198-24h1m8 10h1m120 4h1m593-2h1m153 0h1m85-11h1m12 18h1m75-12h1m119-9h1m23 5h1m84 11h1m12-3h1m11 3h1m3-1h1m117 14h1m2-22h1m30 6h1m-2218 29h1m219 3h1m136-2h1m52 9h1m1-3h1m117-6h1m173 9h1m21-15h1m128-1h1m15-6h1m27 5h1m553 5h1m49 3h1m8 4h1m2-17h1m30 12h1m31 14h1m99-12h1m377-12h1m-1963 51h1m55-16h1m65 17h1m20-3h1m16-16h1m297-1h1m7 5h1m162 0h1m3-5h1m113 15h1m401-14h1m193 0h1m72-3h1m110 22h1m471 5h1m362-26h1m-2366 30h1m167 16h1m54-19h1m40 26h1m64-11h1m12-14h1m247 10h1m56 18h1m296-28h1m277 8h1m54-8h1m89 20h1m14 4h1m511-25h1m67 17h1m16-13h1m65 15h1m-2074 24h1m42 7h1m29-20h1m187 25h1m24-21h1m534 7h1m547-7h1m90 23h1m18-17h1m262 11h1m92-2h1m22-7h1m49 8h1m181 0h1m288 8h1m-2323 30h1m388-18h1m39-4h1m269-4h1m524 20h1m124-20h1m202 26h1m58-3h1m200-4h1m23-21h1m-1976 46h1m132 8h1m138-16h1m9-1h1m23 9h1m274-16h1m88 28h1m767 1h1m50-21h1m70 2h1m19 8h1m65-18h1m43 29h1m15-22h1m92 17h1m27 3h1m31-8h1m8-14h1m102-5h1m32 15h1m108-11h1m5 23h1m29-6h1m12-16h1m-2058 30h1m202 11h1m61 4h1m161-8h1m211 17h1m9-3h1m803-10h1m2 5h1m93 5h1m7-4h1m8 2h1m124-22h1m50-2h1m173 11h1m53 8h1m1-16h1m71 7h1m39-8h1m41 15h1m72 2h1m19-6h1m-2580 18h1m308 26h1m17-18h1m89-6h1m90 19h1m71 3h1m6-11h1m17-1h1m9 5h1m60-17h1m21 19h1m69-11h1m85-9h1m53 13h1m33 12h1m55-25h1m67 2h1m737 16h1m88 7h1m22-24h1m8 11h1m35-10h1m109 5h1m53 13h1m62-8h1m7-4h1m134-6h1m30 9h1m41 12h1m17 1h1m104-8h1m121-3h1m1 9h1m144-10h1m-2383 39h1m109-13h1m257 7h1m94 9h1m38-20h1m19 19h1m1 0h1m55-8h1m106 3h1m450-15h1m296 16h1m48-10h1m138 7h1m8 13h1m98-19h1m11 8h1m121 4h1m2-1h1m28 0h1m5 7h1m0-6h1m32-15h1m19 12h1m56-5h1m35 4h1m-2194 19h1m196 20h1m18-14h1m39-2h1m60-5h1m17 8h1m14-11h1m102 22h1m129-18h1m116 18h1m777-2h1m234-3h1m16-8h1m73-8h1m36 16h1m9-1h1m12-18h1m97 26h1m27 2h1m13-8h1m2-16h1m21 20h1m17 1h1m4-14h1m-2346 36h1m412-18h1m1 6h1m342 4h1m1042 1h1m186-3h1m96-5h1m107-3h1m6 5h1m2 10h1m24-5h1m70 18h1m5-24h1m38 0h1m177 11h1m20 11h1m196-15h1m-2547 27h1m1727 13h1m100-14h1m49 0h1m70 3h1m13-5h1m65 15h1m4 7h1m0-17h1m46 15h1m16-21h1m11 5h1m4-3h1m220-4h1m7 3h1m3-2h1m13-3h1m71 17h1m-1892 28h1m32 2h1m1203-16h1m162 22h1m49-14h1m52 2h1m358 1h1m22 14h1m-2194 20h1m1521-8h1m153-7h1m81 8h1m6-7h1m157 8h1m48-8h1m180 12h1m-2094 30h1m401 7h1m1361-20h1m29 12h1m224 0h1m29 0h1m-917 31h1m282-8h1m459 5h1m16 13h1m137-14h1m10 13h1m0-23h1m1 0h1m1 22h1m142-16h1m-624 38h1m-1106 27h1m1015-10h1m149 32h1m0-1h1m287 2h1m322 13h1m124-13h1m-2930 80h1m868-20h1m-637 63h1m2048 2h1m345 19h1m146 60h1m-1937 3h1m1945 128h1m53 129h1m-158 38h1m136 49h1" stroke="#1c94c0" stroke-width="13"/>
<path d="M938 248h1m467 3h1m20 4h1m59 11h1m49-8h1m228-8h1m53-4h1m11 8h1m40 5h1m161-14h1m176 0h1m14 10h1m19-5h1m90 7h1m-1211 35h1m122-20h1m4 11h1m5 12h1m38-16h1m51 4h1m26 11h1m134-22h1m283 6h1m18-7h1m4 16h1m62 11h1m199 0h1m14-17h1m118-4h1m111 17h1m-1111 16h1m234-1h1m46 6h1m218-13h1m1 1h1m191-3h1m83 5h1m263 10h1m-1146 25h1m145-5h1m90 11h1m96-9h1m11 2h1m18 14h1m287-13h1m182-1h1m4 7h1m116-11h1m183 15h1m450-12h1m-1458 25h1m64 2h1m5-5h1m110 16h1m567 6h1m162 0h1m22-19h1m61-1h1m21 18h1m7-17h1m68 19h1m-1612 28h1m265-11h1m225-7h1m275 25h1m1-1h1m201-13h1m42 7h1m383-8h1m-891 27h1m62 5h1m216-9h1m5-1h1m185 24h1m32 0h1m21-14h1m65-2h1m7-8h1m163 7h1m218-6h1m-1249 28h1m73 5h1m0 10h1m402-11h1m49 9h1m21-4h1m341 8h1m127-3h1m15-6h1m71-3h1m-1081 24h1m146 1h1m163 5h1m69 11h1m493-10h1m62 5h1m5 0h1m135 15h1m163-1h1m39-21h1m24-5h1m20 4h1m-1334 37h1m103 16h1m220-12h1m32-4h1m150-1h1m253 6h1m25-16h1m143 7h1m12 9h1m273-5h1m410 1h1m-1389 26h1m76 13h1m66-7h1m17-7h1m93 5h1m230-6h1m126 3h1m254 9h1m71-5h1m-1471 30h1m336-15h1m145 2h1m19 9h1m15 12h1m11-2h1m37 5h1m62-13h1m157-5h1m217 15h1m228-5h1m-852 19h1m176 0h1m86-1h1m119 20h1m27-21h1m9 12h1m178-3h1m6 12h1m46-23h1m124 4h1m66 9h1m144 6h1m-1424 18h1m138 4h1m336 7h1m169-8h1m57-12h1m92 4h1m18 21h1m281-21h1m12 22h1m67-25h1m38 2h1m348 10h1m-1158 17h1m63 25h1m142-22h1m222 9h1m250-13h1m6 4h1m3 19h1m25-15h1m21 10h1m110-18h1m105 24h1m106 1h1m165-16h1m10 13h1m61-11h1m-1433 45h1m406-22h1m371 5h1m64-9h1m-1 12h1m3-3h1m34 16h1m51 2h1m48-14h1m3-13h1m156 10h1m39-4h1m217 13h1m-1196 12h1m25 20h1m4-1h1m224-15h1m144-1h1m336 16h1m1-12h1m39 4h1m19-7h1m80 17h1m138-9h1m245 16h1m-1453 25h1m1111 4h1m95-4h1m-425 15h1m119-6h1m149 6h1m183-7h1m52 27h1m-1688 18h1m726-14h1m176 21h1m636-18h1m205-4h1m9 21h1m6-21h1m-1234 39h1m9 4h1m746-15h1m294 18h1m26-18h1m14 7h1m-1077 50h1m-59 56h1m939-16h1m-1 51h1m504 5h1m-545 55h1m191 179h1" stroke="#30d0a8" stroke-width="13"/>
<path d="M522 250h1m215 11h1m7-7h1m84 5h1m185-15h1m11 10h1m120 14h1m5-15h1m586-9h1m5-1h1m15 3h1m108 13h1m15-10h1m126 7h1m23-8h1m18 18h1m42-14h1m60-4h1m26 20h1m18-12h1m192-6h1m29 3h1m-1621 19h1m89 6h1m3-5h1m17 10h1m13 4h1m42 7h1m0-4h1m131 0h1m109-13h1m25 19h1m68 3h1m49-15h1m55 4h1m88-3h1m4 1h1m311-15h1m60 5h1m10 13h1m112-7h1m1 6h1m48-9h1m19 6h1m104 0h1m22 14h1m44-23h1m408 3h1m117 17h1m-2316 11h1m223 21h1m44 0h1m69-27h1m0 16h1m84-15h1m17 24h1m187 2h1m159-6h1m130-7h1m444-5h1m59-2h1m16 10h1m54-5h1m14 5h1m15 3h1m260-14h1m30 4h1m28 13h1m10-9h1m365-4h1m-2109 45h1m224 3h1m457-20h1m29 2h1m96 10h1m27-7h1m537-9h1m188 3h1m60 6h1m33 6h1m35 6h1m31-20h1m7 17h1m5-17h1m1 23h1m48-25h1m30 11h1m5 0h1m75 12h1m27-2h1m-1814 33h1m60-23h1m30 22h1m38-6h1m69-7h1m105 11h1m21-15h1m195 6h1m59 4h1m231-13h1m235 4h1m15 13h1m68-23h1m108 4h1m149 23h1m14-13h1m82 5h1m60 5h1m21-2h1m15-7h1m433-3h1m-2046 41h1m103-8h1m59 10h1m88-26h1m2 22h1m3 1h1m1139-16h1m59 11h1m9 0h1m5 1h1m26-15h1m37 5h1m77-9h1m44 2h1m25-2h1m2 11h1m15 1h1m33-1h1m55 1h1m18 8h1m13-12h1m19 6h1m-1864 35h1m176 4h1m28 5h1m4-2h1m69-11h1m13-8h1m1 17h1m1-17h1m34 7h1m16-7h1m44 12h1m117-8h1m11 9h1m78-7h1m593-12h1m296 22h1m11-16h1m18 17h1m63 1h1m41-25h1m17 21h1m3 4h1m0 3h1m80-11h1m36 2h1m1-19h1m29 10h1m-2130 40h1m326-19h1m275 18h1m51-8h1m10 6h1m6 8h1m2-15h1m24 4h1m162-6h1m10 9h1m664-6h1m163 12h1m62-23h1m167 26h1m44-22h1m25 13h1m6 4h1m51-21h1m17 3h1m3 5h1m0 1h1m33-2h1m589 10h1m-2505 29h1m7 2h1m59 3h1m178-20h1m235 11h1m16 3h1m30-13h1m684 13h1m499-10h1m57 9h1m47 13h1m3-13h1m63-9h1m62 12h1m-1802 33h1m23-19h1m177 19h1m30 5h1m1 0h1m6-16h1m111 0h1m57 14h1m89-8h1m0-2h1m11 8h1m139-11h1m895 12h1m153-3h1m86-17h1m43 5h1m5 9h1m38-12h1m-2232 55h1m79-25h1m208 24h1m28-11h1m43 6h1m339 4h1m12-15h1m10 14h1m3-5h1m278-17h1m356 1h1m125 23h1m143-14h1m3 4h1m168-4h1m178-14h1m-1 18h1m400 4h1m-2461 33h1m310-2h1m44-5h1m429 6h1m111-21h1m1 4h1m48 18h1m80-24h1m24 19h1m352-5h1m9 9h1m43-4h1m80 3h1m3-4h1m43-5h1m213-12h1m82 9h1m65-10h1m124 3h1m39 12h1m44-13h1m97 16h1m-1994 29h1m129 2h1m146-4h1m490 2h1m765 5h1m26-10h1m116 15h1m57-2h1m137-1h1m233-21h1m-2106 35h1m10 2h1m12 9h1m86 9h1m174-13h1m35-4h1m132 14h1m122 0h1m114-8h1m64 9h1m60-8h1m524-9h1m93 11h1m98-19h1m103-2h1m24 5h1m52 2h1m141-4h1m58 12h1m5 6h1m13-8h1m5-10h1m130 14h1m4 5h1m73-8h1m-2370 17h1m174 13h1m34-12h1m40 6h1m92 9h1m56 11h1m135-27h1m236 15h1m49-15h1m113 15h1m67-11h1m582 23h1m11-11h1m98 6h1m11-13h1m53 19h1m30-7h1m120-5h1m144-5h1m9-12h1m76 25h1m116-7h1m12 10h1m97-7h1m-2251 34h1m2-12h1m10-13h1m261 6h1m686 0h1m541 12h1m107-9h1m2-9h1m11 4h1m17 4h1m88 4h1m34-1h1m56 3h1m155 14h1m153-25h1m9 15h1m27 3h1m-2288 22h1m362-9h1m19-1h1m41 19h1m273-9h1m68-3h1m697-9h1m12 18h1m75 1h1m174-10h1m160-3h1m8-2h1m76 21h1m7-24h1m55 22h1m48-2h1m32-22h1m240 2h1m42 2h1m-2420 49h1m202 5h1m201 0h1m5-24h1m9 6h1m6 2h1m18-1h1m20 8h1m133-6h1m113-9h1m38 17h1m11-14h1m137 10h1m880-13h1m66 19h1m13-5h1m102-18h1m62 15h1m150-13h1m67 5h1m104 0h1m59 13h1m-2244 31h1m172-21h1m78 8h1m201 13h1m19-11h1m104-3h1m850 2h1m60 2h1m55 4h1m88-3h1m1 15h1m148-14h1m4 11h1m4-20h1m5 6h1m72-4h1m146 23h1m55-27h1m4 10h1m10-4h1m25 8h1m0-6h1m22 19h1m-2143 28h1m98-19h1m69 4h1m31 4h1m50 6h1m32-2h1m3-16h1m157 4h1m41 15h1m9-9h1m982 9h1m28-11h1m63 15h1m92 0h1m7-26h1m54 12h1m56-9h1m3 13h1m22-10h1m-1 21h1m73-20h1m0-7h1m26 5h1m4 8h1m14 15h1m8-29h1m37 28h1m21-1h1m258 1h1m-2343 28h1m226-2h1m232-13h1m157-7h1m70 5h1m1022-8h1m61 26h1m12-4h1m4 6h1m10-25h1m16 19h1m49-14h1m10 9h1m115 3h1m7-16h1m-1 5h1m19 4h1m15 5h1m46 8h1m50-4h1m192-15h1m-2262 25h1m79 11h1m28-4h1m172-3h1m185 10h1m227-16h1m874 13h1m116 2h1m28-8h1m11 14h1m29-12h1m0 16h1m167-7h1m40 2h1m2 7h1m214-23h1m-2438 27h1m522 17h1m325-10h1m821-3h1m336-2h1m32 24h1m24-20h1m31 7h1m62-13h1m6 24h1m13-23h1m116 22h1m201 1h1m-2185 5h1m103 2h1m161 14h1m1390 8h1m315-8h1m154 9h1m27-11h1m29-7h1m-524 29h1m162 10h1m115-5h1m210 5h1m-1989 21h1m1715-8h1m21 29h1m583-21h1m-2783 23h1m495 19h1m1511-15h1m-1724 44h1m-157 20h1m2504 7h1m-368 24h1m51 9h1m-1844 51h1m1816 4h1m-34 39h1m-1863 16h1m1260-8h1m916 58h1m-2141 13h1m2275 47h1m-173 42h1m-2342 76h1m2399 21h1m-434 140h1" stroke="#1c9cc8" stroke-width="13"/>
<path d="M1024 248h1m180 4h1m9-11h1m70 25h1m84-15h1m56 14h1m79 0h1m256-6h1m3 8h1m59 2h1m1-22h1m325-2h1m-1305 30h1m387 23h1m0-2h1m100-3h1m24-14h1m60-4h1m2 22h1m79 0h1m11-13h1m335 0h1m47-10h1m4-2h1m27 15h1m43-7h1m6-8h1m85 24h1m-1185 16h1m110 5h1m338-5h1m8 9h1m88-13h1m26 5h1m362 14h1m10-17h1m39-10h1m44 6h1m7 16h1m55-12h1m115-10h1m130 6h1m-747 33h1m7 13h1m22-22h1m343 9h1m57-2h1m-891 45h1m91-10h1m14 10h1m248 7h1m340-7h1m33-22h1m14 24h1m29-12h1m127-12h1m75 11h1m-1025 46h1m99-11h1m173 6h1m15-4h1m77-2h1m385-3h1m105-8h1m42 14h1m43-11h1m130 4h1m141-10h1m105 0h1m43 4h1m-1396 43h1m12-11h1m284 15h1m15-23h1m231 8h1m20-7h1m250 12h1m13 4h1m42-13h1m24 3h1m15-3h1m78 9h1m117-5h1m12 21h1m-813 13h1m130 14h1m118-23h1m195 22h1m7-25h1m12 2h1m19 18h1m87-19h1m3 8h1m132 19h1m165-19h1m-1301 27h1m153 20h1m3-9h1m57 0h1m28 11h1m616-21h1m17 2h1m143 13h1m119-7h1m-900 27h1m116 0h1m5 14h1m3-1h1m118-13h1m1-1h1m4 17h1m177-7h1m206-14h1m84 22h1m177-24h1m6 3h1m40 11h1m58-9h1m139 7h1m-1326 26h1m104 16h1m20-5h1m94-17h1m-1 1h1m98 0h1m97 9h1m188 5h1m181-21h1m376 3h1m104 8h1m68 16h1m-1507 24h1m520-20h1m235 16h1m229 8h1m10-25h1m156 25h1m30-11h1m78-12h1m36 1h1m137 5h1m-917 44h1m166 2h1m63 4h1m212-25h1m376 5h1m15 19h1m423 0h1m-1564 12h1m339 7h1m98 8h1m27-9h1m7-13h1m55 22h1m12-9h1m187 9h1m17-8h1m142-16h1m79 24h1m215-19h1m123 22h1m-1146 10h1m128 9h1m84-4h1m39 7h1m124-7h1m185-4h1m61-8h1m15 11h1m61 11h1m19-3h1m69 2h1m110-12h1m39-1h1m330 19h1m23-27h1m-1581 47h1m478-18h1m768 10h1m25 14h1m137-9h1m-915 29h1m28 12h1m130 3h1m32-24h1m260 3h1m26 12h1m45-20h1m35 18h1m33 8h1m46-25h1m13 3h1m73 8h1m8-12h1m51 29h1m281-21h1m-1660 30h1m207 16h1m16-1h1m526-17h1m323 14h1m157-14h1m77 12h1m131-1h1m-435 30h1m338 7h1m90 1h1m257-8h1m-1542 35h1m990-18h1m21 23h1m97 10h1m18 18h1m30-23h1m10 3h1m231 26h1m-234 65h1m-1181 52h1m543 27h1m906 55h1" stroke="#1ca4c8" stroke-width="13"/>
<path d="M1033 243h1m81 19h1m167-12h1m427 19h1m10-11h1m60 6h1m3-12h1m82-6h1m11 13h1m286 9h1m4-11h1m-1208 37h1m343 2h1m15-10h1m34 9h1m397-16h1m7 19h1m30-23h1m18 9h1m82 4h1m74 9h1m13-8h1m225-2h1m-865 25h1m58 7h1m57 8h1m51-5h1m9-15h1m184-2h1m11 5h1m11-4h1m3 14h1m33 3h1m9-6h1m21-15h1m80 22h1m29-16h1m-1 3h1m30-2h1m2 12h1m23-3h1m427 10h1m-1237 11h1m212 18h1m85-5h1m264-4h1m8-16h1m19 25h1m16-26h1m68 15h1m116 0h1m2-9h1m298 0h1m8 11h1m-1153 26h1m176-7h1m34 20h1m191-16h1m206-9h1m18 27h1m36-9h1m167 1h1m48 3h1m40-19h1m-1093 43h1m7 9h1m63-21h1m499 21h1m204-8h1m47 5h1m73 0h1m19-21h1m33 20h1m97-6h1m17 9h1m155-12h1m214-9h1m-1689 33h1m364 11h1m47 9h1m152-13h1m30 11h1m165-25h1m10 15h1m43 3h1m188-2h1m29-4h1m1-11h1m54 1h1m68 23h1m129-2h1m99-14h1m-1089 46h1m223-19h1m8 15h1m50-6h1m12-13h1m150 22h1m45-10h1m24-10h1m213 14h1m13-10h1m26 12h1m53 0h1m20-4h1m105-11h1m-800 25h1m110 8h1m169-3h1m258 0h1m45 12h1m251 3h1m-1030 20h1m407-8h1m0 10h1m133 13h1m205-15h1m257 11h1m-930 31h1m44-9h1m125-12h1m37 0h1m15 13h1m64 9h1m166-6h1m208-2h1m9-4h1m7 12h1m158-3h1m-803 19h1m18 12h1m205-9h1m13 15h1m163-18h1m5 19h1m-401 1h1m26 21h1m70-4h1m169-10h1m-1 5h1m377-1h1m2 5h1m8 4h1m21 4h1m15-5h1m29-13h1m7 13h1m54 5h1m30-1h1m-731 27h1m99-20h1m18 22h1m76 6h1m35-27h1m7 8h1m30 1h1m4-6h1m13 1h1m303 15h1m138 0h1m6-15h1m502-1h1m99 19h1m-1303 29h1m42-21h1m86 10h1m104 1h1m27-6h1m221 1h1m44-6h1m32 18h1m3-19h1m39 14h1m13-5h1m36-1h1m78 15h1m9-19h1m30 12h1m374-13h1m-517 46h1m85-3h1m28 3h1m22-18h1m29 28h1m58-1h1m26-16h1m31 10h1m133-15h1m252 11h1m-1608 12h1m137 22h1m26-17h1m131 11h1m139-11h1m236 9h1m236 1h1m121-8h1m1 5h1m7 12h1m43 5h1m328-20h1m-1567 21h1m410 13h1m262 5h1m231-15h1m167 0h1m20 16h1m119-3h1m37 10h1m99-4h1m-121 9h1m-1 17h1m203 6h1m-420 14h1m317-3h1m12 0h1m167 2h1m-9 49h1m69-8h1m154 7h1m-352 25h1m19-19h1m25 0h1m61 13h1m62 2h1m142 2h1m-1451 13h1m988 20h1m54-14h1m138 21h1m-700 20h1m661 56h1m350 11h1m-941 41h1m723 139h1" stroke="#28c4dc" stroke-width="13"/>
<path d="M923 255h1m197-14h1m137 13h1m15-4h1m6 1h1m6-10h1m137 18h1m60-14h1m232 5h1m28-7h1m64 19h1m8-1h1m196-16h1m36-2h1m79 7h1m27-4h1m245 22h1m-1606 15h1m457 9h1m5-3h1m237 1h1m15-15h1m429 20h1m34-6h1m98-7h1m127-2h1m-1332 39h1m557-5h1m15-5h1m78-7h1m190 2h1m117 14h1m71-7h1m12-8h1m24 21h1m7 3h1m10 2h1m17-19h1m237 18h1m-1061 10h1m94 13h1m63-4h1m83 3h1m41-4h1m252 13h1m55-20h1m14-5h1m45-1h1m527 18h1m-1273 18h1m158-9h1m124 5h1m14 1h1m123 8h1m234 6h1m648 6h1m-1425 29h1m297-16h1m19 13h1m67 4h1m140-22h1m17 6h1m3 1h1m212 2h1m38 5h1m20-18h1m281 1h1m6 8h1m3 20h1m56-17h1m-1163 41h1m761-1h1m7 2h1m20-10h1m80-6h1m183 8h1m100 3h1m8-6h1m121 6h1m25-11h1m-1111 23h1m91 15h1m224 12h1m226-3h1m47 1h1m12-8h1m213 5h1m4-4h1m54-7h1m64 5h1m172 12h1m53-13h1m-1344 19h1m52-5h1m157 5h1m76 17h1m240 0h1m270-9h1m157 15h1m16-27h1m411 11h1m-1299 37h1m24-5h1m119 13h1m72-26h1m464 13h1m151 3h1m158-17h1m305 24h1m-1637 28h1m119-20h1m169 17h1m147 10h1m770-29h1m29 25h1m8-2h1m28 6h1m115-15h1m-969 24h1m269 12h1m257-7h1m14-5h1m3 18h1m23-24h1m23 24h1m60-22h1m38-1h1m19 10h1m462-7h1m-1429 25h1m287 5h1m312 3h1m335 2h1m92 2h1m34-12h1m109 17h1m-676 41h1m18-23h1m36 12h1m15 8h1m210 2h1m7-28h1m31 7h1m14-2h1m21 13h1m45 2h1m85-16h1m10 10h1m26-7h1m3 14h1m134-20h1m61 2h1m-835 42h1m21-5h1m367-8h1m60 17h1m5-15h1m1 24h1m158-5h1m182-1h1m117 1h1m-798 31h1m325-2h1m13-19h1m159 0h1m14 16h1m34-10h1m123 2h1m0-5h1m-1332 47h1m413-3h1m78 7h1m7-19h1m47 4h1m107-12h1m435 17h1m106-1h1m39-6h1m88 1h1m24 15h1m-1029 26h1m94-18h1m487-3h1m188 25h1m2-22h1m86 5h1m116 8h1m29 7h1m7 0h1m87-3h1m168 2h1m-1378 9h1m103 19h1m700-15h1m78 2h1m90 5h1m40 15h1m100-18h1m-124 27h1m39 4h1m125-1h1m44 8h1m218-7h1m-504 19h1m102 12h1m27-4h1m76 1h1m20 6h1m179 13h1m93-28h1m-958 34h1m598 25h1m1-2h1m137 2h1m54-11h1m0-9h1m-1359 27h1m25 16h1m486 60h1m535-11h1m-740 26h1m772-3h1m-522 44h1m593-8h1m379 356h1" stroke="#38d898" stroke-width="13"/>
<path d="M1137 263h1m150-14h1m201 12h1m291-13h1m59 3h1m29-6h1m48-2h1m99 24h1m219 0h1m-1606 19h1m627 6h1m87 6h1m28-28h1m64 17h1m57-10h1m23-1h1m230 9h1m125 14h1m17-13h1m112-7h1m3 6h1m4-10h1m218 23h1m-1356 13h1m7 3h1m45-6h1m54-2h1m252 18h1m105-21h1m83 13h1m43 5h1m241-5h1m164 13h1m6-19h1m20 19h1m56-19h1m56-3h1m278 15h1m-1556 18h1m614 10h1m5-10h1m1-1h1m43 8h1m51-5h1m267 4h1m7 2h1m176-9h1m313-1h1m-1068 43h1m183-2h1m95-10h1m11 11h1m58-16h1m11 12h1m195 12h1m23-1h1m150 1h1m93 1h1m80-4h1m82-2h1m-1132 20h1m48 5h1m132 2h1m47-7h1m12-8h1m20-4h1m32 7h1m177 18h1m237-16h1m3-1h1m123-8h1m63 5h1m119 3h1m91-1h1m8 13h1m47-3h1m148-1h1m-1305 32h1m4-12h1m469 2h1m203 19h1m15-21h1m292 4h1m321 4h1m-1346 37h1m738 6h1m7-12h1m176 6h1m0 6h1m1-2h1m64-14h1m-1 7h1m-957 18h1m30 14h1m30 1h1m640-7h1m117-12h1m13 16h1m0-12h1m-1 4h1m36 8h1m55-11h1m290 14h1m-1164 17h1m218-8h1m17 9h1m150 1h1m14 7h1m194 6h1m157-7h1m-802 24h1m85 0h1m50 0h1m37-9h1m272 13h1m6-2h1m221 5h1m257-4h1m-1154 20h1m30 22h1m323-16h1m76 2h1m9-10h1m68 24h1m6-18h1m465 18h1m16-8h1m151-10h1m-784 39h1m133-7h1m102 3h1m313-8h1m4 23h1m11-8h1m77 5h1m20-2h1m17-12h1m87 0h1m75 13h1m60-9h1m-1308 35h1m360-6h1m8 13h1m80 1h1m12-27h1m0 23h1m150-7h1m11-12h1m278 18h1m96-17h1m196 13h1m-1125 30h1m378-17h1m91 25h1m72-20h1m327-2h1m159-5h1m453 7h1m2-4h1m-1353 31h1m352 6h1m398-5h1m13 5h1m17 6h1m42-8h1m30 19h1m29-7h1m211-9h1m11 7h1m249-16h1m446 9h1m-1890 27h1m38 17h1m60-24h1m16 25h1m766-16h1m8 6h1m54 2h1m76-11h1m474 19h1m236-13h1m-1186 25h1m7 1h1m361-7h1m22 19h1m159-14h1m142 14h1m91-20h1m58 15h1m-1105 30h1m2 10h1m592-5h1m186-2h1m259-16h1m47 0h1m-889 54h1m490-5h1m1 4h1m96-26h1m3 23h1m-1436 14h1m321-5h1m1267 26h1m106-12h1m160 3h1m-586 23h1m52-8h1m371 22h1m47-16h1m80 4h1m-362 35h1m-621 163h1m870 54h1m-358 17h1m236-2h1m-628 241h1" stroke="#30d0e0" stroke-width="13"/>
<path d="M1362 246h1m153 12h1m300-9h1m52 1h1m160-1h1m432 8h1m-1323 40h1m60-26h1m97 21h1m51-13h1m0-5h1m5 5h1m107 13h1m251 4h1m93-8h1m66-15h1m33 19h1m91-10h1m67 2h1m117-1h1m-1139 27h1m2 18h1m58-8h1m137-6h1m15-6h1m78 2h1m94-10h1m29 0h1m0 16h1m270 1h1m5-7h1m69-1h1m82 9h1m29-7h1m41 18h1m15-20h1m162-2h1m-814 31h1m106 11h1m67-5h1m199-8h1m35 0h1m39 13h1m55 10h1m-621 14h1m36-12h1m55 9h1m34 17h1m134-21h1m219-2h1m308-1h1m-948 56h1m103-23h1m87 8h1m40 1h1m453-14h1m143 10h1m103 15h1m196 3h1m-1233 23h1m90 2h1m143 4h1m44-21h1m13 8h1m4-4h1m39-3h1m33 5h1m179 14h1m234-21h1m103 23h1m47-8h1m93-17h1m146 4h1m1 11h1m-1247 31h1m382-11h1m231 12h1m203-8h1m57-4h1m-770 45h1m25-21h1m4 16h1m35 10h1m35-13h1m333-12h1m299 3h1m1 9h1m148 1h1m7-15h1m62 5h1m363-4h1m86 23h1m-1350 32h1m31-6h1m117-11h1m154-11h1m440 17h1m64-5h1m5 15h1m62-15h1m55 3h1m81 4h1m179 7h1m131-20h1m-1167 35h1m275-5h1m253 7h1m160-10h1m27 26h1m38-22h1m70-4h1m389 10h1m-1487 40h1m216-6h1m22 9h1m79-7h1m4-5h1m24 12h1m36-4h1m12 0h1m120-11h1m3 5h1m25 1h1m185 11h1m17-27h1m17 0h1m19 28h1m58-1h1m13-25h1m50 5h1m24 9h1m7 5h1m39 7h1m206-6h1m234-7h1m-1293 14h1m90 16h1m157-4h1m79 0h1m2 1h1m271 16h1m-1 0h1m5-1h1m0-28h1m118 9h1m3-9h1m-1 18h1m4-12h1m18-2h1m12 25h1m119-18h1m-694 47h1m121-4h1m307-13h1m37 16h1m68-2h1m156-4h1m7-1h1m11 1h1m-776 38h1m156-26h1m8 0h1m52 23h1m564 0h1m95-9h1m14 9h1m-398 14h1m7-2h1m42 7h1m3 0h1m128 6h1m19-13h1m29 3h1m43 0h1m12 2h1m251 11h1m33-22h1m-1613 45h1m513 4h1m267 8h1m384-20h1m9-4h1m26-1h1m73 12h1m100 7h1m368-13h1m-1341 45h1m741-21h1m43-4h1m91 2h1m15 20h1m63 5h1m30-8h1m34-11h1m-1 14h1m-1220 22h1m395-11h1m672 11h1m118 7h1m2-19h1m131 14h1m28 3h1m150 6h1m-1451 12h1m1003 13h1m184 8h1m-1310 17h1m1262-6h1m95 17h1m42 3h1m1-26h1m76 15h1m2 3h1m121-11h1m-1441 36h1m885-4h1m15-11h1m121 1h1m514 25h1m-1457 10h1m1398 25h1m-1409 81h1m979 8h1m-136 29h1m285 21h1m-815 64h1" stroke="#34d8cc" stroke-width="13"/>
<path d="M1284 260h1m133-19h1m9 8h1m71 18h1m11-21h1m5 13h1m9 4h1m186-20h1m9 26h1m43-25h1m97 4h1m125 12h1m89 0h1m-843 39h1m34-6h1m204-5h1m40-5h1m283 9h1m14-20h1m9 27h1m36-26h1m-1 10h1m3 13h1m113-19h1m9 21h1m69-3h1m-718 26h1m45 8h1m43-2h1m307-17h1m34 6h1m1-2h1m13-4h1m53 16h1m83-20h1m21 2h1m7-8h1m-773 57h1m80-2h1m51-1h1m5-10h1m74 13h1m23-17h1m317-9h1m13 19h1m0-10h1m112-7h1m72 24h1m9-13h1m146 13h1m-824 10h1m181 0h1m288 16h1m171 4h1m43-22h1m118 19h1m101-6h1m-670 39h1m0 2h1m9-29h1m181 15h1m45 12h1m21-20h1m184 12h1m44-2h1m17-3h1m146 3h1m-1304 36h1m408-1h1m126 3h1m12-13h1m54-6h1m340 7h1m19-13h1m30 2h1m68 17h1m75 1h1m109 0h1m-1 9h1m76-28h1m125 10h1m1 17h1m121-18h1m-1494 40h1m362 3h1m620 4h1m344-14h1m232 10h1m-1779 25h1m310-18h1m91 4h1m47 14h1m545 11h1m4-13h1m6 2h1m54-13h1m29-2h1m64 10h1m71-9h1m23 8h1m82 5h1m171 7h1m-980 10h1m1 14h1m27 10h1m79-20h1m327 16h1m3-3h1m28 7h1m-799 21h1m364-12h1m22 4h1m417-5h1m50 7h1m211-2h1m556 6h1m-1711 16h1m246 15h1m124-18h1m59 2h1m37 25h1m176-16h1m246 17h1m44-4h1m3-7h1m117 6h1m785 0h1m-1619 35h1m139-5h1m90 5h1m43-26h1m78 18h1m49 7h1m7-9h1m2-5h1m405-12h1m571 27h1m-1347 31h1m109-16h1m49-5h1m175 8h1m252 12h1m16-3h1m0-17h1m103 14h1m1-19h1m188 5h1m144-2h1m84 22h1m32 1h1m103-24h1m-1293 49h1m119-9h1m67-11h1m169 14h1m249-10h1m3 12h1m32-12h1m20-3h1m18-3h1m14 24h1m10-1h1m18-1h1m9-1h1m3 3h1m15-5h1m94-21h1m-844 46h1m327-1h1m11 13h1m351-16h1m26 16h1m251-6h1m180-12h1m-1558 30h1m465-5h1m1 8h1m159-9h1m152 17h1m195-15h1m138 20h1m9-15h1m44-9h1m67 9h1m32 7h1m37 8h1m27-21h1m33 15h1m64 2h1m-1015 33h1m128-13h1m559 0h1m43 9h1m139-8h1m6 15h1m80-22h1m155 16h1m-1332 24h1m401 13h1m51-24h1m479 5h1m300 13h1m4-4h1m3 0h1m258 6h1m-442 9h1m45 23h1m175 1h1m47-3h1m6-17h1m-1106 33h1m429 7h1m39-3h1m154-5h1m165 9h1m200-14h1m-783 48h1m805-4h1m117 2h1m-363 18h1m118 15h1m503-4h1m-763 25h1m328 0h1m-213 38h1m-776 43h1m881-3h1m-312 217h1m-295 33h1" stroke="#22b0d4" stroke-width="13"/>
<path d="M1079 266h1m128-14h1m212 2h1m33 14h1m271-21h1m17 12h1m108-5h1m23-11h1m13 2h1m105 9h1m17 13h1m29-19h1m15 18h1m-871 19h1m133-8h1m45 16h1m421 5h1m26-12h1m7-12h1m-627 49h1m159-9h1m5-12h1m2 12h1m489 1h1m31 11h1m37-26h1m27 20h1m285-11h1m-1028 31h1m11-7h1m12 5h1m105 15h1m29-12h1m24 16h1m69-25h1m236 12h1m2 9h1m217-20h1m1 3h1m45 22h1m755-11h1m-1691 30h1m213-2h1m154-8h1m73 16h1m294 0h1m266 4h1m148-5h1m-1185 20h1m248 11h1m9-17h1m21 2h1m193 6h1m28 6h1m6-19h1m212 11h1m5-3h1m5 18h1m265-6h1m5-10h1m9 5h1m64-6h1m-1040 46h1m79-18h1m64 15h1m166-12h1m137 14h1m0-7h1m0-11h1m229-5h1m20 7h1m49 19h1m51-22h1m13-2h1m7 25h1m253-16h1m67 2h1m37 8h1m23-3h1m-1364 17h1m458 8h1m343 14h1m34-6h1m107-19h1m145 13h1m-1 4h1m270-19h1m195 4h1m-953 37h1m204-13h1m12 2h1m72 1h1m8 1h1m162 3h1m74 19h1m147-12h1m198-13h1m-1339 52h1m23-11h1m34 5h1m136-12h1m48 18h1m6 1h1m44-10h1m83-8h1m45 0h1m235 23h1m2-10h1m259-12h1m251-1h1m-1046 50h1m45-20h1m494-3h1m24 26h1m330-22h1m11 2h1m55 16h1m19-20h1m-1118 39h1m147 3h1m108-13h1m37 25h1m19-15h1m126-12h1m229 17h1m75 8h1m20-8h1m15 5h1m112-5h1m524-10h1m-1230 46h1m193 1h1m8-11h1m339 1h1m35-4h1m2-3h1m103 15h1m25 2h1m163 2h1m-877 29h1m7-19h1m18-2h1m36 5h1m132 1h1m5-10h1m18-1h1m1 19h1m5 0h1m3 6h1m23-2h1m206-20h1m6 23h1m42-5h1m5-6h1m5 8h1m4-15h1m8-6h1m137-2h1m10 10h1m-487 34h1m300-4h1m249 14h1m188-16h1m126 15h1m-1066 16h1m10-3h1m25 4h1m226-10h1m269 19h1m12-10h1m87 17h1m19-21h1m86 7h1m18-10h1m117 18h1m13-11h1m-1014 29h1m160-3h1m34 11h1m17-17h1m10 8h1m15-7h1m104 20h1m98-1h1m309 2h1m181 3h1m52-9h1m115-10h1m-717 32h1m593 17h1m3 3h1m47-27h1m55 24h1m-1412 23h1m88-16h1m180 7h1m45-5h1m176 15h1m573 8h1m202-25h1m412 15h1m-1567 33h1m1007-1h1m105 0h1m51 0h1m98-1h1m416-10h1m-1120 45h1m393-22h1m159 7h1m201-8h1m31 5h1m127 10h1m-1321 19h1m1051 0h1m433 43h1m-1308 30h1m1215-16h1m-267 162h1m-1120 123h1m1060 33h1" stroke="#38d8b8" stroke-width="13"/>
<path d="M1139 254h1m232 10h1m351-9h1m81 5h1m15-6h1m33 1h1m95-14h1m158 24h1m6-13h1m10-10h1m55 16h1m7-11h1m-830 46h1m66 3h1m378-24h1m49 19h1m101 0h1m61-2h1m4-2h1m92 0h1m-864 25h1m104-6h1m79 19h1m1-11h1m22-12h1m59-1h1m196 2h1m285 4h1m-839 45h1m226 4h1m37-15h1m27 11h1m42-21h1m216-1h1m59 7h1m0 13h1m183-2h1m470-12h1m-1198 52h1m178-22h1m72 22h1m18-16h1m19-6h1m182 5h1m416 11h1m40-7h1m-1201 30h1m61-3h1m174 14h1m33-9h1m42-10h1m238 12h1m215 1h1m26 5h1m15-8h1m145 0h1m54 5h1m137-1h1m38-1h1m149-3h1m69 7h1m-1429 20h1m232 9h1m156-5h1m123-10h1m43 4h1m207 15h1m15-7h1m33 5h1m20-4h1m75-20h1m18 18h1m110 5h1m98 2h1m48 2h1m472 1h1m-1711 23h1m85-3h1m178 7h1m316-7h1m233 6h1m58-19h1m83 22h1m126-22h1m454 23h1m-1476 19h1m37 11h1m170-24h1m544 9h1m183 5h1m40 8h1m27-13h1m132 12h1m-985 17h1m90 14h1m87 2h1m70-21h1m-1 11h1m149-10h1m487 2h1m-932 20h1m66 6h1m41 11h1m116 10h1m27-9h1m51-18h1m134 8h1m383 5h1m43 9h1m15-22h1m-670 58h1m30-13h1m13-4h1m137 6h1m25 7h1m254-7h1m28-15h1m19 20h1m79-7h1m26-15h1m121 15h1m102-1h1m261-12h1m-1227 44h1m163-15h1m150 3h1m211 17h1m186-21h1m171 1h1m-795 43h1m0 5h1m230 4h1m246-7h1m78 4h1m102 6h1m81-26h1m-786 47h1m231-9h1m27 9h1m223-16h1m83 8h1m21 0h1m56 17h1m84-19h1m10 8h1m287 4h1m93-8h1m126 16h1m-1605 9h1m898-3h1m40 20h1m5 2h1m44 2h1m27-14h1m174-13h1m53 27h1m22-8h1m136-9h1m-1241 35h1m29 9h1m131-17h1m145-3h1m120-5h1m116 25h1m50-1h1m175-23h1m16 7h1m62 4h1m20 4h1m37 9h1m142-8h1m-1129 26h1m310-1h1m281 1h1m12 10h1m262-10h1m17-8h1m27-2h1m237 2h1m219-2h1m134 10h1m-8 38h1m-1473 22h1m152-8h1m700 3h1m23 2h1m267 15h1m-1383 34h1m81-11h1m1510-7h1m-1202 19h1m1148 20h1m2-20h1m-254 44h1m223-6h1m2 1h1m28-8h1m-518 174h1m443 0h1m-1373 91h1m915 154h1m394 155h1" stroke="#40dcc0" stroke-width="13"/>
<path d="M977 260h1m26-8h1m218 5h1m149-3h1m370 10h1m238-19h1m21-3h1m35 25h1m50-3h1m77-15h1m1 16h1m120-2h1m102 2h1m28 1h1m0-8h1m289-11h1m61 13h1m106-17h1m-2439 45h1m54 4h1m87-14h1m130 19h1m165-24h1m2 16h1m129-14h1m114 12h1m28 5h1m92-11h1m26-1h1m205 0h1m34 5h1m302-3h1m46 14h1m55 2h1m27-25h1m25 22h1m60-24h1m2 15h1m133-1h1m31-2h1m15-8h1m27 17h1m25 7h1m16-1h1m11-5h1m13 6h1m29-4h1m172-11h1m39 11h1m-2224 24h1m344-8h1m141-3h1m97-7h1m4 6h1m28 9h1m168 3h1m257-6h1m504-9h1m47-3h1m20 25h1m114-3h1m46-1h1m124-10h1m17-5h1m23 2h1m27 9h1m-1537 16h1m15-3h1m56 10h1m150 3h1m130 13h1m233-20h1m350 1h1m207 0h1m315 3h1m27 7h1m4-2h1m40-14h1m105 17h1m119-19h1m195 24h1m-2372 19h1m232-9h1m417 0h1m67-4h1m5 13h1m25 1h1m51 14h1m112-13h1m524 4h1m131-18h1m6 2h1m18 18h1m160 3h1m27 0h1m39-4h1m3-19h1m31 28h1m4-15h1m38-12h1m16 17h1m35-12h1m46 14h1m118 5h1m563-13h1m-2771 34h1m242 10h1m196-5h1m104 2h1m91-23h1m18 24h1m137-14h1m192 16h1m207-2h1m382-22h1m75 11h1m18-5h1m186-5h1m18 0h1m13 13h1m23 10h1m27-21h1m10 18h1m68-4h1m18-1h1m26 7h1m15-10h1m2 11h1m23-20h1m72 9h1m21 1h1m2-3h1m98-8h1m-2366 25h1m352 5h1m155-5h1m176 26h1m26-9h1m44 11h1m19-18h1m43-9h1m102 13h1m116 12h1m7-2h1m33-21h1m82 22h1m82-16h1m275-9h1m207 4h1m28 11h1m82 3h1m22-7h1m11-6h1m20 2h1m39-8h1m24 7h1m0 3h1m6 11h1m83 5h1m10 0h1m131-12h1m14-2h1m49 7h1m30-5h1m100 6h1m29 0h1m-1830 11h1m70 5h1m-1 18h1m117 4h1m12-23h1m223 24h1m474-16h1m331 7h1m20-1h1m10 6h1m103-4h1m9-8h1m50-3h1m130 9h1m16-9h1m5-9h1m24 15h1m29 13h1m-2123 22h1m392-20h1m72 6h1m54 4h1m16-5h1m16 15h1m1 3h1m56 3h1m314-27h1m66 4h1m550 24h1m87 0h1m141-27h1m38 10h1m52 4h1m132-2h1m11 4h1m72-11h1m7 11h1m58-11h1m15 22h1m91-19h1m286 6h1m-2345 30h1m177 3h1m111-5h1m4 10h1m34 3h1m38-16h1m95-6h1m322 17h1m569 5h1m79-16h1m76-8h1m166 15h1m11-7h1m36-7h1m38 8h1m32 5h1m63-13h1m-1790 30h1m1 3h1m14 21h1m284-11h1m12-11h1m370-4h1m687 5h1m120 20h1m289-12h1m33 6h1m66 3h1m24-2h1m40-9h1m-1 17h1m-2226 5h1m149-1h1m153 15h1m33 5h1m120-6h1m10-9h1m28-5h1m86-3h1m115 11h1m15 5h1m100-10h1m29 21h1m99-16h1m414 16h1m3-7h1m53-2h1m45-6h1m166 6h1m31-5h1m143-4h1m288 13h1m9 1h1m14-23h1m91 17h1m45-2h1m81 13h1m-2528 24h1m383-4h1m126-17h1m6 10h1m54 8h1m64-14h1m49 3h1m833 8h1m226 5h1m13-1h1m65 7h1m74-12h1m4 3h1m22-5h1m213 16h1m83-17h1m19 0h1m37-6h1m61 17h1m66-21h1m72 3h1m31-5h1m31 20h1m182-3h1m-2418 37h1m284 5h1m22-12h1m12-5h1m113-3h1m37 14h1m174-5h1m104-8h1m132 5h1m16 10h1m356-17h1m29-8h1m236 3h1m50-1h1m82 21h1m70 5h1m180-23h1m187 16h1m141-5h1m39-2h1m-2079 42h1m11-18h1m14-1h1m262 9h1m35-2h1m63-10h1m132 25h1m5-13h1m700-1h1m40-12h1m47 17h1m14 4h1m18-23h1m367 2h1m31 9h1m62-8h1m11 10h1m73 15h1m3-13h1m-2514 28h1m130-12h1m354 22h1m172-2h1m7-11h1m109 3h1m275-4h1m557 9h1m6 2h1m190 2h1m114-18h1m4 12h1m59-3h1m151 8h1m18-18h1m0 20h1m60-19h1m28 4h1m98 4h1m47 7h1m16-14h1m13 12h1m9 3h1m90-16h1m8-1h1m25 23h1m54-24h1m-2233 55h1m3-7h1m29-17h1m205 10h1m223-8h1m402 10h1m605 8h1m48-5h1m59-3h1m63-8h1m129 9h1m30 5h1m7-9h1m1 3h1m38-1h1m2 4h1m69 6h1m45 3h1m5-7h1m70-14h1m57-5h1m13 0h1m28 24h1m-2101 30h1m10-9h1m6-2h1m0-14h1m89 21h1m102-15h1m79 21h1m25-1h1m103-25h1m36 12h1m462-3h1m504 6h1m139-17h1m1 6h1m5-1h1m45 2h1m106 6h1m6 11h1m21-16h1m20 10h1m85-16h1m57 1h1m75 4h1m1-7h1m45 12h1m5-2h1m14 19h1m0-2h1m2 2h1m8 0h1m4-6h1m44-20h1m-2031 30h1m45 8h1m17 6h1m60-7h1m291 7h1m9-4h1m47-9h1m6 2h1m15 14h1m187-17h1m564 26h1m128-10h1m-1 6h1m127-9h1m8 4h1m37 9h1m44-8h1m34-12h1m86 20h1m27-23h1m50 16h1m7-8h1m2 8h1m119-12h1m38 17h1m152-25h1m11 9h1m37 1h1m-2276 37h1m103 0h1m64-15h1m1333 22h1m114-21h1m-1 17h1m11-15h1m-1 18h1m17-22h1m49 10h1m155 10h1m45-23h1m4 10h1m26 6h1m2-9h1m150 9h1m-1908 35h1m85-16h1m177-2h1m1078 15h1m42-16h1m51 12h1m14 12h1m24-13h1m54 14h1m102-20h1m12 8h1m35-4h1m8 2h1m4 7h1m73-12h1m38-3h1m45 24h1m114-14h1m37-8h1m-1880 25h1m30 22h1m119-2h1m1150-4h1m87-9h1m-1 17h1m75-10h1m0 3h1m224 8h1m47-8h1m77-10h1m152-1h1m-958 34h1m140-3h1m185 9h1m86-5h1m31-9h1m46-2h1m14 14h1m137-6h1m-1 19h1m64-19h1m8 4h1m2 0h1m0 6h1m135 9h1m45-29h1m-211 31h1m188 22h1m100-23h1m-2460 55h1m364 1h1m47-13h1m26-1h1m1610 11h1m109-23h1m165 13h1m21-5h1m-1446 38h1m932 5h1m17-10h1m178 7h1m17 3h1m70-11h1m485 14h1m-2933 24h1m692-15h1m1745-2h1m234 3h1m-2255 39h1m2215-6h1m-541 31h1m84 10h1m-895 55h1m723 9h1m203-11h1m86 0h1m-1563 31h1m-441 37h1m97 3h1m2417-6h1m-2135 17h1m280 0h1m-370 80h1m1910 17h1m-1684 25h1m1777 64h1m-769 165h1m870 195h1" stroke="#20a8c4" stroke-width="13"/>
<path d="M1227 261h1m163-7h1m51 2h1m292 8h1m1-3h1m56-3h1m81-4h1m109 13h1m26 0h1m349-14h1m-1044 41h1m27-10h1m7 8h1m4-12h1m85-3h1m301 21h1m5-21h1m38 9h1m92 4h1m45 2h1m102-14h1m-937 47h1m148-25h1m38 16h1m54-13h1m8 10h1m383-6h1m9 3h1m36-7h1m73 18h1m2-20h1m1 19h1m5 2h1m31-8h1m18-9h1m26-4h1m207 11h1m139 6h1m-1385 29h1m97 6h1m224-12h1m100 12h1m28-16h1m32 9h1m46 13h1m65-27h1m254 2h1m9 13h1m31 3h1m58-20h1m36 18h1m1-16h1m35 2h1m7 11h1m385-14h1m-1442 31h1m388 6h1m3 5h1m104 11h1m112-6h1m245 9h1m22-13h1m4 15h1m162-2h1m151-7h1m21 8h1m0-21h1m-798 25h1m198 14h1m230 5h1m56-11h1m151-4h1m27 23h1m34-18h1m67-2h1m35 12h1m-625 13h1m15 2h1m227 2h1m84 17h1m134 1h1m12-23h1m141 6h1m-1027 35h1m92 8h1m13-4h1m115-6h1m159-9h1m20-1h1m19 15h1m192 0h1m64-3h1m196 8h1m13-20h1m143-2h1m608 8h1m-1613 35h1m287 0h1m96 11h1m201-22h1m6 7h1m81 18h1m348-25h1m211-1h1m91 6h1m-1340 23h1m181 20h1m4-9h1m51-3h1m521-6h1m51-2h1m45 3h1m-892 56h1m644-12h1m270 5h1m27-5h1m28 9h1m58-14h1m42 17h1m1-29h1m-861 55h1m6 2h1m16-22h1m16-5h1m169 13h1m411 12h1m4-13h1m178 12h1m-1153 35h1m398-15h1m179-1h1m239-5h1m0 0h1m169 9h1m-1026 19h1m277 15h1m124 7h1m172-11h1m364 9h1m82-7h1m6 0h1m2-15h1m71 4h1m-1002 24h1m213 18h1m487-18h1m38 26h1m11-2h1m11-22h1m12-2h1m48 16h1m39-1h1m-1 3h1m79-11h1m44-8h1m1 21h1m24-2h1m-1175 12h1m572 5h1m351 12h1m69-18h1m51 11h1m106 1h1m51 11h1m31-23h1m47 7h1m-1381 47h1m1099-5h1m12-16h1m11 10h1m-1 10h1m8-21h1m62 5h1m1-4h1m33 12h1m-1087 35h1m268-4h1m24 9h1m529-4h1m355-10h1m155 1h1m-460 38h1m373-21h1m164 8h1m252-3h1m-1335 51h1m604-5h1m283 8h1m68-23h1m38 14h1m221-2h1m-1570 23h1m1067-6h1m40 5h1m324 1h1m35 10h1m130 0h1m-1609 35h1m176 2h1m859 30h1m214-9h1m-172 37h1m44-9h1m221 4h1m137 16h1m-465 193h1" stroke="#30ccb8" stroke-width="13"/>
<path d="M670 249h1m332-6h1m870 11h1m165-4h1m15-2h1m100-6h1m52 16h1m142-17h1m63 17h1m514-14h1m-2646 26h1m676 14h1m15 4h1m219-10h1m127 14h1m922-10h1m45 10h1m21-6h1m0 9h1m374-8h1m314 1h1m-2646 24h1m375-2h1m408 12h1m333-5h1m360-9h1m56 5h1m-1194 31h1m187-9h1m57 7h1m355 0h1m436-10h1m113 0h1m3 22h1m37-22h1m426 13h1m86 4h1m367-19h1m-2049 45h1m1590-10h1m501-4h1m-2094 35h1m276-1h1m173 4h1m326 15h1m563-23h1m76 0h1m45 21h1m87 0h1m-1307 10h1m76 0h1m193 1h1m21 17h1m679-16h1m183 5h1m10-8h1m129 15h1m205 9h1m22-24h1m-1713 36h1m70 22h1m1-15h1m38-3h1m4 8h1m25-18h1m95 16h1m185 8h1m53-24h1m449 10h1m535 18h1m50-27h1m17 5h1m77 6h1m71 10h1m144-1h1m-2172 14h1m173 21h1m36 0h1m210-20h1m41 18h1m380-19h1m217 15h1m295-3h1m78 5h1m69 1h1m307-3h1m141-4h1m29-15h1m4 11h1m-2096 19h1m224 12h1m5-14h1m48 20h1m77 9h1m244-7h1m187-8h1m104-3h1m55 17h1m804-7h1m424-11h1m-1802 48h1m20-8h1m163-9h1m141 0h1m284 0h1m634-9h1m362 2h1m198 16h1m9 3h1m-2311 13h1m601-2h1m51 7h1m291-11h1m31 19h1m831-14h1m-1394 25h1m82 5h1m453 20h1m180-25h1m70 28h1m284-14h1m115 4h1m188 10h1m112-11h1m438-14h1m110-3h1m2 29h1m55-28h1m-2455 43h1m557-2h1m553-12h1m535 24h1m83-6h1m126 1h1m79-9h1m133 14h1m64-8h1m129 0h1m95 12h1m40-17h1m-2313 22h1m760 23h1m706-6h1m178 2h1m52 4h1m349-11h1m89 14h1m134-4h1m82-16h1m-2155 21h1m6 0h1m234 24h1m245-12h1m893-7h1m106 16h1m18 3h1m138-23h1m98 4h1m190 19h1m92-23h1m119 27h1m184-14h1m-1339 23h1m228 12h1m177-8h1m161 10h1m173-4h1m127-10h1m159 18h1m119 4h1m224-20h1m-2671 24h1m457 13h1m7 1h1m256 10h1m991-4h1m69-10h1m72-6h1m140 17h1m75-6h1m-1874 36h1m275-16h1m373-5h1m5 2h1m739 17h1m185 3h1m64-1h1m61-4h1m57-11h1m326-5h1m9-1h1m31 20h1m40-9h1m30 5h1m11-6h1m-2538 30h1m545-8h1m43 24h1m14-26h1m210 6h1m9-2h1m1147 11h1m95-13h1m55 8h1m-1734 19h1m167 17h1m1285 6h1m190 3h1m238-7h1m-1766 26h1m1407 9h1m62-8h1m293-3h1m31-7h1m106 21h1m9-9h1m-1562 21h1m1224-6h1m5 0h1m0 20h1m253-9h1m7 5h1m14-21h1m202 17h1m6 11h1m-379 27h1m111-2h1m-1590 12h1m112-1h1m1248 8h1m-85 20h1m186 24h1m289-17h1m-473 26h1m609 10h1m-2382 67h1m1837 34h1m-1978 101h1m40 75h1m798 13h1" stroke="#1c94c0" stroke-width="16"/>
<path d="M464 257h1m290-15h1m1232 25h1m5-3h1m182-11h1m26 8h1m27-9h1m202-6h1m532 4h1m-2398 32h1m227 15h1m127-10h1m115 6h1m66-10h1m106 16h1m206-16h1m638 14h1m154-13h1m59 10h1m21 5h1m32-2h1m9-6h1m28 2h1m-1421 28h1m289-6h1m108 1h1m134 4h1m415 7h1m120-8h1m216 10h1m3-24h1m5-1h1m30 22h1m47-3h1m374 4h1m33-25h1m-1999 37h1m5 14h1m537 6h1m38-18h1m42-11h1m46 24h1m806-23h1m21 19h1m30-1h1m21-18h1m34 1h1m4 18h1m2-17h1m436 9h1m-1917 38h1m69 7h1m65 0h1m93-12h1m115-3h1m1-2h1m68 1h1m108-11h1m820 13h1m57 4h1m89 2h1m30-16h1m-1753 56h1m143-23h1m1-5h1m165 0h1m23 19h1m186-17h1m65 0h1m798 21h1m101-22h1m388 0h1m-1878 31h1m256 14h1m54-10h1m48 5h1m519 16h1m259-26h1m348 26h1m18-10h1m3-8h1m9 5h1m278-3h1m10 5h1m208 1h1m444-8h1m-2439 45h1m254-4h1m147 7h1m126-16h1m780 16h1m198-26h1m60 3h1m34-3h1m173 11h1m0-4h1m7-1h1m183-2h1m-2222 39h1m43 13h1m200-19h1m200 8h1m253 9h1m863-14h1m10 17h1m24-15h1m201 6h1m33 8h1m-1814 9h1m448-2h1m101-2h1m246 7h1m298-7h1m207 16h1m161-14h1m46 8h1m10 1h1m241 13h1m35-2h1m32-14h1m90-5h1m164-1h1m-2142 48h1m250-8h1m1343 14h1m38-5h1m83-1h1m249 6h1m114-3h1m48-7h1m102-5h1m-1939 43h1m150 0h1m29-19h1m90 20h1m234-13h1m19-7h1m40 4h1m45-1h1m199 2h1m38 13h1m606-10h1m156-10h1m20 17h1m147-22h1m6 12h1m8 3h1m-1874 35h1m19-4h1m79 1h1m99-6h1m80-8h1m322 3h1m287-3h1m358-4h1m92 24h1m132-5h1m68-19h1m77 12h1m227 9h1m32 5h1m-1709 14h1m17 15h1m36-17h1m443 8h1m33 9h1m147 3h1m289-24h1m69 0h1m94 14h1m122-4h1m12 6h1m286 0h1m20-8h1m-1601 30h1m87 11h1m326-22h1m36 18h1m36-18h1m24 3h1m674 13h1m200 9h1m100-9h1m442 2h1m-2285 39h1m163-4h1m711-4h1m974-2h1m0-12h1m288-5h1m-1967 44h1m152-7h1m189-6h1m92 15h1m230-7h1m612 1h1m113 16h1m40-13h1m170 12h1m101-2h1m36-12h1m137 5h1m84 4h1m9 4h1m-1969 6h1m199 25h1m33-24h1m164 17h1m36 0h1m102 0h1m744 1h1m196 3h1m29-8h1m22 10h1m13-13h1m185-8h1m154 0h1m269 16h1m-2068 17h1m81 7h1m87-7h1m108 1h1m6 16h1m883-22h1m177 13h1m7-14h1m86 18h1m79-13h1m48 15h1m50-17h1m38 11h1m68 13h1m50-14h1m30-12h1m161 24h1m62-6h1m229-5h1m-2422 42h1m243-26h1m15 26h1m232-11h1m16 6h1m123 7h1m999-11h1m18-2h1m129 2h1m6-2h1m25 7h1m56-21h1m39 19h1m13-6h1m-1805 24h1m219 9h1m1195-15h1m459 4h1m172-3h1m7 4h1m-1782 48h1m8-15h1m1309 14h1m31-9h1m-27 28h1m34 3h1m108-9h1m136-3h1m-1530 29h1m1362-4h1m154 20h1m64-4h1m234 17h1m118 6h1m-2763 37h1m2349-4h1m355 3h1m-661 32h1m-88 28h1m171 2h1m-1308 31h1m1050 27h1m-908 102h1m-685 145h1m-44 16h1m2079 4h1m471 279h1" stroke="#1c9cc8" stroke-width="16"/>
<path d="M701 262h1m241-20h1m33 5h1m448-6h1m477 9h1m171 18h1m149-25h1m184 21h1m13-9h1m562 10h1m-2648 23h1m9-3h1m380 7h1m152-13h1m244 7h1m133 2h1m128 7h1m110 3h1m369-23h1m30 23h1m402-13h1m31 6h1m34 1h1m643-21h1m-2244 31h1m58 18h1m161-18h1m270 17h1m218-17h1m29 6h1m406 16h1m142-8h1m76-2h1m125 7h1m158-5h1m390 12h1m-2031 19h1m576 4h1m501-4h1m37-8h1m274 16h1m-1769 16h1m134 15h1m229-20h1m51 18h1m559-12h1m409-11h1m217 13h1m59-7h1m124-2h1m255 5h1m-1743 26h1m46-3h1m29 25h1m236-24h1m21 16h1m425-9h1m262-3h1m355 5h1m34-13h1m2 15h1m54 6h1m24 4h1m92 3h1m81-27h1m3 25h1m18-19h1m122-5h1m-1968 51h1m287-6h1m81-11h1m92 9h1m44 14h1m140-17h1m589 2h1m397-6h1m67-3h1m88 22h1m65-8h1m24-10h1m6 9h1m152 1h1m245 6h1m-2022 26h1m185-7h1m198-4h1m7 8h1m0 4h1m8-1h1m713-4h1m277 7h1m86-10h1m294 12h1m24 3h1m-2162 2h1m130-1h1m159 18h1m748-8h1m230 17h1m246-23h1m277 23h1m19-2h1m147 4h1m5-27h1m93 20h1m22-22h1m-2090 49h1m118-14h1m85 4h1m106 6h1m24 13h1m516-25h1m662 14h1m206-15h1m316 20h1m-637 10h1m6 9h1m74 17h1m123-1h1m83-5h1m289 5h1m104-2h1m90-12h1m110-2h1m-2238 22h1m41 26h1m332-25h1m35 18h1m107-19h1m238 21h1m25-10h1m536 13h1m244-7h1m47-20h1m23 10h1m148-4h1m66 17h1m29-3h1m163-20h1m-2176 47h1m57-10h1m124-3h1m255 22h1m24-11h1m374 12h1m8-10h1m5-12h1m80 4h1m1081-1h1m17 10h1m6 3h1m241-13h1m-1857 24h1m-1 2h1m331 19h1m119-23h1m429 19h1m538-6h1m307 1h1m105-9h1m-1778 43h1m1 6h1m224-16h1m900 0h1m145-4h1m235 13h1m102 0h1m15-2h1m47-4h1m8 15h1m66-17h1m-1679 47h1m928-1h1m176-2h1m177-22h1m486 6h1m107 10h1m-2180 14h1m15 4h1m367-3h1m139 9h1m908 10h1m55-15h1m10 21h1m0-17h1m29 12h1m72-8h1m128-11h1m11 20h1m79 0h1m30-11h1m156 4h1m-1904 16h1m17 1h1m31 9h1m3-11h1m20 22h1m8-11h1m2-11h1m108 0h1m993 4h1m153 13h1m219-13h1m87-3h1m57 23h1m241-4h1m-1748 36h1m1241-27h1m196 9h1m136 0h1m1-2h1m26 0h1m47 11h1m9-5h1m87-13h1m135 19h1m-2473 28h1m274 4h1m1322-10h1m36-5h1m53 20h1m76-3h1m232-16h1m30 1h1m34-4h1m19 10h1m51 1h1m31-2h1m248 11h1m24-13h1m-2529 23h1m487-3h1m143 26h1m433-13h1m784-13h1m3 16h1m20-14h1m117 2h1m14 0h1m85-1h1m14 3h1m61 2h1m6 11h1m20-12h1m15 3h1m24-3h1m148 0h1m-555 42h1m3-17h1m109 26h1m48-7h1m97 6h1m76-11h1m78-7h1m4-2h1m0 1h1m96-5h1m211 6h1m-1825 38h1m1479 3h1m62 4h1m238-23h1m-2276 35h1m2190 5h1m88-3h1m-2602 47h1m727-18h1m-457 86h1m1377 16h1m-1055 23h1m1398 24h1m248 27h1m-1797 77h1m2063 116h1m107 66h1m139 26h1m80 2h1" stroke="#2cc4d0" stroke-width="16"/>
<path d="M719 261h1m254-13h1m20 10h1m190-4h1m131-2h1m101 4h1m446 4h1m300-15h1m46 8h1m58-4h1m35 1h1m121-5h1m-1781 44h1m10-4h1m548-5h1m197-9h1m122 7h1m314 9h1m396-2h1m83 5h1m566 2h1m-2646 35h1m316-19h1m3 20h1m199-25h1m70 15h1m198-1h1m56 12h1m5-2h1m39-5h1m809-21h1m398 0h1m-1090 54h1m96-11h1m47-9h1m530 23h1m358 1h1m-1811 28h1m22-14h1m421-7h1m164 22h1m126-16h1m960 16h1m114-21h1m53 18h1m14-3h1m58-14h1m656 4h1m-2375 23h1m29 22h1m284-22h1m43 24h1m67-22h1m187 11h1m184 11h1m226-26h1m155 21h1m263-20h1m47 5h1m-1613 27h1m89 16h1m65-17h1m192 23h1m106-8h1m195-15h1m55 21h1m707-15h1m182 0h1m62 2h1m281 7h1m-1639 32h1m18 7h1m5-5h1m17-16h1m74-8h1m248 13h1m1018-11h1m23 13h1m15 6h1m178-4h1m13 12h1m455-19h1m-2205 20h1m85 23h1m55-6h1m25 5h1m22 6h1m755-20h1m39 1h1m26-2h1m190 19h1m316-10h1m92-2h1m9-13h1m28 3h1m133 9h1m-1910 31h1m19-7h1m266 10h1m25-2h1m41-1h1m76 12h1m31-7h1m36-7h1m810-8h1m41 6h1m227 3h1m42 5h1m97-16h1m44 13h1m285-9h1m49 3h1m-2298 25h1m339-4h1m146 5h1m96 6h1m31 3h1m143 7h1m726-20h1m319 8h1m161 4h1m123-3h1m-1655 46h1m1196-2h1m40-3h1m17-7h1m1-14h1m396 1h1m-1827 37h1m95-4h1m3 8h1m-1 13h1m203-24h1m204 1h1m116 7h1m1011-8h1m250 12h1m-1991 18h1m163 23h1m57-13h1m142-2h1m731-3h1m256 18h1m50-5h1m143 10h1m11-28h1m10 6h1m240 14h1m-1772 17h1m3 9h1m314-16h1m130 6h1m60 11h1m781-13h1m28 8h1m324-1h1m83-2h1m73-8h1m35-2h1m158 27h1m-1914 22h1m1092-8h1m121-4h1m104-1h1m11 9h1m93-15h1m365 25h1m6-19h1m-1582 44h1m15 3h1m389-23h1m516 12h1m345 8h1m250 0h1m28-12h1m84-2h1m6-1h1m2 5h1m67-8h1m-2174 29h1m93 26h1m85-27h1m194 27h1m136-15h1m1091 12h1m21 1h1m11-25h1m104 27h1m66 0h1m96-25h1m67 12h1m189-9h1m46 8h1m-2267 24h1m167 12h1m1396 10h1m1-6h1m125-19h1m200 3h1m257 4h1m-2320 35h1m588 8h1m46-13h1m29 0h1m1006 1h1m195 1h1m2-6h1m3 19h1m74-24h1m74-1h1m22 5h1m52 16h1m161 3h1m44-17h1m29-2h1m5 18h1m-2138 6h1m177 9h1m487 8h1m917-14h1m650 14h1m-2326 29h1m84 12h1m596-7h1m1189 7h1m14-15h1m2 15h1m28-28h1m-1 13h1m176 5h1m109-17h1m-152 35h1m37 1h1m211-2h1m-424 34h1m778 5h1m-547 16h1m-1 11h1m248 12h1m-747 13h1m445-5h1m-79 31h1m130 29h1m219 161h1m-604 334h1" stroke="#1a9cc0" stroke-width="16"/>
<path d="M617 266h1m372-19h1m310-7h1m434 3h1m272 9h1m74 15h1m34-7h1m175-7h1m113-7h1m-1753 35h1m230 13h1m960-18h1m375 8h1m30 8h1m90 3h1m7-9h1m58-12h1m-1463 28h1m22 10h1m101 1h1m293 6h1m4-13h1m740-3h1m176 1h1m3 13h1m38 4h1m-1563 29h1m132 4h1m386-3h1m176-17h1m459 25h1m4-19h1m222 14h1m145-23h1m20 9h1m130 7h1m488 7h1m-2162 16h1m213-8h1m341 20h1m424-11h1m235-9h1m37 1h1m29 8h1m108 2h1m175-7h1m31-1h1m-1545 41h1m101 2h1m18 1h1m117 0h1m639-9h1m90 2h1m45 14h1m259-1h1m50-21h1m240 11h1m119 8h1m75-18h1m-1976 45h1m303-20h1m61 0h1m349 20h1m730-5h1m114-7h1m26-5h1m68 22h1m31-12h1m7 1h1m31-7h1m-1723 47h1m176-24h1m92 16h1m9 5h1m157-17h1m133 13h1m12-3h1m624-11h1m272 4h1m40 7h1m73 0h1m48 15h1m26-3h1m112-21h1m177 20h1m-2191 34h1m258-17h1m399 11h1m844-14h1m65 12h1m7-3h1m529 2h1m129-2h1m384-10h1m-1744 42h1m690-14h1m236 11h1m28 9h1m165-13h1m65 16h1m42-21h1m-2157 35h1m364 6h1m351-13h1m72 9h1m74 0h1m786 13h1m2-24h1m322 3h1m232 17h1m95 2h1m-1633 32h1m795 0h1m203-15h1m125-13h1m66 5h1m31 18h1m277 5h1m-2074 9h1m295-7h1m64 14h1m441 9h1m172-10h1m527-3h1m146 14h1m306-19h1m18 18h1m37-4h1m-1750 21h1m257 6h1m42 10h1m72 3h1m17-5h1m22-12h1m604 5h1m264-8h1m409 1h1m-1941 49h1m174-5h1m28-11h1m574 1h1m80-5h1m508 11h1m238 8h1m233-9h1m107 8h1m80-16h1m163-8h1m-1926 49h1m18-14h1m418 19h1m739-8h1m161-5h1m8 7h1m22-2h1m46-3h1m89-6h1m38 6h1m215 1h1m105 4h1m-1734 29h1m216-16h1m914-1h1m234 11h1m290 12h1m-1777 9h1m78 6h1m110-9h1m132 22h1m984-9h1m36-2h1m11-9h1m605 20h1m396-18h1m-2528 29h1m274 24h1m6-2h1m168-13h1m54 6h1m833-10h1m40-4h1m68 4h1m192 7h1m17 3h1m66-3h1m64-3h1m-1731 22h1m21 15h1m102 0h1m81 1h1m96-21h1m59 13h1m1039-11h1m51 19h1m21-9h1m9 2h1m30-4h1m58 8h1m21-5h1m90-8h1m79 23h1m-1837 4h1m295 5h1m209 5h1m976 1h1m162 14h1m18-27h1m10 2h1m1 11h1m172 8h1m133-7h1m98 10h1m-421 16h1m32 9h1m83-17h1m158 17h1m32 9h1m184-17h1m-2174 40h1m1-21h1m550 14h1m1233 8h1m53-4h1m46 6h1m202-9h1m55 6h1m184-6h1m-506 34h1m-1685 38h1m75-9h1m87-15h1m1637 12h1m78 1h1m-380 17h1m73 11h1m-1500 17h1m1388 19h1m475 80h1m27 100h1m-2010 20h1m2068 12h1m-1831 41h1m-150 49h1m1830 56h1m146 247h1" stroke="#24b8cc" stroke-width="16"/>
<path d="M1061 245h1m259 1h1m43 11h1m79-17h1m431 18h1m138 11h1m181-6h1m-1371 8h1m509 17h1m26-3h1m82 14h1m80-12h1m2 9h1m264-16h1m81 2h1m-498 31h1m487 6h1m94 4h1m250 5h1m186-15h1m-1073 22h1m37 14h1m41-4h1m41-4h1m63-5h1m231 3h1m54-6h1m-502 51h1m162-11h1m31 5h1m255-11h1m-636 48h1m89-5h1m68-3h1m236-12h1m229 11h1m211 5h1m188-17h1m-1119 54h1m51-11h1m176-11h1m33-2h1m-103 33h1m44 22h1m274-29h1m243 18h1m245 10h1m-916 26h1m630 5h1m0-26h1m247 17h1m38 8h1m135 0h1m-1008 13h1m223-8h1m375-1h1m79 25h1m144-21h1m39 8h1m252-13h1m-1150 31h1m139 23h1m14-22h1m487 12h1m13-5h1m98 19h1m358-29h1m-1245 37h1m507-3h1m17 18h1m33-18h1m3 1h1m186 15h1m-1 2h1m29 5h1m12-2h1m262 4h1m62-17h1m-1290 43h1m417-2h1m155-8h1m56 7h1m45 4h1m26-7h1m213-5h1m41 13h1m14-3h1m349-8h1m-782 34h1m128 9h1m6-14h1m303 13h1m12-9h1m78-17h1m55-1h1m77 16h1m37-14h1m128-2h1m-937 34h1m3 5h1m103 8h1m440 5h1m22-7h1m126-12h1m12 16h1m1-19h1m66 4h1m90 6h1m-966 24h1m22 0h1m604 4h1m196-4h1m31-5h1m15 2h1m135 12h1m0-11h1m47 7h1m257 18h1m-656 27h1m116-1h1m-123 28h1m58-3h1m245-18h1m-1049 51h1m491-1h1m318-5h1m36 9h1m-46 28h1m416-1h1m-1135 31h1m147 5h1m732 0h1m137 0h1m128-19h1m70-8h1m-390 43h1m477-8h1m-153 47h1m144 41h1m-982 97h1m837 3h1m-284 78h1" stroke="#28c4dc" stroke-width="16"/>
<path d="M908 253h1m166-3h1m66-8h1m272 13h1m364-15h1m49 3h1m82 14h1m144-1h1m18-10h1m236 17h1m103-16h1m18-4h1m69 10h1m-1874 44h1m13-10h1m67-14h1m93 26h1m258-5h1m750-15h1m173-6h1m11-1h1m99 14h1m121-14h1m139 22h1m-1710 6h1m186 18h1m291-5h1m122 0h1m622-12h1m421 28h1m7-14h1m8-14h1m25 7h1m15 12h1m42-2h1m38-9h1m137 15h1m73 5h1m-2209 8h1m48 18h1m251-20h1m608 19h1m480-11h1m402 15h1m33-27h1m149 17h1m351-15h1m-2170 36h1m712-3h1m450 5h1m185 14h1m134-14h1m190 4h1m61-14h1m24 23h1m51 3h1m130-2h1m70-4h1m310-18h1m-2326 27h1m110 20h1m355 2h1m178-19h1m268 1h1m457 10h1m84-11h1m62 18h1m38-21h1m-1119 50h1m304 5h1m501-22h1m391-2h1m8 28h1m14 0h1m132-12h1m8-7h1m29 10h1m-1698 18h1m21 18h1m138-4h1m146-14h1m35 3h1m80-4h1m549 14h1m119 5h1m29-9h1m263-6h1m297-11h1m93 21h1m68-20h1m-1902 49h1m31-3h1m73-13h1m79-3h1m978 25h1m21-21h1m1 19h1m362-23h1m148 7h1m5 2h1m132 13h1m6 4h1m-2168 28h1m164-19h1m531 14h1m15 1h1m12-9h1m1232 10h1m-1652 21h1m235-4h1m148 6h1m268-8h1m138 8h1m496-10h1m24 18h1m35 0h1m56-12h1m368 14h1m-1807 18h1m88 8h1m153-9h1m152 4h1m16-15h1m4 26h1m131-6h1m124-6h1m694 9h1m22-15h1m185 12h1m63-12h1m3-7h1m284 6h1m8 14h1m136-7h1m-1848 25h1m904 4h1m22 11h1m151-1h1m17-11h1m56-4h1m74 14h1m17-1h1m106 3h1m46-14h1m13 15h1m231 2h1m-1864 5h1m188 2h1m278 16h1m132-12h1m548 16h1m209-8h1m197 9h1m37-10h1m132 4h1m57 1h1m24 8h1m129-14h1m-1942 37h1m114-3h1m299-5h1m44-13h1m51 9h1m694 6h1m99 3h1m98 8h1m195-19h1m260 0h1m43-2h1m66 14h1m108 5h1m-2056 9h1m34-3h1m143 4h1m248 0h1m377-3h1m469 9h1m2 0h1m76-2h1m153-6h1m35 25h1m-1631 29h1m432-7h1m160-10h1m144 6h1m818-11h1m343-5h1m20 1h1m127 15h1m-1853 26h1m2-9h1m159 20h1m77-14h1m295 8h1m587-5h1m102 16h1m68-2h1m3-4h1m4-11h1m29-5h1m117-5h1m10 9h1m5 13h1m21-12h1m32 12h1m116-22h1m-1956 29h1m137 8h1m267 17h1m177 0h1m26-23h1m0 8h1m774 17h1m496-2h1m140-23h1m66 7h1m7 16h1m101 4h1m89-8h1m80-3h1m-2239 33h1m175-13h1m1102-7h1m338 11h1m46 4h1m120 4h1m51 1h1m319 8h1m-2405 23h1m16-8h1m522 10h1m999-23h1m138 11h1m26 0h1m62-2h1m29 0h1m159-2h1m168 0h1m24 3h1m26 11h1m20 1h1m114-15h1m-2046 32h1m127-3h1m1431-2h1m50 9h1m162 1h1m18 12h1m2-24h1m91 4h1m42-6h1m16 17h1m-2275 38h1m408-20h1m1459 14h1m78-6h1m148 5h1m84-13h1m38 21h1m11-22h1m-184 51h1m383 1h1m-70 13h1m-1801 43h1m316-20h1m1255 5h1m-216 56h1m534 23h1m41 9h1m-535 25h1m-1427 66h1m-1 93h1m1247 33h1" stroke="#20a8c4" stroke-width="16"/>
<path d="M870 263h1m165 4h1m44-19h1m380-4h1m411 19h1m175 2h1m17-20h1m239 3h1m758 12h1m-2374 12h1m23 12h1m176 13h1m347-22h1m276 24h1m539-25h1m182 24h1m11-6h1m26 5h1m178-6h1m82-1h1m-2058 27h1m278 4h1m29-19h1m4 23h1m11-2h1m134-7h1m492 9h1m819 0h1m377-16h1m79-4h1m-2228 51h1m186-1h1m136-5h1m545 0h1m415-9h1m32-6h1m121 1h1m119 22h1m97-25h1m60 0h1m59 12h1m38 8h1m301-19h1m61 11h1m46-9h1m-2100 40h1m12-13h1m15 24h1m19-22h1m342 20h1m474-25h1m442 23h1m5-8h1m211-4h1m-1616 31h1m228-7h1m18 7h1m437 9h1m870 2h1m9-6h1m10 8h1m83-2h1m114-13h1m81-6h1m87 16h1m18 7h1m18-22h1m177 13h1m-2244 41h1m537-16h1m42 1h1m463 4h1m256 4h1m299-18h1m92 18h1m87-18h1m224 5h1m293 20h1m-2053 25h1m75-11h1m133 13h1m0-5h1m608 6h1m253-25h1m433-2h1m119 28h1m51-2h1m40-23h1m-1852 33h1m28 13h1m448-18h1m134 26h1m627-26h1m139 0h1m20 26h1m16-7h1m62-3h1m243-15h1m7 15h1m57-10h1m25 16h1m30 4h1m60-19h1m-1908 37h1m133-3h1m34-4h1m107 15h1m480-3h1m145-20h1m778 25h1m9-14h1m92 6h1m-1509 32h1m257-1h1m44 5h1m160-11h1m77-8h1m560 22h1m404-7h1m177 8h1m132-24h1m-1998 41h1m14 13h1m341-21h1m846-5h1m89 12h1m106 4h1m30-14h1m33 0h1m121-2h1m-1584 46h1m0 0h1m213 1h1m27 11h1m37-21h1m20 17h1m283-10h1m491 4h1m177 4h1m56-4h1m144-3h1m170-8h1m-1884 37h1m76 12h1m104-24h1m209 12h1m3-8h1m47 7h1m391 9h1m93 6h1m998-15h1m138-1h1m-2120 29h1m259 5h1m382-13h1m1338 20h1m66-17h1m168 18h1m169-4h1m-1701 33h1m64 0h1m834-13h1m202-4h1m68 9h1m19-9h1m7 17h1m139-15h1m5 0h1m135 20h1m6-22h1m-1959 23h1m9 3h1m154 9h1m824 8h1m310 5h1m167-24h1m6-1h1m33 4h1m3 17h1m44 4h1m154 2h1m3-17h1m191-7h1m5 2h1m224 12h1m-1999 27h1m459-6h1m8 3h1m882-1h1m41-3h1m47 5h1m469-7h1m-2432 32h1m489 17h1m411-15h1m53 18h1m834-5h1m99-22h1m37 8h1m446-8h1m-2216 30h1m185 11h1m394-4h1m84 14h1m140-6h1m128-10h1m847 24h1m89-8h1m18-7h1m4-9h1m109 6h1m32-8h1m296 25h1m-673 12h1m224 9h1m-1 6h1m13-9h1m13 0h1m89 2h1m86 9h1m161-9h1m22-13h1m135 12h1m145-13h1m-2461 55h1m275-3h1m323-8h1m1038 3h1m285-1h1m11 6h1m57-6h1m67 6h1m-1750 4h1m1644 10h1m296-7h1m-1975 28h1m1722-1h1m45 11h1m241-6h1m-573 30h1m286 19h1m119 3h1m-1774 8h1m1236 22h1m301-27h1m-1731 41h1m830-10h1m897 11h1m-792 27h1m1135 10h1m-657 121h1m295 24h1m-1821 35h1m2347-1h1m-2508 27h1m237 30h1m2350 336h1" stroke="#30b0c4" stroke-width="16"/>
<path d="M1195 244h1m87 13h1m81-16h1m400 22h1m316-22h1m96 14h1m-762 17h1m326 4h1m310 6h1m160 14h1m164-15h1m-1220 25h1m370 20h1m367-26h1m392 1h1m-1067 31h1m2 3h1m39 23h1m110-16h1m105 7h1m364 5h1m91-13h1m-642 26h1m92 12h1m371 3h1m429-7h1m-1090 19h1m126 9h1m629 8h1m-771 12h1m424 15h1m206 2h1m73 2h1m-569 30h1m222-1h1m312-19h1m225 14h1m172 5h1m4-8h1m-1214 17h1m439 17h1m484 8h1m307 2h1m-849 22h1m67 7h1m306-11h1m20-8h1m189 7h1m181-14h1m24 9h1m-739 36h1m778 7h1m-675 14h1m1 10h1m289 5h1m27 1h1m540-15h1m-1575 48h1m515-13h1m128-6h1m62-5h1m244 8h1m172 18h1m-630 29h1m515-3h1m139-7h1m343-2h1m-1063 29h1m508-12h1m160 1h1m99 6h1m-1 6h1m62-1h1m-580 27h1m492 19h1m324-27h1m-355 37h1m-1149 30h1m520 2h1m467 13h1m78-18h1m96 11h1m-785 17h1m900 3h1m-1554 41h1m514-14h1m262-2h1m925 5h1m-1187 37h1m1020 5h1m108-16h1m458 18h1m-608 21h1m-803 130h1m273 168h1m106 79h1m589 121h1" stroke="#34d8cc" stroke-width="16"/>
<path d="M1305 241h1m137 4h1m73 4h1m3-6h1m247 8h1m31 5h1m0-3h1m230 5h1m22 8h1m22-13h1m95 3h1m-971 15h1m230 9h1m83-7h1m344 18h1m121-17h1m62-2h1m45 8h1m-986 35h1m105-8h1m183-7h1m63 0h1m39 7h1m17 13h1m360 3h1m23-11h1m356 15h1m13-24h1m12 6h1m-905 45h1m5-4h1m101-19h1m291 23h1m471-12h1m-776 37h1m390-11h1m420 4h1m-558 32h1m0 10h1m300-2h1m12-22h1m182 27h1m17-22h1m-1308 27h1m590 3h1m253 7h1m75-12h1m123 26h1m-922 7h1m141 23h1m80-22h1m67 24h1m353-8h1m31-11h1m23 9h1m338 5h1m-787 16h1m174-2h1m27 11h1m183-9h1m508-9h1m-896 32h1m457 7h1m22 13h1m125 6h1m-848 7h1m-190 53h1m614-11h1m-591 17h1m352 12h1m87-8h1m124 4h1m41-1h1m254-4h1m65 2h1m11 5h1m1-7h1m122 14h1m-1195 34h1m113-23h1m356 3h1m528 24h1m82-28h1m209 22h1m-1099 12h1m189 14h1m66-1h1m27-7h1m74-7h1m147 5h1m568 5h1m73 15h1m-1011 22h1m113-14h1m1174 1h1m-1199 40h1m89-3h1m63-11h1m16 16h1m597-3h1m473-17h1m-958 49h1m570 4h1m418-14h1m-1394 50h1m320 28h1m765-1h1m-1282 21h1m59-3h1m1234-7h1m-3 48h1m61-4h1m24 8h1m-326 1h1m531 87h1m-1178 15h1m110 239h1" stroke="#40dcc0" stroke-width="16"/>
<path d="M1377 248h1m90-7h1m7 11h1m10 7h1m51-6h1m184 13h1m23 11h1m51 8h1m28-7h1m106 17h1m37-20h1m-484 54h1m27-28h1m235 12h1m227-7h1m104 8h1m-1352 24h1m670 2h1m339-7h1m215 19h1m46-17h1m214-3h1m-1155 28h1m307 3h1m80-2h1m488 21h1m479 7h1m-246 2h1m-892 32h1m454 25h1m43-4h1m159-16h1m258 2h1m-1135 30h1m26-1h1m907-8h1m-752 30h1m459 17h1m-601 20h1m880 18h1m-808 8h1m111 0h1m692 4h1m-1027 28h1m546 5h1m-255 32h1m50-9h1m117 15h1m90-1h1m6 2h1m358 7h1m-594 30h1m68-27h1m399 21h1m5-9h1m50-4h1m378-2h1m-1014 28h1m567-2h1m209 1h1m66 15h1m3-5h1m-1185 38h1m194-1h1m827-5h1m42-7h1m82 6h1m52-6h1m234 16h1m-761 22h1m307-6h1m89-3h1m45-5h1m-996 36h1m1193-4h1m-1113 55h1m0-5h1m874-11h1m160-6h1m130 9h1m-1421 43h1m1655-14h1m-434 20h1m23-5h1m-1238 61h1m1444 14h1m312 14h1m-1144 2h1m-641 51h1m1599-17h1m-1019 240h1" stroke="#2cc8d0" stroke-width="16"/>
<path d="M1430 246h1m288 11h1m0-15h1m1 12h1m0-2h1m441 1h1m-742 45h1m307-5h1m43-2h1m135-19h1m66 15h1m10 8h1m52-1h1m-1216 20h1m158-1h1m753-5h1m5 3h1m130 18h1m49-13h1m125 3h1m166 6h1m34 4h1m-922 10h1m24 13h1m94-11h1m10 4h1m4-10h1m285 7h1m20 1h1m11-1h1m50-8h1m132 14h1m208 5h1m4-11h1m-992 32h1m63 8h1m47-21h1m33 5h1m446 22h1m555-26h1m-1070 36h1m3 8h1m226 10h1m254 1h1m156-8h1m211 9h1m12-19h1m-1099 44h1m199 2h1m67-13h1m456-11h1m22 3h1m155 2h1m38-4h1m261-2h1m-493 31h1m12 18h1m154 9h1m-908 3h1m747-1h1m158 11h1m17 18h1m67-4h1m17 4h1m219-12h1m-1107 31h1m77 8h1m1144-24h1m-1282 47h1m11-9h1m49 6h1m127-6h1m435 18h1m145-26h1m150 11h1m96 6h1m65 4h1m-989 10h1m19 21h1m327-2h1m465-6h1m-650 43h1m11-15h1m2-12h1m63 25h1m71-25h1m29 15h1m233-13h1m1 19h1m78 2h1m169-7h1m-648 41h1m349-2h1m97-16h1m46 8h1m89 1h1m-926 31h1m278-21h1m425 20h1m87 5h1m-1055 12h1m1384-5h1m-1383 52h1m499-7h1m736-16h1m-1038 49h1m789-20h1m250 0h1m44 16h1m-901 30h1m376 1h1m123 4h1m558 35h1m-307 51h1m-766 142h1m978 354h1" stroke="#38d898" stroke-width="16"/>
<path d="M1370 258h1m9 3h1m103-17h1m2 10h1m33-13h1m342 15h1m336 8h1m-735 34h1m70-11h1m216 0h1m153-4h1m70 6h1m69 0h1m165-10h1m-978 35h1m265 13h1m18 1h1m227-18h1m254 5h1m322-12h1m-1193 52h1m184-20h1m38 1h1m50 4h1m54 10h1m779 6h1m4-18h1m-507 34h1m132-3h1m137 2h1m86 0h1m-764 24h1m376-2h1m18 0h1m221 2h1m-696 25h1m4 1h1m449 23h1m28 2h1m100-26h1m110 16h1m-240 34h1m4-10h1m694 8h1m-1115 37h1m640-15h1m226-7h1m54 16h1m-933 32h1m0-9h1m460-3h1m137-7h1m-713 51h1m293-10h1m39 11h1m299-12h1m182 11h1m-891 20h1m348-10h1m27 24h1m422-24h1m60 10h1m-538 42h1m7-1h1m88-14h1m198 7h1m4-10h1m-281 30h1m425 6h1m393 1h1m164-4h1m-414 30h1m462 15h1m-1746 10h1m544 22h1m488-12h1m81-12h1m0 22h1m46 1h1m21 1h1m7-14h1m-992 24h1m345 10h1m55 12h1m237-2h1m360-11h1m20 13h1m144-7h1m34-18h1m23 0h1m-957 28h1m27 3h1m745 1h1m25 2h1m-211 32h1m203-7h1m32 0h1m104 1h1m1-2h1m-1026 33h1m31 20h1m174-6h1m671-14h1m105 11h1m95 7h1m-273 9h1m142 52h1m-728 11h1m809 4h1m-129 41h1m-933 82h1m830 77h1m152 223h1" stroke="#30ccb8" stroke-width="16"/>
<path d="M1366 259h1m167-10h1m251 7h1m377-1h1m-809 40h1m24 4h1m94-29h1m324 27h1m49-17h1m12 18h1m-464 27h1m49-18h1m43 22h1m4-1h1m222-26h1m36 2h1m9 6h1m179 18h1m52-15h1m4-13h1m166 5h1m-1095 41h1m38 5h1m53-8h1m81-13h1m147 8h1m15 18h1m19-2h1m40 1h1m293 4h1m202-4h1m-887 24h1m236-1h1m110-1h1m600 2h1m291 9h1m48 1h1m-1175 19h1m298-14h1m1 8h1m14 9h1m217 2h1m42-4h1m171-2h1m16-7h1m211 4h1m132-12h1m-1445 28h1m143 28h1m1106-4h1m293-20h1m-1531 32h1m306-1h1m31-4h1m672 20h1m132-21h1m-734 45h1m142-15h1m444 3h1m54 26h1m24-2h1m-721 8h1m63 16h1m34-19h1m2 27h1m179 0h1m3-23h1m217 14h1m106 9h1m11-13h1m-813 37h1m83-23h1m53 23h1m0 4h1m41 28h1m263-9h1m229 11h1m66 22h1m72 10h1m59-25h1m210 33h1m-977 37h1m55-8h1m114 8h1m67-5h1m94-3h1m354 22h1m140 1h1m287-25h1m-175 27h1m-795 33h1m163 3h1m75 7h1m59-14h1m221 20h1m348-3h1m400 27h1m-1316 44h1m571-8h1m28-17h1m329 4h1m-1203 39h1m856 10h1m695-10h1m-1309 23h1m854 32h1m177 45h1m-1082 25h1m988 76h1m236-6h1m-1582 52h1m-104 252h1" stroke="#30d0a8" stroke-width="16"/>
<path d="M1010 268h1m501-15h1m23-7h1m1 16h1m228-9h1m-540 25h1m17 9h1m67-14h1m65 3h1m124 11h1m303-11h1m-798 26h1m263 1h1m118 2h1m27 13h1m90-11h1m246-2h1m22 16h1m115-15h1m32 2h1m180 1h1m-1243 37h1m616 7h1m303-17h1m150 10h1m64 11h1m321-3h1m-905 32h1m318-16h1m-492 23h1m38 2h1m444 18h1m109 0h1m-583 33h1m265-10h1m216-5h1m403 0h1m-1245 48h1m572-12h1m816 5h1m45-15h1m-1240 43h1m611 21h1m12 6h1m7-1h1m6-16h1m228 1h1m45 25h1m180 2h1m-875 4h1m707 20h1m-500 20h1m178 15h1m210-2h1m88-13h1m408-10h1m39 6h1m-1248 36h1m55-9h1m42 0h1m58-2h1m362 2h1m121 10h1m48-10h1m20-4h1m10 19h1m219 1h1m-840 15h1m88 23h1m84-6h1m226 5h1m15-15h1m55-11h1m432 1h1m212 25h1m-1116 2h1m417 26h1m551-19h1m-1164 43h1m738 0h1m190-6h1m27 6h1m-850 33h1m681-8h1m62 8h1m14-13h1m254 5h1m-1425 34h1m350-10h1m359-3h1m267 0h1m-779 30h1m915 3h1m29 11h1m99-18h1m109 4h1m-1379 41h1m1211 12h1m59-19h1m-1369 30h1m1158-10h1m95 6h1m266 16h1m-1250 31h1m1054-17h1m265 1h1m56 5h1m-50 29h1m-63 24h1m-51 302h1m231 191h1" stroke="#30d0e0" stroke-width="16"/>
<path d="M1180 257h1m587-13h1m26 2h1m281 13h1m-869 20h1m125 7h1m28 7h1m9 6h1m84 0h1m50-9h1m252 9h1m54-7h1m9-14h1m2 3h1m106 8h1m80-6h1m-890 39h1m226-20h1m42 11h1m43-8h1m26 0h1m290 7h1m32-1h1m4-1h1m-769 37h1m321 6h1m526-4h1m64-3h1m3-15h1m-670 48h1m135-7h1m310-6h1m-249 24h1m7 19h1m44-17h1m-1 7h1m378-5h1m-132 44h1m20-6h1m55 9h1m285-17h1m-1251 34h1m120-2h1m33 23h1m151-19h1m78-3h1m36-4h1m459 2h1m-50 39h1m237 9h1m150-21h1m92 19h1m-1130 22h1m36-4h1m394 10h1m230-18h1m142 18h1m69-9h1m388 11h1m-949 35h1m327-23h1m32 8h1m55 6h1m193 2h1m4-12h1m46-5h1m131-1h1m-1428 34h1m612 20h1m465-2h1m12-18h1m242 14h1m-1268 17h1m37-5h1m376 28h1m534-12h1m84 6h1m73 5h1m-813 26h1m254-16h1m78 4h1m9 12h1m246-20h1m9 7h1m44 15h1m7-19h1m357-4h1m-1094 48h1m82-20h1m214 17h1m371-16h1m151 7h1m82 6h1m82-11h1m191 0h1m67 5h1m-1055 45h1m517-17h1m74 22h1m104-21h1m132 5h1m-920 19h1m-387 38h1m30 0h1m1345 3h1m257 13h1m-1621 29h1m900-14h1m159-5h1m16 2h1m7 8h1m-1046 31h1m600 1h1m457-12h1m-243 57h1m458 49h1m-818 238h1" stroke="#22b0d4" stroke-width="16"/>
<path d="M1365 254h1m376 4h1m31-16h1m116 21h1m185-13h1m165-9h1m-1073 42h1m168-8h1m6 5h1m9-7h1m154 15h1m199 6h1m24-9h1m458-13h1m-897 50h1m48-2h1m104-19h1m7 9h1m-1 4h1m63-8h1m7-4h1m331 27h1m5-24h1m-516 48h1m81-16h1m43-7h1m245 16h1m150-16h1m321 26h1m-244 6h1m120-2h1m-1090 30h1m213 15h1m565-8h1m74 6h1m637 8h1m-1476 19h1m432 6h1m439-13h1m-563 46h1m48 3h1m117 7h1m506-7h1m34-16h1m326 13h1m-838 26h1m451 1h1m-819 27h1m784 10h1m233-17h1m18 20h1m-1085 6h1m291 20h1m26-21h1m111 6h1m-172 44h1m107-7h1m61 4h1m313 10h1m30-2h1m293 2h1m-1068 3h1m137 17h1m277 11h1m7-28h1m190 46h1m39 6h1m17-22h1m2 0h1m373 27h1m317-1h1m-1294 6h1m83 4h1m160-3h1m106 23h1m321-26h1m20 3h1m141 18h1m-1048 30h1m162-10h1m583 7h1m220-2h1m27 2h1m83-10h1m-719 44h1m220-16h1m234 20h1m59-14h1m38 4h1m274 9h1m-144 7h1m122 19h1m-1029 16h1m178-8h1m628 4h1m32 39h1m360 6h1m-307 23h1m511 8h1m-261 29h1m41-6h1m-1163 40h1m961-15h1m-1326 97h1m1776 86h1" stroke="#1ca4c8" stroke-width="16"/>
<path d="M843 256h1m276 13h1m94-5h1m787-8h1m1 3h1m27-9h1m34 7h1m150-12h1m262-3h1m493 22h1m-2412 10h1m432 6h1m178 13h1m211-2h1m380 0h1m288 3h1m9-20h1m117 17h1m81 0h1m454-16h1m-1924 46h1m1-3h1m61 1h1m25-16h1m253 24h1m210-2h1m41-8h1m794-17h1m32 6h1m46 19h1m206-24h1m58 27h1m38-7h1m277-3h1m-2152 39h1m214-22h1m231 4h1m3 18h1m74-15h1m91 11h1m527-7h1m20 0h1m78-3h1m238 16h1m87-20h1m13 1h1m364 19h1m314-27h1m-2390 37h1m83 16h1m0 0h1m105-2h1m142-1h1m1222-9h1m211-6h1m161-5h1m125 4h1m-2226 49h1m525-23h1m8 8h1m128 11h1m421 4h1m7 0h1m277-5h1m232-14h1m319 3h1m-2060 21h1m378 10h1m105-9h1m3 18h1m0-17h1m85 18h1m28-11h1m99 0h1m6 12h1m62 7h1m237-4h1m814-4h1m27-14h1m111-4h1m15 19h1m304-2h1m-1728 24h1m60 7h1m12-2h1m120-4h1m7 0h1m232-14h1m200 6h1m535 4h1m61 4h1m80 6h1m199 4h1m-1633 28h1m165 7h1m39-23h1m32-1h1m236-3h1m527 19h1m434-20h1m84 25h1m38-10h1m81 1h1m13 9h1m70-18h1m77-3h1m337-5h1m-2287 34h1m46 2h1m313 5h1m410-10h1m538 4h1m274-3h1m203 23h1m78 2h1m74 0h1m13-25h1m-1880 37h1m491 13h1m28 3h1m307-5h1m382 9h1m86-27h1m77 26h1m76-4h1m76 4h1m4-20h1m73-1h1m88 10h1m120-3h1m-1746 25h1m160-6h1m827 20h1m238-12h1m43-5h1m105 6h1m270-12h1m588 20h1m-2544 30h1m284-19h1m106 12h1m268-8h1m157 22h1m8-9h1m475-12h1m127-3h1m829 18h1m-1942 20h1m10-1h1m28 15h1m70-5h1m483-10h1m99-4h1m47 15h1m742 1h1m52-3h1m-1 8h1m0-16h1m193 8h1m237 3h1m437-21h1m-2336 34h1m141 23h1m64-4h1m170 5h1m43-27h1m606 11h1m207 11h1m309-20h1m3-4h1m40 0h1m187 9h1m5 18h1m59-20h1m82 16h1m29-5h1m85 11h1m-2369 23h1m243 1h1m234-14h1m365 2h1m604 1h1m93 2h1m77 6h1m18 0h1m146-6h1m115-4h1m87 16h1m5 0h1m10-8h1m8-5h1m177 4h1m27-11h1m109 13h1m2-6h1m-2361 46h1m311 0h1m344-21h1m42-5h1m1 5h1m15 21h1m267-15h1m371 9h1m63-21h1m20 11h1m68 11h1m26-20h1m129 23h1m74-2h1m23-10h1m252-10h1m171 0h1m44 20h1m22-9h1m-2081 18h1m191 18h1m147-14h1m940 9h1m267-5h1m95 13h1m79-20h1m30 0h1m221 17h1m74-11h1m69-1h1m104-3h1m-2110 32h1m287 11h1m173 8h1m915-21h1m61-4h1m379 16h1m56-1h1m56-10h1m-1547 38h1m45-11h1m0 1h1m855 22h1m227-16h1m195-8h1m-1660 39h1m333-12h1m1115 16h1m44 2h1m23-4h1m26 14h1m86-7h1m192-10h1m-525 42h1m93-7h1m46-12h1m8 6h1m23 4h1m99-13h1m14 21h1m133-11h1m116-10h1m-1467 29h1m410-1h1m652 17h1m312 1h1m35-11h1m114-4h1m47 20h1m-2334 15h1m1852 18h1m405-7h1m3-15h1m-504 33h1m491 6h1m-1892 37h1m279-15h1m1050 23h1m303-9h1m74 20h1m-14 28h1m264 42h1m-2318 27h1m-63 189h1m408-14h1m1782 15h1m-453 44h1" stroke="#28c0c0" stroke-width="16"/>
<path d="M572 252h1m1296 1h1m43 16h1m223-11h1m-945 19h1m33 9h1m24 2h1m131 11h1m100-22h1m20 10h1m232 2h1m7-11h1m26 15h1m10-21h1m19 13h1m144 1h1m275 8h1m39-17h1m-1153 31h1m179 7h1m19 13h1m181-12h1m31 4h1m0-5h1m248 3h1m-389 28h1m74 5h1m38-20h1m33 11h1m-35 36h1m-773 38h1m396-16h1m126 13h1m194 6h1m81-3h1m292 0h1m59-7h1m35-13h1m241 17h1m121 3h1m-798 17h1m40-6h1m179-4h1m6 10h1m22 8h1m12-18h1m127 24h1m-678 26h1m6-20h1m519 26h1m500-7h1m-1056 24h1m335-14h1m213 5h1m22-7h1m69 7h1m61 5h1m113 10h1m129-10h1m176 10h1m-1529 63h1m356-5h1m208-9h1m9 6h1m18 11h1m154-5h1m426-17h1m376 20h1m-1104 6h1m104 4h1m649-1h1m-457 46h1m191 1h1m35 7h1m23-28h1m13 2h1m265 23h1m-931 16h1m126-12h1m76 18h1m79 0h1m17 5h1m31-6h1m324-17h1m56 8h1m179 19h1m-761 20h1m236-17h1m269 25h1m186 4h1m3-6h1m-691 13h1m511 8h1m114 15h1m409-21h1m-1023 39h1m67-11h1m103-5h1m75 28h1m43-29h1m227 9h1m123 7h1m-1297 14h1m358 1h1m542 10h1m4-9h1m29 6h1m83 11h1m263 6h1m173-8h1m28 11h1m-817 5h1m540 1h1m329 4h1m12 24h1m-254 37h1m431 2h1m8 15h1m-296 5h1m361 29h1m-1859 47h1m1702 9h1" stroke="#38d8b8" stroke-width="16"/>
<path d="M1748 292h1m155-3h1m-461 12h1m-40 56h1m-129 78h1m134 41h1m109-24h1m-226 50h1m117 49h1m36 85h1m357 7h1m529 58h1m-1153 83h1" stroke="#2cd4a0" stroke-width="16"/>
<path d="M1426 241h1m310 21h1m-474 30h1m-251 8h1m380 5h1m321 2h1m124 16h1m-462 16h1m368-6h1m-478 112h1m468 2h1m281 121h1m-718 19h1m639-2h1m-459 50h1m-156 40h1m147-8h1m560 170h1m-257 124h1" stroke="#38dc80" stroke-width="16"/>
<path d="M1112 315h1m791-15h1m-413 84h1m309 23h1m104-5h1m-135 74h1m-661 66h1m140 104h1m660-6h1m101 19h1m58 5h1m-234 66h1m273 25h1m-944 154h1" stroke="#30d890" stroke-width="16"/>
<path d="M2335 315h1m-586 16h1m-622 43h1m338-1h1m608-4h1m-206 42h1m-92 27h1m-552 30h1m492 32h1m652 12h1m-1122 115h1m573 0h1m237 69h1m-466 49h1m378 74h1" stroke="#40e070" stroke-width="16"/>
<path d="M1515 285h1m487 28h1m-506 29h1m662 35h1m-107 13h1m90 4h1m-1173 39h1m773 0h1m101-13h1m-940 41h1m961 17h1m104-5h1m153-23h1m-885 97h1m131 2h1m591 4h1m-223 22h1m13 34h1m-419 76h1m-346 82h1m909-3h1m362 372h1" stroke="#38dc80" stroke-width="20"/>
<path d="M977 260h1m91 34h1m154-20h1m304 27h1m286 1h1m-537 43h1m487 7h1m2 30h1m-430 13h1m145 14h1m-222 130h1m119-29h1m816 2h1m-882 78h1m433 6h1m197 69h1m-29 114h1m179 50h1m-164 11h1m270 34h1" stroke="#30d890" stroke-width="20"/>
<path d="M1448 258h1m-221 20h1m64 1h1m745-9h1m-937 45h1m811-2h1m-583 31h1m893 56h1m-443 33h1m-56 38h1m19 9h1m-420 96h1m37 15h1m110-17h1m695 19h1m-730 27h1m301-11h1m35 28h1m-537 83h1m609 34h1m-682 43h1m904 233h1" stroke="#40e070" stroke-width="20"/>
<path d="M1382 286h1m-202 32h1m-79 71h1m642 38h1m66 18h1m-52 25h1m238 1h1m-268 12h1m53 4h1m-399 36h1m615 22h1m-633 61h1m483 0h1m-354 60h1m288 6h1m-33 25h1m551 131h1m-982 18h1" stroke="#2cd4a0" stroke-width="20"/>
<path d="M1765 400h1m-27 40h1m2 32h1m132 84h1m162 3h1m127 47h1" stroke="#44e438" stroke-width="23"/>
<path d="M1796 289h1m15 31h1m-521 60h1m668-18h1m-66 62h1m-165 95h1m-393 37h1m587 135h1m144 43h1" stroke="#30d858" stroke-width="23"/>
<path d="M1792 338h1m-71 120h1m96 76h1m23 81h1m-733 36h1m242 33h1" stroke="#58e430" stroke-width="23"/>
<path d="M2113 335h1m-343 41h1m355 19h1m170 189h1m-539 43h1m44 6h1m-494 46h1m721 35h1" stroke="#40e848" stroke-width="23"/>
<path d="M1427 506h1m-343 11h1m344 65h1m341 53h1m169 25h1m-101 128h1" stroke="#34dc68" stroke-width="23"/>
<path d="M1337 469h1m23 4h1m747 76h1" stroke="#38dc40" stroke-width="23"/>
<path d="M1546 430h1" stroke="#e8c020" stroke-width="24"/>
<path d="M1410 375h1" stroke="#c8e030" stroke-width="26"/>
<path d="M1270 720h1" stroke="#b8e030" stroke-width="26"/>
<path d="M1960 400h1" stroke="#a8e038" stroke-width="26"/>
<path d="M1478 290h1m436 236h1m42 155h1m-111 97h1m249 71h1" stroke="#30d858" stroke-width="28"/>
<path d="M1869 566h1m219 129h1m-1000 70h1" stroke="#44e438" stroke-width="28"/>
<path d="M1863 273h1m-68 64h1m-424 67h1m388-14h1m-384 59h1m577 20h1m-189 53h1" stroke="#34dc68" stroke-width="28"/>
<path d="M1053 319h1m452 124h1m-514 92h1" stroke="#40e848" stroke-width="28"/>
<path d="M1351 298h1m95 58h1m624 30h1m-695 135h1m9 32h1m49 136h1" stroke="#38dc40" stroke-width="28"/>
<path d="M1502 415h1m472 198h1m-592 92h1" stroke="#58e430" stroke-width="28"/>
<path d="M1725 255h1" stroke="#d8e028" stroke-width="30"/>
<path d="M1936 306h1m-883 193h1m668 9h1m81-1h1m-299 151h1" stroke="#44e438" stroke-width="33"/>
<path d="M2246 337h1m-523 55h1m-326 76h1m353-6h1m-8 96h1" stroke="#58e430" stroke-width="33"/>
<path d="M1320 382h1m455-9h1m-30 43h1m-357 63h1m419 239h1" stroke="#30d858" stroke-width="33"/>
<path d="M1764 308h1m-330 41h1m382 410h1" stroke="#40e848" stroke-width="33"/>
<path d="M1313 553h1" stroke="#34dc68" stroke-width="33"/>
<path d="M1807 378h1m18 37h1m-63 17h1m-673 86h1m648 63h1" stroke="#38dc40" stroke-width="33"/>
<path d="M1738 262h1" stroke="#f0b020" stroke-width="36"/>
<path d="M1987 307h1m-119 145h1m-398 55h1m320 2h1m-446 193h1m553-3h1m-847 53h1" stroke="#38dc40" stroke-width="37"/>
<path d="M1770 376h1m-443 34h1m507-18h1m-401 57h1m547 70h1m251 29h1m-966 67h1m75 122h1" stroke="#34dc68" stroke-width="37"/>
<path d="M2091 445h1m-578 63h1m-55 23h1m551 14h1m-725 31h1m481 19h1" stroke="#58e430" stroke-width="37"/>
<path d="M1356 535h1" stroke="#44e438" stroke-width="37"/>
<path d="M1080 288h1m848 152h1m-776 26h1m-53 157h1m683 140h1" stroke="#40e848" stroke-width="37"/>
<path d="M1828 416h1m-18 62h1m-428 23h1m430 14h1" stroke="#30d858" stroke-width="37"/>
<path d="M1177 258h1" stroke="#ffa41c" stroke-width="42"/>
</g></g>
<path d="M8.2 6.6L316.2 9L316.4 279.8L8.4 278Z" fill="none" stroke="#b0b0b0" stroke-width="2.1" stroke-linejoin="round"/>
<path d="M9.5 22.4L315 24.1" stroke="#141c7c" stroke-width="2.2" fill="none"/>
<path d="M40 23.3L296 24.7" stroke="#1c6c9c" stroke-width="1.0" fill="none" opacity=".8"/>
<rect x="156.6" y="4" width="10.9" height="67.3" fill="#b8eef4"/>
<g transform="scale(.1)" stroke-linecap="round" fill="none">
<path d="M1621 61h1m5 9h1m21 21h1m20 12h1m-56 23h1m32-4h1m-29 48h1m27 8h1m0 18h1m21-12h1m-76 30h1m67 5h1m-95 50h1m85 9h1m-42 29h1m14 12h1m-10 11h1m47 8h1m-100 48h1m86 3h1m-53 23h1m37-4h1m-31 42h1m29 6h1m-45 48h1m13-5h1m14 31h1m39 0h1m-54 25h1m4-15h1m47 29h1m4-11h1m-60 34h1m5 7h1m24-5h1m-75 34h1m1-21h1m11 11h1m3 5h1m44-2h1m0 5h1m10-5h1m5-18h1m-65 30h1m-1 8h1m68 17h1m14-18h1m-40 41h1m-60 27h1" stroke="#48dcd0" stroke-width="12"/>
<path d="M1593 46h1m-11 42h1m4-21h1m3 5h1m11 10h1m-18 17h1m61-7h1m-46 29h1m-24 53h1m25-1h1m58-20h1m-58 97h1m63 17h1m-39 29h1m0 16h1m-11 29h1m13-9h1m7 40h1m-34 21h1m28 16h1m10-10h1m-48 46h1m6-17h1m34-1h1m-77 33h1m91 12h1m4 1h1m-67 31h1m0-22h1m14 7h1m37 1h1m5 13h1m-15 34h1m7 1h1m-74 2h1m66 21h1m3-5h1m-60 27h1m16 13h1m48 41h1m-25 32h1m2 2h1m-32 35h1m15-6h1" stroke="#58e0e8" stroke-width="12"/>
<path d="M1596 51h1m-22 51h1m29 3h1m31 2h1m-50 25h1m34 28h1m-13 24h1m1-4h1m25 20h1m8-20h1m18 59h1m-96 21h1m40-19h1m43 2h1m-75 36h1m39 12h1m-53 20h1m63 17h1m-51 12h1m39 19h1m-26 23h1m39-17h1m-61 32h1m1-7h1m14 3h1m0 54h1m19-11h1m53 9h1m-94 17h1m64 5h1m10-16h1m-58 52h1m43-5h1m-38 51h1m14 15h1m39-3h1m-81 18h1m-9 71h1m67-19h1m0 13h1m22-7h1m-48 50h1m1-11h1m24-16h1m-68 36h1m89 0h1" stroke="#3cd8e4" stroke-width="12"/>
<path d="M1570 56h1m32-8h1m6 55h1m34 9h1m2-22h1m-58 81h1m-21 25h1m25 9h1m31-5h1m20 39h1m12-5h1m3 46h1m1-10h1m-92 49h1m25-2h1m44-11h1m14 23h1m-67 28h1m-4 45h1m2 10h1m15 2h1m4-16h1m-43 51h1m17-29h1m9 31h1m56 12h1m4-7h1m-80 44h1m6-9h1m13 14h1m-18 6h1m-13 56h1m39-22h1m-24 52h1m51-5h1m5-1h1m-35 33h1m49 19h1" stroke="#24b8d8" stroke-width="12"/>
<path d="M1634 49h1m-59 23h1m8 0h1m81-10h1m-67 34h1m38 0h1m6 8h1m-71 25h1m19 20h1m38 0h1m32 55h1m-6 22h1m-92 25h1m18-4h1m49 4h1m13 5h1m-83 23h1m28 0h1m18 50h1m1-28h1m-40 59h1m42 2h1m3 12h1m-57 34h1m17 6h1m12-19h1m13 5h1m50 65h1m-99 32h1m82-9h1m-76 32h1m0 9h1m3-19h1m24 10h1m-2 52h1m51 87h1m-37 25h1m3-21h1m-41 32h1" stroke="#30d0e0" stroke-width="12"/>
<path d="M1648 47h1m-44 36h1m13 9h1m31 11h1m-70 42h1m53-22h1m20 19h1m8-9h1m-4 17h1m-79 50h1m30 2h1m30 30h1m20 13h1m-8 50h1m-57 29h1m44-16h1m14-5h1m-44 49h1m-33 26h1m4 24h1m16-6h1m4-6h1m38 43h1m-76 57h1m27-8h1m39 6h1m16 12h1m-95 36h1m81 18h1m-71 26h1m3-9h1m52 24h1m-23 17h1m31 2h1m-60 21h1m-13 33h1m3 7h1m23-8h1" stroke="#28c4dc" stroke-width="12"/>
<path d="M1586 57h1m33 1h1m-36 21h1m20-12h1m5 2h1m34 7h1m15 7h1m-94 52h1m45 7h1m43-15h1m5-2h1m-42 30h1m20 9h1m4-14h1m-69 56h1m17-19h1m29 9h1m8-3h1m15-1h1m9 1h1m-42 44h1m33-26h1m-47 31h1m53 11h1m4-4h1m-75 22h1m33 5h1m21 1h1m1 4h1m-1 13h1m-10 23h1m10-9h1m-27 24h1m0 18h1m27 30h1m-64 23h1m6 25h1m11 19h1m5-15h1m0 15h1m47 4h1m-61 48h1m0-4h1m10-5h1m23-9h1m-78 37h1m28 15h1m37-21h1m-69 56h1m12-8h1m1 3h1m61-9h1m19 14h1m-17 4h1m14 6h1m-22 49h1m7-20h1m-84 32h1m24 19h1m20 0h1m4-14h1m11-1h1m-29 21h1m36-1h1m12 2h1m-50 39h1m33-8h1m1-4h1" stroke="#48dcd0" stroke-width="16"/>
<path d="M1595 49h1m16 4h1m20-6h1m-37 30h1m20-4h1m3-9h1m-1 10h1m24 26h1m-56 24h1m42 19h1m21-3h1m-54 15h1m25-1h1m34 20h1m2 2h1m-34 20h1m1 8h1m19 9h1m0 25h1m-88 48h1m33-15h1m12 25h1m24-22h1m-6 32h1m17-1h1m1-2h1m-44 54h1m17-17h1m-4 47h1m12-13h1m1 0h1m21-5h1m4-4h1m-98 44h1m58-4h1m11 43h1m-57 6h1m15 31h1m19 21h1m0-6h1m-45 31h1m19 5h1m30 3h1m-57 17h1m27 32h1m33 4h1m18 2h1m-68 33h1m14-21h1m15 6h1m31-7h1m6 18h1m-78 30h1m59-15h1m-46 51h1m5-27h1m50 5h1m-43 35h1" stroke="#24b8d8" stroke-width="16"/>
<path d="M1614 54h1m26-5h1m-13 32h1m-9 15h1m23 23h1m5-27h1m-55 47h1m15-19h1m21 24h1m30 29h1m-85 84h1m-9 39h1m55-12h1m17 13h1m-73 22h1m0-10h1m8 2h1m28 3h1m-39 35h1m10-12h1m1 8h1m47 0h1m24-13h1m-81 31h1m2 44h1m14-17h1m32 22h1m-59 50h1m26 16h1m66-28h1m-90 50h1m32 19h1m32-3h1m-61 42h1m26-4h1m0 3h1m-38 25h1m85 36h1m4 1h1m3-16h1m-69 45h1m3-4h1m11-7h1m49 9h1m-84 22h1m28 12h1m-28 14h1m22 10h1m59-2h1" stroke="#30d0e0" stroke-width="16"/>
<path d="M1599 62h1m44 3h1m-54 54h1m34-27h1m1 28h1m-18 50h1m59-10h1m-88 39h1m40-8h1m21-4h1m19 16h1m-86 33h1m60 9h1m14 73h1m-64 33h1m20-15h1m7 18h1m13 3h1m-5 23h1m-64 69h1m80-4h1m0-9h1m-41 35h1m-1 12h1m-15 45h1m-30 14h1m48-2h1m19 26h1m0 3h1m-35 26h1m1-24h1m1 57h1m-38 38h1m35 11h1m26-16h1m11 28h1m17-20h1m-79 29h1m19-5h1m0 12h1" stroke="#58e0e8" stroke-width="16"/>
<path d="M1615 67h1m10 17h1m4-5h1m20-3h1m-16 24h1m4 48h1m-38 18h1m-7 27h1m44 55h1m27-5h1m-58 51h1m5-3h1m19-13h1m23-4h1m-60 52h1m18-8h1m9-10h1m-57 22h1m59 4h1m-5 66h1m-1 7h1m-12 25h1m-3 23h1m14-1h1m3 22h1m2-23h1m2 11h1m22-2h1m-78 55h1m1-5h1m59 12h1m-68 74h1m16-28h1m35 5h1m-52 41h1m58-7h1m-50 49h1m-1 30h1m27-1h1m0 1h1" stroke="#28c4dc" stroke-width="16"/>
<path d="M1571 59h1m92-6h1m-83 17h1m40 15h1m23-8h1m19 5h1m-77 22h1m61 10h1m-50 24h1m9-10h1m-35 38h1m13-14h1m3 26h1m62-7h1m-61 27h1m-17 57h1m53 2h1m-19 24h1m8 15h1m41-6h1m-72 22h1m12 7h1m-20 30h1m26-18h1m21 1h1m7 20h1m-80 31h1m21-3h1m32-9h1m6 2h1m-45 46h1m32-2h1m-34 4h1m10 31h1m63 13h1m-62 33h1m17-9h1m23-2h1m-58 45h1m3 6h1m29-3h1m21-22h1m-56 44h1m25 10h1m28-15h1m-71 37h1m11-12h1m83 11h1m-95 59h1m43 14h1m-35 42h1" stroke="#3cd8e4" stroke-width="16"/>
</g>
<rect x="153.8" y="8" width="2.9" height="63.5" fill="#b8b8b8" opacity=".8"/>
<rect x="167.6" y="8" width="2.9" height="63.5" fill="#b8b8b8" opacity=".8"/>
<text class="se" x="8.8" y="15" font-size="12.4" style="font-weight:normal" stroke="#000" stroke-width=".5">(a)</text>
<rect x="178.6" y="168.70" width="10.4" height="4.70" fill="#e81010"/>
<rect x="178.6" y="173.10" width="10.4" height="8.65" fill="#ff5000"/>
<rect x="178.6" y="181.45" width="10.4" height="8.65" fill="#ffa000"/>
<rect x="178.6" y="189.80" width="10.4" height="8.65" fill="#ecf000"/>
<rect x="178.6" y="198.15" width="10.4" height="8.65" fill="#70e800"/>
<rect x="178.6" y="206.50" width="10.4" height="8.65" fill="#00e000"/>
<rect x="178.6" y="214.85" width="10.4" height="8.65" fill="#00e030"/>
<rect x="178.6" y="223.20" width="10.4" height="8.65" fill="#00e890"/>
<rect x="178.6" y="231.55" width="10.4" height="8.65" fill="#00e8e8"/>
<rect x="178.6" y="239.90" width="10.4" height="8.65" fill="#00a4f8"/>
<rect x="178.6" y="248.25" width="10.4" height="8.65" fill="#0050f0"/>
<rect x="178.6" y="256.60" width="10.4" height="4.60" fill="#0000d0"/>
<text x="193.4" y="176.8" font-size="7.5">5.0</text>
<text x="193.4" y="185.1" font-size="7.5">4.5</text>
<text x="193.4" y="193.5" font-size="7.5">4.0</text>
<text x="193.4" y="201.8" font-size="7.5">3.5</text>
<text x="193.4" y="210.2" font-size="7.5">3.0</text>
<text x="193.4" y="218.5" font-size="7.5">2.5</text>
<text x="193.4" y="226.8" font-size="7.5">2.0</text>
<text x="193.4" y="235.2" font-size="7.5">1.5</text>
<text x="193.4" y="243.5" font-size="7.5">1.0</text>
<text x="193.4" y="251.9" font-size="7.5">0.5</text>
<text x="193.4" y="260.2" font-size="7.5">0.0</text>
<text x="150" y="174.6" font-size="6.8">Bubble</text>
<text x="150" y="181.2" font-size="6.8">diameter</text>
<text x="150" y="187.8" font-size="6.8">(mm)</text>
<rect x="43.5" y="297.5" width="266.5" height="215.89999999999998" fill="none" stroke="#000" stroke-width="1.25"/>
<path d="M43.50 513.4v4M56.83 513.4v2.4M70.15 513.4v4M83.47 513.4v2.4M96.80 513.4v4M110.12 513.4v2.4M123.45 513.4v4M136.77 513.4v2.4M150.10 513.4v4M163.43 513.4v2.4M176.75 513.4v4M190.08 513.4v2.4M203.40 513.4v4M216.72 513.4v2.4M230.05 513.4v4M243.38 513.4v2.4M256.70 513.4v4M270.02 513.4v2.4M283.35 513.4v4M296.67 513.4v2.4M310.00 513.4v4M43.5 513.40h-4M310.0 513.40h-4M43.5 491.81h-2.4M310.0 491.81h-2.4M43.5 470.22h-4M310.0 470.22h-4M43.5 448.63h-2.4M310.0 448.63h-2.4M43.5 427.04h-4M310.0 427.04h-4M43.5 405.45h-2.4M310.0 405.45h-2.4M43.5 383.86h-4M310.0 383.86h-4M43.5 362.27h-2.4M310.0 362.27h-2.4M43.5 340.68h-4M310.0 340.68h-4M43.5 319.09h-2.4M310.0 319.09h-2.4M43.5 297.50h-4M310.0 297.50h-4" stroke="#000" stroke-width="1.2" fill="none"/>
<text x="41.0" y="528" font-size="8.7" text-anchor="middle">−255</text>
<text x="67.6" y="528" font-size="8.7" text-anchor="middle">−204</text>
<text x="94.3" y="528" font-size="8.7" text-anchor="middle">−153</text>
<text x="120.9" y="528" font-size="8.7" text-anchor="middle">−102</text>
<text x="147.6" y="528" font-size="8.7" text-anchor="middle">−51</text>
<text x="176.8" y="528" font-size="8.7" text-anchor="middle">0</text>
<text x="203.4" y="528" font-size="8.7" text-anchor="middle">51</text>
<text x="230.0" y="528" font-size="8.7" text-anchor="middle">102</text>
<text x="256.7" y="528" font-size="8.7" text-anchor="middle">153</text>
<text x="283.4" y="528" font-size="8.7" text-anchor="middle">204</text>
<text x="310.0" y="528" font-size="8.7" text-anchor="middle">255</text>
<text x="35.8" y="516.5" font-size="8.7" text-anchor="end">0.0</text>
<text x="35.8" y="473.3" font-size="8.7" text-anchor="end">0.2</text>
<text x="35.8" y="430.1" font-size="8.7" text-anchor="end">0.4</text>
<text x="35.8" y="387.0" font-size="8.7" text-anchor="end">0.6</text>
<text x="35.8" y="343.8" font-size="8.7" text-anchor="end">0.8</text>
<text x="35.8" y="300.6" font-size="8.7" text-anchor="end">1.0</text>
<text x="176.1" y="544.5" font-size="11.1" text-anchor="middle">Distance from SEN center (mm)</text>
<text transform="translate(18.8 405) rotate(-90)" font-size="11.15" text-anchor="middle">Average bubble diameter (mm)</text>
<text x="8.2" y="301.2" font-size="10.5">(b)</text>
<polyline points="49.5,506.1 62.1,504.6 74.7,500.1 87.3,499.6 99.9,493.4 112.5,485.2 125.1,476.0 137.7,464.8 150.3,475.3 162.9,467.3" fill="none" stroke="#8c8c8c" stroke-width="0.8"/>
<rect x="47.3" y="503.9" width="4.4" height="4.4" fill="#3c3c3c"/>
<rect x="59.9" y="502.4" width="4.4" height="4.4" fill="#3c3c3c"/>
<rect x="72.5" y="497.9" width="4.4" height="4.4" fill="#3c3c3c"/>
<rect x="85.1" y="497.4" width="4.4" height="4.4" fill="#3c3c3c"/>
<rect x="97.7" y="491.2" width="4.4" height="4.4" fill="#3c3c3c"/>
<rect x="110.3" y="483.0" width="4.4" height="4.4" fill="#3c3c3c"/>
<rect x="122.9" y="473.8" width="4.4" height="4.4" fill="#3c3c3c"/>
<rect x="135.5" y="462.6" width="4.4" height="4.4" fill="#3c3c3c"/>
<rect x="148.1" y="473.1" width="4.4" height="4.4" fill="#3c3c3c"/>
<rect x="160.7" y="465.1" width="4.4" height="4.4" fill="#3c3c3c"/>
<polyline points="190.4,467.3 203.0,471.1 215.7,469.3 228.3,474.0 240.9,481.0 253.6,488.4 266.2,492.9 278.8,503.1 291.4,504.1 304.1,506.1" fill="none" stroke="#8c8c8c" stroke-width="0.8"/>
<rect x="188.2" y="465.1" width="4.4" height="4.4" fill="#3c3c3c"/>
<rect x="200.8" y="468.9" width="4.4" height="4.4" fill="#3c3c3c"/>
<rect x="213.5" y="467.1" width="4.4" height="4.4" fill="#3c3c3c"/>
<rect x="226.1" y="471.8" width="4.4" height="4.4" fill="#3c3c3c"/>
<rect x="238.7" y="478.8" width="4.4" height="4.4" fill="#3c3c3c"/>
<rect x="251.4" y="486.2" width="4.4" height="4.4" fill="#3c3c3c"/>
<rect x="264.0" y="490.7" width="4.4" height="4.4" fill="#3c3c3c"/>
<rect x="276.6" y="500.9" width="4.4" height="4.4" fill="#3c3c3c"/>
<rect x="289.2" y="501.9" width="4.4" height="4.4" fill="#3c3c3c"/>
<rect x="301.9" y="503.9" width="4.4" height="4.4" fill="#3c3c3c"/>
<polyline points="49.5,424.7 62.1,428.4 74.7,431.4 87.3,432.2 99.9,433.4 112.5,428.9 125.1,418.5 137.7,412.8 150.3,418.5 162.9,392.9" fill="none" stroke="#f47c7c" stroke-width="0.8"/>
<circle cx="49.5" cy="424.7" r="2.6" fill="#f43030"/>
<circle cx="62.1" cy="428.4" r="2.6" fill="#f43030"/>
<circle cx="74.7" cy="431.4" r="2.6" fill="#f43030"/>
<circle cx="87.3" cy="432.2" r="2.6" fill="#f43030"/>
<circle cx="99.9" cy="433.4" r="2.6" fill="#f43030"/>
<circle cx="112.5" cy="428.9" r="2.6" fill="#f43030"/>
<circle cx="125.1" cy="418.5" r="2.6" fill="#f43030"/>
<circle cx="137.7" cy="412.8" r="2.6" fill="#f43030"/>
<circle cx="150.3" cy="418.5" r="2.6" fill="#f43030"/>
<circle cx="162.9" cy="392.9" r="2.6" fill="#f43030"/>
<polyline points="190.4,395.4 203.0,419.8 215.7,416.5 228.3,420.5 240.9,421.7 253.6,427.7 266.2,429.7 278.8,432.9 291.4,428.9 304.1,430.9" fill="none" stroke="#f47c7c" stroke-width="0.8"/>
<circle cx="190.4" cy="395.4" r="2.6" fill="#f43030"/>
<circle cx="203.0" cy="419.8" r="2.6" fill="#f43030"/>
<circle cx="215.7" cy="416.5" r="2.6" fill="#f43030"/>
<circle cx="228.3" cy="420.5" r="2.6" fill="#f43030"/>
<circle cx="240.9" cy="421.7" r="2.6" fill="#f43030"/>
<circle cx="253.6" cy="427.7" r="2.6" fill="#f43030"/>
<circle cx="266.2" cy="429.7" r="2.6" fill="#f43030"/>
<circle cx="278.8" cy="432.9" r="2.6" fill="#f43030"/>
<circle cx="291.4" cy="428.9" r="2.6" fill="#f43030"/>
<circle cx="304.1" cy="430.9" r="2.6" fill="#f43030"/>
<polyline points="49.5,442.1 62.1,448.3 74.7,437.6 87.3,419.0 99.9,427.2 112.5,407.8 125.1,380.3 137.7,378.3 150.3,345.5 162.9,328.6" fill="none" stroke="#3c8cf0" stroke-width="0.8"/>
<path d="M49.5 438.7l3.3 5.6h-6.6z" fill="#0c58e0"/>
<path d="M62.1 444.9l3.3 5.6h-6.6z" fill="#0c58e0"/>
<path d="M74.7 434.2l3.3 5.6h-6.6z" fill="#0c58e0"/>
<path d="M87.3 415.6l3.3 5.6h-6.6z" fill="#0c58e0"/>
<path d="M99.9 423.8l3.3 5.6h-6.6z" fill="#0c58e0"/>
<path d="M112.5 404.4l3.3 5.6h-6.6z" fill="#0c58e0"/>
<path d="M125.1 376.9l3.3 5.6h-6.6z" fill="#0c58e0"/>
<path d="M137.7 374.9l3.3 5.6h-6.6z" fill="#0c58e0"/>
<path d="M150.3 342.1l3.3 5.6h-6.6z" fill="#0c58e0"/>
<path d="M162.9 325.2l3.3 5.6h-6.6z" fill="#0c58e0"/>
<polyline points="190.4,316.1 203.0,332.8 215.7,365.8 228.3,389.9 240.9,422.2 253.6,410.8 266.2,414.0 278.8,412.8 291.4,406.1 304.1,415.3" fill="none" stroke="#3c8cf0" stroke-width="0.8"/>
<path d="M190.4 312.7l3.3 5.6h-6.6z" fill="#0c58e0"/>
<path d="M203.0 329.4l3.3 5.6h-6.6z" fill="#0c58e0"/>
<path d="M215.7 362.4l3.3 5.6h-6.6z" fill="#0c58e0"/>
<path d="M228.3 386.5l3.3 5.6h-6.6z" fill="#0c58e0"/>
<path d="M240.9 418.8l3.3 5.6h-6.6z" fill="#0c58e0"/>
<path d="M253.6 407.4l3.3 5.6h-6.6z" fill="#0c58e0"/>
<path d="M266.2 410.6l3.3 5.6h-6.6z" fill="#0c58e0"/>
<path d="M278.8 409.4l3.3 5.6h-6.6z" fill="#0c58e0"/>
<path d="M291.4 402.7l3.3 5.6h-6.6z" fill="#0c58e0"/>
<path d="M304.1 411.9l3.3 5.6h-6.6z" fill="#0c58e0"/>
<rect x="213.5" y="300.5" width="94.8" height="34.6" fill="#fff" stroke="#888" stroke-width="0.8"/>
<path d="M215.2 306.3H235.2" stroke="#8c8c8c" stroke-width="0.8"/>
<rect x="222.8" y="304.1" width="4.4" height="4.4" fill="#3c3c3c"/>
<text x="238.3" y="309.5" font-size="9.05">Taylor model</text>
<path d="M215.2 317.9H235.2" stroke="#f47c7c" stroke-width="0.8"/>
<circle cx="225.0" cy="317.9" r="2.6" fill="#f43030"/>
<text x="238.3" y="321.1" font-size="9.05">K-H model</text>
<path d="M215.2 329.2H235.2" stroke="#3c8cf0" stroke-width="0.8"/>
<path d="M225.0 325.8l3.3 5.6h-6.6z" fill="#0c58e0"/>
<text x="238.3" y="332.4" font-size="9.05">Stochastic model</text>
</svg></body></html>
